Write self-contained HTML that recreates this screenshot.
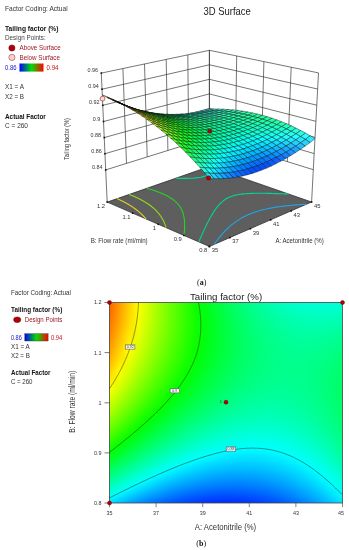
<!DOCTYPE html>
<html><head><meta charset="utf-8"><title>Tailing factor response surface</title>
<style>html,body{margin:0;padding:0;background:#fff}body{width:349px;height:550px;overflow:hidden}svg{display:block}
.cap{position:absolute;font-family:"Liberation Serif",serif;font-size:8px;color:#111;white-space:nowrap}</style></head>
<body>
<svg width="349" height="550" viewBox="0 0 349 550" font-family='"Liberation Sans", sans-serif'>
<defs><linearGradient id="g0"><stop offset="0" stop-color="#ff6200"/><stop offset="0.04167" stop-color="#ff9900"/><stop offset="0.08333" stop-color="#ffce00"/><stop offset="0.125" stop-color="#feff00"/><stop offset="0.1667" stop-color="#cfff00"/><stop offset="0.2083" stop-color="#a2ff00"/><stop offset="0.25" stop-color="#77ff00"/><stop offset="0.2917" stop-color="#4fff00"/><stop offset="0.3333" stop-color="#29ff00"/><stop offset="0.375" stop-color="#07ff00"/><stop offset="0.4167" stop-color="#00ff1a"/><stop offset="0.4583" stop-color="#00ff38"/><stop offset="0.5" stop-color="#00ff53"/><stop offset="0.5417" stop-color="#00ff6c"/><stop offset="0.5833" stop-color="#00ff82"/><stop offset="0.625" stop-color="#00ff96"/><stop offset="0.6667" stop-color="#00ffa7"/><stop offset="0.7083" stop-color="#00ffb6"/><stop offset="0.75" stop-color="#00ffc2"/><stop offset="0.7917" stop-color="#00ffcc"/><stop offset="0.8333" stop-color="#00ffd3"/><stop offset="0.875" stop-color="#00ffd7"/><stop offset="0.9167" stop-color="#00ffd9"/><stop offset="0.9583" stop-color="#00ffd9"/><stop offset="1" stop-color="#00ffd6"/></linearGradient><linearGradient id="g1"><stop offset="0" stop-color="#ff6300"/><stop offset="0.04167" stop-color="#ff9a00"/><stop offset="0.08333" stop-color="#ffce00"/><stop offset="0.125" stop-color="#feff00"/><stop offset="0.1667" stop-color="#ceff00"/><stop offset="0.2083" stop-color="#a2ff00"/><stop offset="0.25" stop-color="#77ff00"/><stop offset="0.2917" stop-color="#50ff00"/><stop offset="0.3333" stop-color="#2aff00"/><stop offset="0.375" stop-color="#08ff00"/><stop offset="0.4167" stop-color="#00ff19"/><stop offset="0.4583" stop-color="#00ff36"/><stop offset="0.5" stop-color="#00ff51"/><stop offset="0.5417" stop-color="#00ff6a"/><stop offset="0.5833" stop-color="#00ff80"/><stop offset="0.625" stop-color="#00ff93"/><stop offset="0.6667" stop-color="#00ffa4"/><stop offset="0.7083" stop-color="#00ffb3"/><stop offset="0.75" stop-color="#00ffbf"/><stop offset="0.7917" stop-color="#00ffc8"/><stop offset="0.8333" stop-color="#00ffcf"/><stop offset="0.875" stop-color="#00ffd3"/><stop offset="0.9167" stop-color="#00ffd5"/><stop offset="0.9583" stop-color="#00ffd4"/><stop offset="1" stop-color="#00ffd1"/></linearGradient><linearGradient id="g2"><stop offset="0" stop-color="#ff6400"/><stop offset="0.04167" stop-color="#ff9b00"/><stop offset="0.08333" stop-color="#ffcf00"/><stop offset="0.125" stop-color="#fdff00"/><stop offset="0.1667" stop-color="#ceff00"/><stop offset="0.2083" stop-color="#a1ff00"/><stop offset="0.25" stop-color="#77ff00"/><stop offset="0.2917" stop-color="#50ff00"/><stop offset="0.3333" stop-color="#2bff00"/><stop offset="0.375" stop-color="#09ff00"/><stop offset="0.4167" stop-color="#00ff17"/><stop offset="0.4583" stop-color="#00ff35"/><stop offset="0.5" stop-color="#00ff4f"/><stop offset="0.5417" stop-color="#00ff68"/><stop offset="0.5833" stop-color="#00ff7e"/><stop offset="0.625" stop-color="#00ff91"/><stop offset="0.6667" stop-color="#00ffa1"/><stop offset="0.7083" stop-color="#00ffb0"/><stop offset="0.75" stop-color="#00ffbb"/><stop offset="0.7917" stop-color="#00ffc4"/><stop offset="0.8333" stop-color="#00ffcb"/><stop offset="0.875" stop-color="#00ffcf"/><stop offset="0.9167" stop-color="#00ffd0"/><stop offset="0.9583" stop-color="#00ffcf"/><stop offset="1" stop-color="#00ffcc"/></linearGradient><linearGradient id="g3"><stop offset="0" stop-color="#ff6600"/><stop offset="0.04167" stop-color="#ff9c00"/><stop offset="0.08333" stop-color="#ffd000"/><stop offset="0.125" stop-color="#fcff00"/><stop offset="0.1667" stop-color="#ceff00"/><stop offset="0.2083" stop-color="#a1ff00"/><stop offset="0.25" stop-color="#78ff00"/><stop offset="0.2917" stop-color="#50ff00"/><stop offset="0.3333" stop-color="#2cff00"/><stop offset="0.375" stop-color="#09ff00"/><stop offset="0.4167" stop-color="#00ff16"/><stop offset="0.4583" stop-color="#00ff33"/><stop offset="0.5" stop-color="#00ff4e"/><stop offset="0.5417" stop-color="#00ff66"/><stop offset="0.5833" stop-color="#00ff7b"/><stop offset="0.625" stop-color="#00ff8e"/><stop offset="0.6667" stop-color="#00ff9f"/><stop offset="0.7083" stop-color="#00ffad"/><stop offset="0.75" stop-color="#00ffb8"/><stop offset="0.7917" stop-color="#00ffc1"/><stop offset="0.8333" stop-color="#00ffc7"/><stop offset="0.875" stop-color="#00ffcb"/><stop offset="0.9167" stop-color="#00ffcc"/><stop offset="0.9583" stop-color="#00ffcb"/><stop offset="1" stop-color="#00ffc7"/></linearGradient><linearGradient id="g4"><stop offset="0" stop-color="#ff6800"/><stop offset="0.04167" stop-color="#ff9e00"/><stop offset="0.08333" stop-color="#ffd100"/><stop offset="0.125" stop-color="#fcff00"/><stop offset="0.1667" stop-color="#cdff00"/><stop offset="0.2083" stop-color="#a1ff00"/><stop offset="0.25" stop-color="#78ff00"/><stop offset="0.2917" stop-color="#51ff00"/><stop offset="0.3333" stop-color="#2cff00"/><stop offset="0.375" stop-color="#0aff00"/><stop offset="0.4167" stop-color="#00ff15"/><stop offset="0.4583" stop-color="#00ff32"/><stop offset="0.5" stop-color="#00ff4c"/><stop offset="0.5417" stop-color="#00ff64"/><stop offset="0.5833" stop-color="#00ff79"/><stop offset="0.625" stop-color="#00ff8c"/><stop offset="0.6667" stop-color="#00ff9c"/><stop offset="0.7083" stop-color="#00ffaa"/><stop offset="0.75" stop-color="#00ffb5"/><stop offset="0.7917" stop-color="#00ffbd"/><stop offset="0.8333" stop-color="#00ffc3"/><stop offset="0.875" stop-color="#00ffc7"/><stop offset="0.9167" stop-color="#00ffc8"/><stop offset="0.9583" stop-color="#00ffc6"/><stop offset="1" stop-color="#00ffc2"/></linearGradient><linearGradient id="g5"><stop offset="0" stop-color="#ff6900"/><stop offset="0.04167" stop-color="#ff9f00"/><stop offset="0.08333" stop-color="#ffd300"/><stop offset="0.125" stop-color="#fbff00"/><stop offset="0.1667" stop-color="#ccff00"/><stop offset="0.2083" stop-color="#a1ff00"/><stop offset="0.25" stop-color="#77ff00"/><stop offset="0.2917" stop-color="#51ff00"/><stop offset="0.3333" stop-color="#2dff00"/><stop offset="0.375" stop-color="#0bff00"/><stop offset="0.4167" stop-color="#00ff14"/><stop offset="0.4583" stop-color="#00ff31"/><stop offset="0.5" stop-color="#00ff4b"/><stop offset="0.5417" stop-color="#00ff62"/><stop offset="0.5833" stop-color="#00ff77"/><stop offset="0.625" stop-color="#00ff8a"/><stop offset="0.6667" stop-color="#00ff9a"/><stop offset="0.7083" stop-color="#00ffa7"/><stop offset="0.75" stop-color="#00ffb2"/><stop offset="0.7917" stop-color="#00ffba"/><stop offset="0.8333" stop-color="#00ffc0"/><stop offset="0.875" stop-color="#00ffc3"/><stop offset="0.9167" stop-color="#00ffc4"/><stop offset="0.9583" stop-color="#00ffc2"/><stop offset="1" stop-color="#00ffbe"/></linearGradient><linearGradient id="g6"><stop offset="0" stop-color="#ff6b00"/><stop offset="0.04167" stop-color="#ffa100"/><stop offset="0.08333" stop-color="#ffd400"/><stop offset="0.125" stop-color="#faff00"/><stop offset="0.1667" stop-color="#ccff00"/><stop offset="0.2083" stop-color="#a0ff00"/><stop offset="0.25" stop-color="#77ff00"/><stop offset="0.2917" stop-color="#51ff00"/><stop offset="0.3333" stop-color="#2dff00"/><stop offset="0.375" stop-color="#0bff00"/><stop offset="0.4167" stop-color="#00ff13"/><stop offset="0.4583" stop-color="#00ff30"/><stop offset="0.5" stop-color="#00ff49"/><stop offset="0.5417" stop-color="#00ff61"/><stop offset="0.5833" stop-color="#00ff75"/><stop offset="0.625" stop-color="#00ff88"/><stop offset="0.6667" stop-color="#00ff97"/><stop offset="0.7083" stop-color="#00ffa4"/><stop offset="0.75" stop-color="#00ffaf"/><stop offset="0.7917" stop-color="#00ffb7"/><stop offset="0.8333" stop-color="#00ffbc"/><stop offset="0.875" stop-color="#00ffbf"/><stop offset="0.9167" stop-color="#00ffc0"/><stop offset="0.9583" stop-color="#00ffbe"/><stop offset="1" stop-color="#00ffb9"/></linearGradient><linearGradient id="g7"><stop offset="0" stop-color="#ff6d00"/><stop offset="0.04167" stop-color="#ffa200"/><stop offset="0.08333" stop-color="#ffd500"/><stop offset="0.125" stop-color="#f8ff00"/><stop offset="0.1667" stop-color="#cbff00"/><stop offset="0.2083" stop-color="#9fff00"/><stop offset="0.25" stop-color="#77ff00"/><stop offset="0.2917" stop-color="#51ff00"/><stop offset="0.3333" stop-color="#2dff00"/><stop offset="0.375" stop-color="#0cff00"/><stop offset="0.4167" stop-color="#00ff13"/><stop offset="0.4583" stop-color="#00ff2f"/><stop offset="0.5" stop-color="#00ff48"/><stop offset="0.5417" stop-color="#00ff5f"/><stop offset="0.5833" stop-color="#00ff74"/><stop offset="0.625" stop-color="#00ff86"/><stop offset="0.6667" stop-color="#00ff95"/><stop offset="0.7083" stop-color="#00ffa2"/><stop offset="0.75" stop-color="#00ffac"/><stop offset="0.7917" stop-color="#00ffb4"/><stop offset="0.8333" stop-color="#00ffb9"/><stop offset="0.875" stop-color="#00ffbc"/><stop offset="0.9167" stop-color="#00ffbc"/><stop offset="0.9583" stop-color="#00ffba"/><stop offset="1" stop-color="#00ffb5"/></linearGradient><linearGradient id="g8"><stop offset="0" stop-color="#ff6f00"/><stop offset="0.04167" stop-color="#ffa400"/><stop offset="0.08333" stop-color="#ffd700"/><stop offset="0.125" stop-color="#f7ff00"/><stop offset="0.1667" stop-color="#caff00"/><stop offset="0.2083" stop-color="#9fff00"/><stop offset="0.25" stop-color="#76ff00"/><stop offset="0.2917" stop-color="#50ff00"/><stop offset="0.3333" stop-color="#2dff00"/><stop offset="0.375" stop-color="#0cff00"/><stop offset="0.4167" stop-color="#00ff12"/><stop offset="0.4583" stop-color="#00ff2e"/><stop offset="0.5" stop-color="#00ff47"/><stop offset="0.5417" stop-color="#00ff5e"/><stop offset="0.5833" stop-color="#00ff72"/><stop offset="0.625" stop-color="#00ff84"/><stop offset="0.6667" stop-color="#00ff93"/><stop offset="0.7083" stop-color="#00ff9f"/><stop offset="0.75" stop-color="#00ffa9"/><stop offset="0.7917" stop-color="#00ffb1"/><stop offset="0.8333" stop-color="#00ffb6"/><stop offset="0.875" stop-color="#00ffb8"/><stop offset="0.9167" stop-color="#00ffb8"/><stop offset="0.9583" stop-color="#00ffb6"/><stop offset="1" stop-color="#00ffb1"/></linearGradient><linearGradient id="g9"><stop offset="0" stop-color="#ff7100"/><stop offset="0.04167" stop-color="#ffa600"/><stop offset="0.08333" stop-color="#ffd900"/><stop offset="0.125" stop-color="#f6ff00"/><stop offset="0.1667" stop-color="#c8ff00"/><stop offset="0.2083" stop-color="#9eff00"/><stop offset="0.25" stop-color="#76ff00"/><stop offset="0.2917" stop-color="#50ff00"/><stop offset="0.3333" stop-color="#2dff00"/><stop offset="0.375" stop-color="#0cff00"/><stop offset="0.4167" stop-color="#00ff12"/><stop offset="0.4583" stop-color="#00ff2d"/><stop offset="0.5" stop-color="#00ff46"/><stop offset="0.5417" stop-color="#00ff5d"/><stop offset="0.5833" stop-color="#00ff71"/><stop offset="0.625" stop-color="#00ff82"/><stop offset="0.6667" stop-color="#00ff91"/><stop offset="0.7083" stop-color="#00ff9d"/><stop offset="0.75" stop-color="#00ffa7"/><stop offset="0.7917" stop-color="#00ffae"/><stop offset="0.8333" stop-color="#00ffb3"/><stop offset="0.875" stop-color="#00ffb5"/><stop offset="0.9167" stop-color="#00ffb5"/><stop offset="0.9583" stop-color="#00ffb2"/><stop offset="1" stop-color="#00ffac"/></linearGradient><linearGradient id="g10"><stop offset="0" stop-color="#ff7400"/><stop offset="0.04167" stop-color="#ffa800"/><stop offset="0.08333" stop-color="#ffda00"/><stop offset="0.125" stop-color="#f4ff00"/><stop offset="0.1667" stop-color="#c7ff00"/><stop offset="0.2083" stop-color="#9dff00"/><stop offset="0.25" stop-color="#75ff00"/><stop offset="0.2917" stop-color="#50ff00"/><stop offset="0.3333" stop-color="#2dff00"/><stop offset="0.375" stop-color="#0cff00"/><stop offset="0.4167" stop-color="#00ff11"/><stop offset="0.4583" stop-color="#00ff2d"/><stop offset="0.5" stop-color="#00ff45"/><stop offset="0.5417" stop-color="#00ff5c"/><stop offset="0.5833" stop-color="#00ff6f"/><stop offset="0.625" stop-color="#00ff80"/><stop offset="0.6667" stop-color="#00ff8f"/><stop offset="0.7083" stop-color="#00ff9b"/><stop offset="0.75" stop-color="#00ffa4"/><stop offset="0.7917" stop-color="#00ffab"/><stop offset="0.8333" stop-color="#00ffb0"/><stop offset="0.875" stop-color="#00ffb2"/><stop offset="0.9167" stop-color="#00ffb1"/><stop offset="0.9583" stop-color="#00ffae"/><stop offset="1" stop-color="#00ffa8"/></linearGradient><linearGradient id="g11"><stop offset="0" stop-color="#ff7600"/><stop offset="0.04167" stop-color="#ffaa00"/><stop offset="0.08333" stop-color="#ffdc00"/><stop offset="0.125" stop-color="#f3ff00"/><stop offset="0.1667" stop-color="#c6ff00"/><stop offset="0.2083" stop-color="#9cff00"/><stop offset="0.25" stop-color="#74ff00"/><stop offset="0.2917" stop-color="#4fff00"/><stop offset="0.3333" stop-color="#2cff00"/><stop offset="0.375" stop-color="#0cff00"/><stop offset="0.4167" stop-color="#00ff11"/><stop offset="0.4583" stop-color="#00ff2c"/><stop offset="0.5" stop-color="#00ff45"/><stop offset="0.5417" stop-color="#00ff5a"/><stop offset="0.5833" stop-color="#00ff6e"/><stop offset="0.625" stop-color="#00ff7f"/><stop offset="0.6667" stop-color="#00ff8d"/><stop offset="0.7083" stop-color="#00ff99"/><stop offset="0.75" stop-color="#00ffa2"/><stop offset="0.7917" stop-color="#00ffa9"/><stop offset="0.8333" stop-color="#00ffad"/><stop offset="0.875" stop-color="#00ffaf"/><stop offset="0.9167" stop-color="#00ffae"/><stop offset="0.9583" stop-color="#00ffaa"/><stop offset="1" stop-color="#00ffa4"/></linearGradient><linearGradient id="g12"><stop offset="0" stop-color="#ff7900"/><stop offset="0.04167" stop-color="#ffad00"/><stop offset="0.08333" stop-color="#ffde00"/><stop offset="0.125" stop-color="#f1ff00"/><stop offset="0.1667" stop-color="#c4ff00"/><stop offset="0.2083" stop-color="#9aff00"/><stop offset="0.25" stop-color="#73ff00"/><stop offset="0.2917" stop-color="#4eff00"/><stop offset="0.3333" stop-color="#2cff00"/><stop offset="0.375" stop-color="#0cff00"/><stop offset="0.4167" stop-color="#00ff11"/><stop offset="0.4583" stop-color="#00ff2c"/><stop offset="0.5" stop-color="#00ff44"/><stop offset="0.5417" stop-color="#00ff5a"/><stop offset="0.5833" stop-color="#00ff6d"/><stop offset="0.625" stop-color="#00ff7d"/><stop offset="0.6667" stop-color="#00ff8b"/><stop offset="0.7083" stop-color="#00ff97"/><stop offset="0.75" stop-color="#00ffa0"/><stop offset="0.7917" stop-color="#00ffa6"/><stop offset="0.8333" stop-color="#00ffaa"/><stop offset="0.875" stop-color="#00ffac"/><stop offset="0.9167" stop-color="#00ffaa"/><stop offset="0.9583" stop-color="#00ffa7"/><stop offset="1" stop-color="#00ffa1"/></linearGradient><linearGradient id="g13"><stop offset="0" stop-color="#ff7b00"/><stop offset="0.04167" stop-color="#ffaf00"/><stop offset="0.08333" stop-color="#ffe000"/><stop offset="0.125" stop-color="#efff00"/><stop offset="0.1667" stop-color="#c3ff00"/><stop offset="0.2083" stop-color="#99ff00"/><stop offset="0.25" stop-color="#72ff00"/><stop offset="0.2917" stop-color="#4dff00"/><stop offset="0.3333" stop-color="#2bff00"/><stop offset="0.375" stop-color="#0cff00"/><stop offset="0.4167" stop-color="#00ff11"/><stop offset="0.4583" stop-color="#00ff2c"/><stop offset="0.5" stop-color="#00ff43"/><stop offset="0.5417" stop-color="#00ff59"/><stop offset="0.5833" stop-color="#00ff6c"/><stop offset="0.625" stop-color="#00ff7c"/><stop offset="0.6667" stop-color="#00ff8a"/><stop offset="0.7083" stop-color="#00ff95"/><stop offset="0.75" stop-color="#00ff9e"/><stop offset="0.7917" stop-color="#00ffa4"/><stop offset="0.8333" stop-color="#00ffa8"/><stop offset="0.875" stop-color="#00ffa9"/><stop offset="0.9167" stop-color="#00ffa7"/><stop offset="0.9583" stop-color="#00ffa3"/><stop offset="1" stop-color="#00ff9d"/></linearGradient><linearGradient id="g14"><stop offset="0" stop-color="#ff7e00"/><stop offset="0.04167" stop-color="#ffb200"/><stop offset="0.08333" stop-color="#ffe300"/><stop offset="0.125" stop-color="#edff00"/><stop offset="0.1667" stop-color="#c1ff00"/><stop offset="0.2083" stop-color="#98ff00"/><stop offset="0.25" stop-color="#71ff00"/><stop offset="0.2917" stop-color="#4dff00"/><stop offset="0.3333" stop-color="#2bff00"/><stop offset="0.375" stop-color="#0bff00"/><stop offset="0.4167" stop-color="#00ff11"/><stop offset="0.4583" stop-color="#00ff2b"/><stop offset="0.5" stop-color="#00ff43"/><stop offset="0.5417" stop-color="#00ff58"/><stop offset="0.5833" stop-color="#00ff6b"/><stop offset="0.625" stop-color="#00ff7b"/><stop offset="0.6667" stop-color="#00ff88"/><stop offset="0.7083" stop-color="#00ff93"/><stop offset="0.75" stop-color="#00ff9c"/><stop offset="0.7917" stop-color="#00ffa2"/><stop offset="0.8333" stop-color="#00ffa5"/><stop offset="0.875" stop-color="#00ffa6"/><stop offset="0.9167" stop-color="#00ffa4"/><stop offset="0.9583" stop-color="#00ffa0"/><stop offset="1" stop-color="#00ff99"/></linearGradient><linearGradient id="g15"><stop offset="0" stop-color="#ff8100"/><stop offset="0.04167" stop-color="#ffb400"/><stop offset="0.08333" stop-color="#ffe500"/><stop offset="0.125" stop-color="#ebff00"/><stop offset="0.1667" stop-color="#bfff00"/><stop offset="0.2083" stop-color="#96ff00"/><stop offset="0.25" stop-color="#70ff00"/><stop offset="0.2917" stop-color="#4bff00"/><stop offset="0.3333" stop-color="#2aff00"/><stop offset="0.375" stop-color="#0bff00"/><stop offset="0.4167" stop-color="#00ff11"/><stop offset="0.4583" stop-color="#00ff2b"/><stop offset="0.5" stop-color="#00ff43"/><stop offset="0.5417" stop-color="#00ff58"/><stop offset="0.5833" stop-color="#00ff6a"/><stop offset="0.625" stop-color="#00ff7a"/><stop offset="0.6667" stop-color="#00ff87"/><stop offset="0.7083" stop-color="#00ff92"/><stop offset="0.75" stop-color="#00ff9a"/><stop offset="0.7917" stop-color="#00ffa0"/><stop offset="0.8333" stop-color="#00ffa3"/><stop offset="0.875" stop-color="#00ffa3"/><stop offset="0.9167" stop-color="#00ffa1"/><stop offset="0.9583" stop-color="#00ff9d"/><stop offset="1" stop-color="#00ff96"/></linearGradient><linearGradient id="g16"><stop offset="0" stop-color="#ff8400"/><stop offset="0.04167" stop-color="#ffb700"/><stop offset="0.08333" stop-color="#ffe700"/><stop offset="0.125" stop-color="#e9ff00"/><stop offset="0.1667" stop-color="#bdff00"/><stop offset="0.2083" stop-color="#94ff00"/><stop offset="0.25" stop-color="#6eff00"/><stop offset="0.2917" stop-color="#4aff00"/><stop offset="0.3333" stop-color="#29ff00"/><stop offset="0.375" stop-color="#0aff00"/><stop offset="0.4167" stop-color="#00ff12"/><stop offset="0.4583" stop-color="#00ff2c"/><stop offset="0.5" stop-color="#00ff43"/><stop offset="0.5417" stop-color="#00ff57"/><stop offset="0.5833" stop-color="#00ff69"/><stop offset="0.625" stop-color="#00ff79"/><stop offset="0.6667" stop-color="#00ff86"/><stop offset="0.7083" stop-color="#00ff90"/><stop offset="0.75" stop-color="#00ff98"/><stop offset="0.7917" stop-color="#00ff9e"/><stop offset="0.8333" stop-color="#00ffa0"/><stop offset="0.875" stop-color="#00ffa1"/><stop offset="0.9167" stop-color="#00ff9f"/><stop offset="0.9583" stop-color="#00ff9a"/><stop offset="1" stop-color="#00ff93"/></linearGradient><linearGradient id="g17"><stop offset="0" stop-color="#ff8700"/><stop offset="0.04167" stop-color="#ffba00"/><stop offset="0.08333" stop-color="#ffea00"/><stop offset="0.125" stop-color="#e6ff00"/><stop offset="0.1667" stop-color="#bbff00"/><stop offset="0.2083" stop-color="#93ff00"/><stop offset="0.25" stop-color="#6dff00"/><stop offset="0.2917" stop-color="#49ff00"/><stop offset="0.3333" stop-color="#28ff00"/><stop offset="0.375" stop-color="#0aff00"/><stop offset="0.4167" stop-color="#00ff12"/><stop offset="0.4583" stop-color="#00ff2c"/><stop offset="0.5" stop-color="#00ff43"/><stop offset="0.5417" stop-color="#00ff57"/><stop offset="0.5833" stop-color="#00ff69"/><stop offset="0.625" stop-color="#00ff78"/><stop offset="0.6667" stop-color="#00ff85"/><stop offset="0.7083" stop-color="#00ff8f"/><stop offset="0.75" stop-color="#00ff97"/><stop offset="0.7917" stop-color="#00ff9c"/><stop offset="0.8333" stop-color="#00ff9e"/><stop offset="0.875" stop-color="#00ff9e"/><stop offset="0.9167" stop-color="#00ff9c"/><stop offset="0.9583" stop-color="#00ff97"/><stop offset="1" stop-color="#00ff8f"/></linearGradient><linearGradient id="g18"><stop offset="0" stop-color="#ff8a00"/><stop offset="0.04167" stop-color="#ffbd00"/><stop offset="0.08333" stop-color="#ffed00"/><stop offset="0.125" stop-color="#e4ff00"/><stop offset="0.1667" stop-color="#b9ff00"/><stop offset="0.2083" stop-color="#91ff00"/><stop offset="0.25" stop-color="#6bff00"/><stop offset="0.2917" stop-color="#48ff00"/><stop offset="0.3333" stop-color="#27ff00"/><stop offset="0.375" stop-color="#09ff00"/><stop offset="0.4167" stop-color="#00ff13"/><stop offset="0.4583" stop-color="#00ff2c"/><stop offset="0.5" stop-color="#00ff43"/><stop offset="0.5417" stop-color="#00ff57"/><stop offset="0.5833" stop-color="#00ff68"/><stop offset="0.625" stop-color="#00ff77"/><stop offset="0.6667" stop-color="#00ff84"/><stop offset="0.7083" stop-color="#00ff8e"/><stop offset="0.75" stop-color="#00ff95"/><stop offset="0.7917" stop-color="#00ff9a"/><stop offset="0.8333" stop-color="#00ff9c"/><stop offset="0.875" stop-color="#00ff9c"/><stop offset="0.9167" stop-color="#00ff99"/><stop offset="0.9583" stop-color="#00ff94"/><stop offset="1" stop-color="#00ff8c"/></linearGradient><linearGradient id="g19"><stop offset="0" stop-color="#ff8e00"/><stop offset="0.04167" stop-color="#ffc000"/><stop offset="0.08333" stop-color="#fff000"/><stop offset="0.125" stop-color="#e1ff00"/><stop offset="0.1667" stop-color="#b7ff00"/><stop offset="0.2083" stop-color="#8fff00"/><stop offset="0.25" stop-color="#69ff00"/><stop offset="0.2917" stop-color="#46ff00"/><stop offset="0.3333" stop-color="#26ff00"/><stop offset="0.375" stop-color="#08ff00"/><stop offset="0.4167" stop-color="#00ff14"/><stop offset="0.4583" stop-color="#00ff2d"/><stop offset="0.5" stop-color="#00ff43"/><stop offset="0.5417" stop-color="#00ff57"/><stop offset="0.5833" stop-color="#00ff68"/><stop offset="0.625" stop-color="#00ff77"/><stop offset="0.6667" stop-color="#00ff83"/><stop offset="0.7083" stop-color="#00ff8c"/><stop offset="0.75" stop-color="#00ff94"/><stop offset="0.7917" stop-color="#00ff98"/><stop offset="0.8333" stop-color="#00ff9a"/><stop offset="0.875" stop-color="#00ff9a"/><stop offset="0.9167" stop-color="#00ff97"/><stop offset="0.9583" stop-color="#00ff91"/><stop offset="1" stop-color="#00ff89"/></linearGradient><linearGradient id="g20"><stop offset="0" stop-color="#ff9100"/><stop offset="0.04167" stop-color="#ffc300"/><stop offset="0.08333" stop-color="#fff300"/><stop offset="0.125" stop-color="#dfff00"/><stop offset="0.1667" stop-color="#b4ff00"/><stop offset="0.2083" stop-color="#8cff00"/><stop offset="0.25" stop-color="#67ff00"/><stop offset="0.2917" stop-color="#44ff00"/><stop offset="0.3333" stop-color="#24ff00"/><stop offset="0.375" stop-color="#07ff00"/><stop offset="0.4167" stop-color="#00ff14"/><stop offset="0.4583" stop-color="#00ff2d"/><stop offset="0.5" stop-color="#00ff43"/><stop offset="0.5417" stop-color="#00ff57"/><stop offset="0.5833" stop-color="#00ff68"/><stop offset="0.625" stop-color="#00ff76"/><stop offset="0.6667" stop-color="#00ff82"/><stop offset="0.7083" stop-color="#00ff8b"/><stop offset="0.75" stop-color="#00ff92"/><stop offset="0.7917" stop-color="#00ff97"/><stop offset="0.8333" stop-color="#00ff98"/><stop offset="0.875" stop-color="#00ff98"/><stop offset="0.9167" stop-color="#00ff95"/><stop offset="0.9583" stop-color="#00ff8f"/><stop offset="1" stop-color="#00ff86"/></linearGradient><linearGradient id="g21"><stop offset="0" stop-color="#ff9500"/><stop offset="0.04167" stop-color="#ffc700"/><stop offset="0.08333" stop-color="#fff600"/><stop offset="0.125" stop-color="#dcff00"/><stop offset="0.1667" stop-color="#b2ff00"/><stop offset="0.2083" stop-color="#8aff00"/><stop offset="0.25" stop-color="#65ff00"/><stop offset="0.2917" stop-color="#43ff00"/><stop offset="0.3333" stop-color="#23ff00"/><stop offset="0.375" stop-color="#05ff00"/><stop offset="0.4167" stop-color="#00ff15"/><stop offset="0.4583" stop-color="#00ff2e"/><stop offset="0.5" stop-color="#00ff44"/><stop offset="0.5417" stop-color="#00ff57"/><stop offset="0.5833" stop-color="#00ff68"/><stop offset="0.625" stop-color="#00ff76"/><stop offset="0.6667" stop-color="#00ff81"/><stop offset="0.7083" stop-color="#00ff8b"/><stop offset="0.75" stop-color="#00ff91"/><stop offset="0.7917" stop-color="#00ff95"/><stop offset="0.8333" stop-color="#00ff97"/><stop offset="0.875" stop-color="#00ff96"/><stop offset="0.9167" stop-color="#00ff92"/><stop offset="0.9583" stop-color="#00ff8c"/><stop offset="1" stop-color="#00ff84"/></linearGradient><linearGradient id="g22"><stop offset="0" stop-color="#ff9900"/><stop offset="0.04167" stop-color="#ffca00"/><stop offset="0.08333" stop-color="#fff900"/><stop offset="0.125" stop-color="#d9ff00"/><stop offset="0.1667" stop-color="#afff00"/><stop offset="0.2083" stop-color="#88ff00"/><stop offset="0.25" stop-color="#63ff00"/><stop offset="0.2917" stop-color="#41ff00"/><stop offset="0.3333" stop-color="#21ff00"/><stop offset="0.375" stop-color="#04ff00"/><stop offset="0.4167" stop-color="#00ff17"/><stop offset="0.4583" stop-color="#00ff2f"/><stop offset="0.5" stop-color="#00ff44"/><stop offset="0.5417" stop-color="#00ff57"/><stop offset="0.5833" stop-color="#00ff68"/><stop offset="0.625" stop-color="#00ff76"/><stop offset="0.6667" stop-color="#00ff81"/><stop offset="0.7083" stop-color="#00ff8a"/><stop offset="0.75" stop-color="#00ff90"/><stop offset="0.7917" stop-color="#00ff94"/><stop offset="0.8333" stop-color="#00ff95"/><stop offset="0.875" stop-color="#00ff94"/><stop offset="0.9167" stop-color="#00ff90"/><stop offset="0.9583" stop-color="#00ff8a"/><stop offset="1" stop-color="#00ff81"/></linearGradient><linearGradient id="g23"><stop offset="0" stop-color="#ff9c00"/><stop offset="0.04167" stop-color="#ffce00"/><stop offset="0.08333" stop-color="#fffc00"/><stop offset="0.125" stop-color="#d6ff00"/><stop offset="0.1667" stop-color="#acff00"/><stop offset="0.2083" stop-color="#85ff00"/><stop offset="0.25" stop-color="#61ff00"/><stop offset="0.2917" stop-color="#3fff00"/><stop offset="0.3333" stop-color="#1fff00"/><stop offset="0.375" stop-color="#03ff00"/><stop offset="0.4167" stop-color="#00ff18"/><stop offset="0.4583" stop-color="#00ff2f"/><stop offset="0.5" stop-color="#00ff45"/><stop offset="0.5417" stop-color="#00ff58"/><stop offset="0.5833" stop-color="#00ff68"/><stop offset="0.625" stop-color="#00ff75"/><stop offset="0.6667" stop-color="#00ff81"/><stop offset="0.7083" stop-color="#00ff89"/><stop offset="0.75" stop-color="#00ff8f"/><stop offset="0.7917" stop-color="#00ff93"/><stop offset="0.8333" stop-color="#00ff94"/><stop offset="0.875" stop-color="#00ff92"/><stop offset="0.9167" stop-color="#00ff8e"/><stop offset="0.9583" stop-color="#00ff88"/><stop offset="1" stop-color="#00ff7e"/></linearGradient><linearGradient id="g24"><stop offset="0" stop-color="#ffa000"/><stop offset="0.04167" stop-color="#ffd100"/><stop offset="0.08333" stop-color="#feff00"/><stop offset="0.125" stop-color="#d3ff00"/><stop offset="0.1667" stop-color="#a9ff00"/><stop offset="0.2083" stop-color="#83ff00"/><stop offset="0.25" stop-color="#5eff00"/><stop offset="0.2917" stop-color="#3dff00"/><stop offset="0.3333" stop-color="#1eff00"/><stop offset="0.375" stop-color="#01ff00"/><stop offset="0.4167" stop-color="#00ff19"/><stop offset="0.4583" stop-color="#00ff31"/><stop offset="0.5" stop-color="#00ff46"/><stop offset="0.5417" stop-color="#00ff58"/><stop offset="0.5833" stop-color="#00ff68"/><stop offset="0.625" stop-color="#00ff75"/><stop offset="0.6667" stop-color="#00ff80"/><stop offset="0.7083" stop-color="#00ff89"/><stop offset="0.75" stop-color="#00ff8e"/><stop offset="0.7917" stop-color="#00ff92"/><stop offset="0.8333" stop-color="#00ff92"/><stop offset="0.875" stop-color="#00ff91"/><stop offset="0.9167" stop-color="#00ff8c"/><stop offset="0.9583" stop-color="#00ff85"/><stop offset="1" stop-color="#00ff7c"/></linearGradient><linearGradient id="g25"><stop offset="0" stop-color="#ffa400"/><stop offset="0.04167" stop-color="#ffd500"/><stop offset="0.08333" stop-color="#fbff00"/><stop offset="0.125" stop-color="#cfff00"/><stop offset="0.1667" stop-color="#a6ff00"/><stop offset="0.2083" stop-color="#80ff00"/><stop offset="0.25" stop-color="#5cff00"/><stop offset="0.2917" stop-color="#3bff00"/><stop offset="0.3333" stop-color="#1cff00"/><stop offset="0.375" stop-color="#00ff01"/><stop offset="0.4167" stop-color="#00ff1a"/><stop offset="0.4583" stop-color="#00ff32"/><stop offset="0.5" stop-color="#00ff46"/><stop offset="0.5417" stop-color="#00ff59"/><stop offset="0.5833" stop-color="#00ff68"/><stop offset="0.625" stop-color="#00ff75"/><stop offset="0.6667" stop-color="#00ff80"/><stop offset="0.7083" stop-color="#00ff88"/><stop offset="0.75" stop-color="#00ff8e"/><stop offset="0.7917" stop-color="#00ff91"/><stop offset="0.8333" stop-color="#00ff91"/><stop offset="0.875" stop-color="#00ff8f"/><stop offset="0.9167" stop-color="#00ff8b"/><stop offset="0.9583" stop-color="#00ff83"/><stop offset="1" stop-color="#00ff7a"/></linearGradient><linearGradient id="g26"><stop offset="0" stop-color="#ffa900"/><stop offset="0.04167" stop-color="#ffd900"/><stop offset="0.08333" stop-color="#f7ff00"/><stop offset="0.125" stop-color="#ccff00"/><stop offset="0.1667" stop-color="#a3ff00"/><stop offset="0.2083" stop-color="#7dff00"/><stop offset="0.25" stop-color="#59ff00"/><stop offset="0.2917" stop-color="#38ff00"/><stop offset="0.3333" stop-color="#1aff00"/><stop offset="0.375" stop-color="#00ff02"/><stop offset="0.4167" stop-color="#00ff1c"/><stop offset="0.4583" stop-color="#00ff33"/><stop offset="0.5" stop-color="#00ff47"/><stop offset="0.5417" stop-color="#00ff59"/><stop offset="0.5833" stop-color="#00ff69"/><stop offset="0.625" stop-color="#00ff76"/><stop offset="0.6667" stop-color="#00ff80"/><stop offset="0.7083" stop-color="#00ff88"/><stop offset="0.75" stop-color="#00ff8d"/><stop offset="0.7917" stop-color="#00ff90"/><stop offset="0.8333" stop-color="#00ff90"/><stop offset="0.875" stop-color="#00ff8e"/><stop offset="0.9167" stop-color="#00ff89"/><stop offset="0.9583" stop-color="#00ff82"/><stop offset="1" stop-color="#00ff78"/></linearGradient><linearGradient id="g27"><stop offset="0" stop-color="#ffad00"/><stop offset="0.04167" stop-color="#ffdd00"/><stop offset="0.08333" stop-color="#f3ff00"/><stop offset="0.125" stop-color="#c8ff00"/><stop offset="0.1667" stop-color="#a0ff00"/><stop offset="0.2083" stop-color="#7aff00"/><stop offset="0.25" stop-color="#57ff00"/><stop offset="0.2917" stop-color="#36ff00"/><stop offset="0.3333" stop-color="#17ff00"/><stop offset="0.375" stop-color="#00ff04"/><stop offset="0.4167" stop-color="#00ff1e"/><stop offset="0.4583" stop-color="#00ff34"/><stop offset="0.5" stop-color="#00ff49"/><stop offset="0.5417" stop-color="#00ff5a"/><stop offset="0.5833" stop-color="#00ff69"/><stop offset="0.625" stop-color="#00ff76"/><stop offset="0.6667" stop-color="#00ff80"/><stop offset="0.7083" stop-color="#00ff88"/><stop offset="0.75" stop-color="#00ff8d"/><stop offset="0.7917" stop-color="#00ff8f"/><stop offset="0.8333" stop-color="#00ff8f"/><stop offset="0.875" stop-color="#00ff8d"/><stop offset="0.9167" stop-color="#00ff87"/><stop offset="0.9583" stop-color="#00ff80"/><stop offset="1" stop-color="#00ff76"/></linearGradient><linearGradient id="g28"><stop offset="0" stop-color="#ffb100"/><stop offset="0.04167" stop-color="#ffe100"/><stop offset="0.08333" stop-color="#f0ff00"/><stop offset="0.125" stop-color="#c5ff00"/><stop offset="0.1667" stop-color="#9dff00"/><stop offset="0.2083" stop-color="#77ff00"/><stop offset="0.25" stop-color="#54ff00"/><stop offset="0.2917" stop-color="#33ff00"/><stop offset="0.3333" stop-color="#15ff00"/><stop offset="0.375" stop-color="#00ff06"/><stop offset="0.4167" stop-color="#00ff1f"/><stop offset="0.4583" stop-color="#00ff36"/><stop offset="0.5" stop-color="#00ff4a"/><stop offset="0.5417" stop-color="#00ff5b"/><stop offset="0.5833" stop-color="#00ff6a"/><stop offset="0.625" stop-color="#00ff76"/><stop offset="0.6667" stop-color="#00ff80"/><stop offset="0.7083" stop-color="#00ff88"/><stop offset="0.75" stop-color="#00ff8c"/><stop offset="0.7917" stop-color="#00ff8f"/><stop offset="0.8333" stop-color="#00ff8e"/><stop offset="0.875" stop-color="#00ff8b"/><stop offset="0.9167" stop-color="#00ff86"/><stop offset="0.9583" stop-color="#00ff7e"/><stop offset="1" stop-color="#00ff74"/></linearGradient><linearGradient id="g29"><stop offset="0" stop-color="#ffb600"/><stop offset="0.04167" stop-color="#ffe500"/><stop offset="0.08333" stop-color="#ecff00"/><stop offset="0.125" stop-color="#c1ff00"/><stop offset="0.1667" stop-color="#99ff00"/><stop offset="0.2083" stop-color="#74ff00"/><stop offset="0.25" stop-color="#51ff00"/><stop offset="0.2917" stop-color="#31ff00"/><stop offset="0.3333" stop-color="#13ff00"/><stop offset="0.375" stop-color="#00ff09"/><stop offset="0.4167" stop-color="#00ff21"/><stop offset="0.4583" stop-color="#00ff37"/><stop offset="0.5" stop-color="#00ff4b"/><stop offset="0.5417" stop-color="#00ff5c"/><stop offset="0.5833" stop-color="#00ff6b"/><stop offset="0.625" stop-color="#00ff77"/><stop offset="0.6667" stop-color="#00ff81"/><stop offset="0.7083" stop-color="#00ff88"/><stop offset="0.75" stop-color="#00ff8c"/><stop offset="0.7917" stop-color="#00ff8e"/><stop offset="0.8333" stop-color="#00ff8d"/><stop offset="0.875" stop-color="#00ff8a"/><stop offset="0.9167" stop-color="#00ff85"/><stop offset="0.9583" stop-color="#00ff7d"/><stop offset="1" stop-color="#00ff72"/></linearGradient><linearGradient id="g30"><stop offset="0" stop-color="#ffbb00"/><stop offset="0.04167" stop-color="#ffea00"/><stop offset="0.08333" stop-color="#e7ff00"/><stop offset="0.125" stop-color="#bdff00"/><stop offset="0.1667" stop-color="#96ff00"/><stop offset="0.2083" stop-color="#70ff00"/><stop offset="0.25" stop-color="#4eff00"/><stop offset="0.2917" stop-color="#2eff00"/><stop offset="0.3333" stop-color="#10ff00"/><stop offset="0.375" stop-color="#00ff0b"/><stop offset="0.4167" stop-color="#00ff23"/><stop offset="0.4583" stop-color="#00ff39"/><stop offset="0.5" stop-color="#00ff4d"/><stop offset="0.5417" stop-color="#00ff5d"/><stop offset="0.5833" stop-color="#00ff6c"/><stop offset="0.625" stop-color="#00ff78"/><stop offset="0.6667" stop-color="#00ff81"/><stop offset="0.7083" stop-color="#00ff88"/><stop offset="0.75" stop-color="#00ff8c"/><stop offset="0.7917" stop-color="#00ff8e"/><stop offset="0.8333" stop-color="#00ff8d"/><stop offset="0.875" stop-color="#00ff89"/><stop offset="0.9167" stop-color="#00ff84"/><stop offset="0.9583" stop-color="#00ff7b"/><stop offset="1" stop-color="#00ff70"/></linearGradient><linearGradient id="g31"><stop offset="0" stop-color="#ffbf00"/><stop offset="0.04167" stop-color="#ffee00"/><stop offset="0.08333" stop-color="#e3ff00"/><stop offset="0.125" stop-color="#b9ff00"/><stop offset="0.1667" stop-color="#92ff00"/><stop offset="0.2083" stop-color="#6dff00"/><stop offset="0.25" stop-color="#4bff00"/><stop offset="0.2917" stop-color="#2bff00"/><stop offset="0.3333" stop-color="#0eff00"/><stop offset="0.375" stop-color="#00ff0d"/><stop offset="0.4167" stop-color="#00ff25"/><stop offset="0.4583" stop-color="#00ff3b"/><stop offset="0.5" stop-color="#00ff4e"/><stop offset="0.5417" stop-color="#00ff5f"/><stop offset="0.5833" stop-color="#00ff6d"/><stop offset="0.625" stop-color="#00ff78"/><stop offset="0.6667" stop-color="#00ff81"/><stop offset="0.7083" stop-color="#00ff88"/><stop offset="0.75" stop-color="#00ff8c"/><stop offset="0.7917" stop-color="#00ff8d"/><stop offset="0.8333" stop-color="#00ff8c"/><stop offset="0.875" stop-color="#00ff89"/><stop offset="0.9167" stop-color="#00ff82"/><stop offset="0.9583" stop-color="#00ff7a"/><stop offset="1" stop-color="#00ff6f"/></linearGradient><linearGradient id="g32"><stop offset="0" stop-color="#ffc400"/><stop offset="0.04167" stop-color="#fff300"/><stop offset="0.08333" stop-color="#dfff00"/><stop offset="0.125" stop-color="#b5ff00"/><stop offset="0.1667" stop-color="#8eff00"/><stop offset="0.2083" stop-color="#69ff00"/><stop offset="0.25" stop-color="#47ff00"/><stop offset="0.2917" stop-color="#28ff00"/><stop offset="0.3333" stop-color="#0bff00"/><stop offset="0.375" stop-color="#00ff10"/><stop offset="0.4167" stop-color="#00ff28"/><stop offset="0.4583" stop-color="#00ff3d"/><stop offset="0.5" stop-color="#00ff50"/><stop offset="0.5417" stop-color="#00ff60"/><stop offset="0.5833" stop-color="#00ff6e"/><stop offset="0.625" stop-color="#00ff79"/><stop offset="0.6667" stop-color="#00ff82"/><stop offset="0.7083" stop-color="#00ff88"/><stop offset="0.75" stop-color="#00ff8c"/><stop offset="0.7917" stop-color="#00ff8d"/><stop offset="0.8333" stop-color="#00ff8c"/><stop offset="0.875" stop-color="#00ff88"/><stop offset="0.9167" stop-color="#00ff82"/><stop offset="0.9583" stop-color="#00ff79"/><stop offset="1" stop-color="#00ff6d"/></linearGradient><linearGradient id="g33"><stop offset="0" stop-color="#ffc900"/><stop offset="0.04167" stop-color="#fff800"/><stop offset="0.08333" stop-color="#daff00"/><stop offset="0.125" stop-color="#b1ff00"/><stop offset="0.1667" stop-color="#8aff00"/><stop offset="0.2083" stop-color="#66ff00"/><stop offset="0.25" stop-color="#44ff00"/><stop offset="0.2917" stop-color="#25ff00"/><stop offset="0.3333" stop-color="#08ff00"/><stop offset="0.375" stop-color="#00ff12"/><stop offset="0.4167" stop-color="#00ff2a"/><stop offset="0.4583" stop-color="#00ff3f"/><stop offset="0.5" stop-color="#00ff52"/><stop offset="0.5417" stop-color="#00ff62"/><stop offset="0.5833" stop-color="#00ff6f"/><stop offset="0.625" stop-color="#00ff7a"/><stop offset="0.6667" stop-color="#00ff83"/><stop offset="0.7083" stop-color="#00ff89"/><stop offset="0.75" stop-color="#00ff8c"/><stop offset="0.7917" stop-color="#00ff8d"/><stop offset="0.8333" stop-color="#00ff8c"/><stop offset="0.875" stop-color="#00ff87"/><stop offset="0.9167" stop-color="#00ff81"/><stop offset="0.9583" stop-color="#00ff77"/><stop offset="1" stop-color="#00ff6c"/></linearGradient><linearGradient id="g34"><stop offset="0" stop-color="#ffce00"/><stop offset="0.04167" stop-color="#fffc00"/><stop offset="0.08333" stop-color="#d6ff00"/><stop offset="0.125" stop-color="#adff00"/><stop offset="0.1667" stop-color="#86ff00"/><stop offset="0.2083" stop-color="#62ff00"/><stop offset="0.25" stop-color="#40ff00"/><stop offset="0.2917" stop-color="#21ff00"/><stop offset="0.3333" stop-color="#05ff00"/><stop offset="0.375" stop-color="#00ff15"/><stop offset="0.4167" stop-color="#00ff2c"/><stop offset="0.4583" stop-color="#00ff41"/><stop offset="0.5" stop-color="#00ff54"/><stop offset="0.5417" stop-color="#00ff63"/><stop offset="0.5833" stop-color="#00ff71"/><stop offset="0.625" stop-color="#00ff7c"/><stop offset="0.6667" stop-color="#00ff84"/><stop offset="0.7083" stop-color="#00ff89"/><stop offset="0.75" stop-color="#00ff8d"/><stop offset="0.7917" stop-color="#00ff8d"/><stop offset="0.8333" stop-color="#00ff8b"/><stop offset="0.875" stop-color="#00ff87"/><stop offset="0.9167" stop-color="#00ff80"/><stop offset="0.9583" stop-color="#00ff76"/><stop offset="1" stop-color="#00ff6a"/></linearGradient><linearGradient id="g35"><stop offset="0" stop-color="#ffd300"/><stop offset="0.04167" stop-color="#fdff00"/><stop offset="0.08333" stop-color="#d1ff00"/><stop offset="0.125" stop-color="#a8ff00"/><stop offset="0.1667" stop-color="#82ff00"/><stop offset="0.2083" stop-color="#5eff00"/><stop offset="0.25" stop-color="#3dff00"/><stop offset="0.2917" stop-color="#1eff00"/><stop offset="0.3333" stop-color="#02ff00"/><stop offset="0.375" stop-color="#00ff18"/><stop offset="0.4167" stop-color="#00ff2f"/><stop offset="0.4583" stop-color="#00ff44"/><stop offset="0.5" stop-color="#00ff56"/><stop offset="0.5417" stop-color="#00ff65"/><stop offset="0.5833" stop-color="#00ff72"/><stop offset="0.625" stop-color="#00ff7d"/><stop offset="0.6667" stop-color="#00ff85"/><stop offset="0.7083" stop-color="#00ff8a"/><stop offset="0.75" stop-color="#00ff8d"/><stop offset="0.7917" stop-color="#00ff8d"/><stop offset="0.8333" stop-color="#00ff8b"/><stop offset="0.875" stop-color="#00ff87"/><stop offset="0.9167" stop-color="#00ff7f"/><stop offset="0.9583" stop-color="#00ff76"/><stop offset="1" stop-color="#00ff69"/></linearGradient><linearGradient id="g36"><stop offset="0" stop-color="#ffd900"/><stop offset="0.04167" stop-color="#f7ff00"/><stop offset="0.08333" stop-color="#ccff00"/><stop offset="0.125" stop-color="#a4ff00"/><stop offset="0.1667" stop-color="#7eff00"/><stop offset="0.2083" stop-color="#5aff00"/><stop offset="0.25" stop-color="#39ff00"/><stop offset="0.2917" stop-color="#1bff00"/><stop offset="0.3333" stop-color="#00ff01"/><stop offset="0.375" stop-color="#00ff1b"/><stop offset="0.4167" stop-color="#00ff32"/><stop offset="0.4583" stop-color="#00ff46"/><stop offset="0.5" stop-color="#00ff58"/><stop offset="0.5417" stop-color="#00ff67"/><stop offset="0.5833" stop-color="#00ff74"/><stop offset="0.625" stop-color="#00ff7e"/><stop offset="0.6667" stop-color="#00ff86"/><stop offset="0.7083" stop-color="#00ff8b"/><stop offset="0.75" stop-color="#00ff8e"/><stop offset="0.7917" stop-color="#00ff8e"/><stop offset="0.8333" stop-color="#00ff8b"/><stop offset="0.875" stop-color="#00ff86"/><stop offset="0.9167" stop-color="#00ff7f"/><stop offset="0.9583" stop-color="#00ff75"/><stop offset="1" stop-color="#00ff68"/></linearGradient><linearGradient id="g37"><stop offset="0" stop-color="#ffde00"/><stop offset="0.04167" stop-color="#f2ff00"/><stop offset="0.08333" stop-color="#c7ff00"/><stop offset="0.125" stop-color="#9fff00"/><stop offset="0.1667" stop-color="#79ff00"/><stop offset="0.2083" stop-color="#56ff00"/><stop offset="0.25" stop-color="#35ff00"/><stop offset="0.2917" stop-color="#17ff00"/><stop offset="0.3333" stop-color="#00ff05"/><stop offset="0.375" stop-color="#00ff1e"/><stop offset="0.4167" stop-color="#00ff34"/><stop offset="0.4583" stop-color="#00ff49"/><stop offset="0.5" stop-color="#00ff5a"/><stop offset="0.5417" stop-color="#00ff69"/><stop offset="0.5833" stop-color="#00ff76"/><stop offset="0.625" stop-color="#00ff80"/><stop offset="0.6667" stop-color="#00ff87"/><stop offset="0.7083" stop-color="#00ff8c"/><stop offset="0.75" stop-color="#00ff8e"/><stop offset="0.7917" stop-color="#00ff8e"/><stop offset="0.8333" stop-color="#00ff8c"/><stop offset="0.875" stop-color="#00ff86"/><stop offset="0.9167" stop-color="#00ff7f"/><stop offset="0.9583" stop-color="#00ff74"/><stop offset="1" stop-color="#00ff67"/></linearGradient><linearGradient id="g38"><stop offset="0" stop-color="#ffe400"/><stop offset="0.04167" stop-color="#edff00"/><stop offset="0.08333" stop-color="#c2ff00"/><stop offset="0.125" stop-color="#9aff00"/><stop offset="0.1667" stop-color="#75ff00"/><stop offset="0.2083" stop-color="#52ff00"/><stop offset="0.25" stop-color="#31ff00"/><stop offset="0.2917" stop-color="#13ff00"/><stop offset="0.3333" stop-color="#00ff08"/><stop offset="0.375" stop-color="#00ff21"/><stop offset="0.4167" stop-color="#00ff37"/><stop offset="0.4583" stop-color="#00ff4b"/><stop offset="0.5" stop-color="#00ff5d"/><stop offset="0.5417" stop-color="#00ff6b"/><stop offset="0.5833" stop-color="#00ff78"/><stop offset="0.625" stop-color="#00ff81"/><stop offset="0.6667" stop-color="#00ff88"/><stop offset="0.7083" stop-color="#00ff8d"/><stop offset="0.75" stop-color="#00ff8f"/><stop offset="0.7917" stop-color="#00ff8f"/><stop offset="0.8333" stop-color="#00ff8c"/><stop offset="0.875" stop-color="#00ff86"/><stop offset="0.9167" stop-color="#00ff7e"/><stop offset="0.9583" stop-color="#00ff74"/><stop offset="1" stop-color="#00ff67"/></linearGradient><linearGradient id="g39"><stop offset="0" stop-color="#ffea00"/><stop offset="0.04167" stop-color="#e8ff00"/><stop offset="0.08333" stop-color="#bdff00"/><stop offset="0.125" stop-color="#95ff00"/><stop offset="0.1667" stop-color="#70ff00"/><stop offset="0.2083" stop-color="#4dff00"/><stop offset="0.25" stop-color="#2dff00"/><stop offset="0.2917" stop-color="#0fff00"/><stop offset="0.3333" stop-color="#00ff0c"/><stop offset="0.375" stop-color="#00ff24"/><stop offset="0.4167" stop-color="#00ff3a"/><stop offset="0.4583" stop-color="#00ff4e"/><stop offset="0.5" stop-color="#00ff5f"/><stop offset="0.5417" stop-color="#00ff6e"/><stop offset="0.5833" stop-color="#00ff7a"/><stop offset="0.625" stop-color="#00ff83"/><stop offset="0.6667" stop-color="#00ff8a"/><stop offset="0.7083" stop-color="#00ff8e"/><stop offset="0.75" stop-color="#00ff90"/><stop offset="0.7917" stop-color="#00ff8f"/><stop offset="0.8333" stop-color="#00ff8c"/><stop offset="0.875" stop-color="#00ff86"/><stop offset="0.9167" stop-color="#00ff7e"/><stop offset="0.9583" stop-color="#00ff73"/><stop offset="1" stop-color="#00ff66"/></linearGradient><linearGradient id="g40"><stop offset="0" stop-color="#ffef00"/><stop offset="0.04167" stop-color="#e2ff00"/><stop offset="0.08333" stop-color="#b8ff00"/><stop offset="0.125" stop-color="#90ff00"/><stop offset="0.1667" stop-color="#6bff00"/><stop offset="0.2083" stop-color="#49ff00"/><stop offset="0.25" stop-color="#29ff00"/><stop offset="0.2917" stop-color="#0bff00"/><stop offset="0.3333" stop-color="#00ff0f"/><stop offset="0.375" stop-color="#00ff28"/><stop offset="0.4167" stop-color="#00ff3e"/><stop offset="0.4583" stop-color="#00ff51"/><stop offset="0.5" stop-color="#00ff62"/><stop offset="0.5417" stop-color="#00ff70"/><stop offset="0.5833" stop-color="#00ff7c"/><stop offset="0.625" stop-color="#00ff85"/><stop offset="0.6667" stop-color="#00ff8b"/><stop offset="0.7083" stop-color="#00ff90"/><stop offset="0.75" stop-color="#00ff91"/><stop offset="0.7917" stop-color="#00ff90"/><stop offset="0.8333" stop-color="#00ff8d"/><stop offset="0.875" stop-color="#00ff87"/><stop offset="0.9167" stop-color="#00ff7e"/><stop offset="0.9583" stop-color="#00ff73"/><stop offset="1" stop-color="#00ff65"/></linearGradient><linearGradient id="g41"><stop offset="0" stop-color="#fff500"/><stop offset="0.04167" stop-color="#dcff00"/><stop offset="0.08333" stop-color="#b3ff00"/><stop offset="0.125" stop-color="#8bff00"/><stop offset="0.1667" stop-color="#66ff00"/><stop offset="0.2083" stop-color="#44ff00"/><stop offset="0.25" stop-color="#25ff00"/><stop offset="0.2917" stop-color="#07ff00"/><stop offset="0.3333" stop-color="#00ff13"/><stop offset="0.375" stop-color="#00ff2b"/><stop offset="0.4167" stop-color="#00ff41"/><stop offset="0.4583" stop-color="#00ff54"/><stop offset="0.5" stop-color="#00ff64"/><stop offset="0.5417" stop-color="#00ff72"/><stop offset="0.5833" stop-color="#00ff7e"/><stop offset="0.625" stop-color="#00ff87"/><stop offset="0.6667" stop-color="#00ff8d"/><stop offset="0.7083" stop-color="#00ff91"/><stop offset="0.75" stop-color="#00ff92"/><stop offset="0.7917" stop-color="#00ff91"/><stop offset="0.8333" stop-color="#00ff8d"/><stop offset="0.875" stop-color="#00ff87"/><stop offset="0.9167" stop-color="#00ff7e"/><stop offset="0.9583" stop-color="#00ff73"/><stop offset="1" stop-color="#00ff65"/></linearGradient><linearGradient id="g42"><stop offset="0" stop-color="#fffb00"/><stop offset="0.04167" stop-color="#d7ff00"/><stop offset="0.08333" stop-color="#adff00"/><stop offset="0.125" stop-color="#86ff00"/><stop offset="0.1667" stop-color="#61ff00"/><stop offset="0.2083" stop-color="#40ff00"/><stop offset="0.25" stop-color="#20ff00"/><stop offset="0.2917" stop-color="#03ff00"/><stop offset="0.3333" stop-color="#00ff17"/><stop offset="0.375" stop-color="#00ff2f"/><stop offset="0.4167" stop-color="#00ff44"/><stop offset="0.4583" stop-color="#00ff57"/><stop offset="0.5" stop-color="#00ff67"/><stop offset="0.5417" stop-color="#00ff75"/><stop offset="0.5833" stop-color="#00ff80"/><stop offset="0.625" stop-color="#00ff89"/><stop offset="0.6667" stop-color="#00ff8f"/><stop offset="0.7083" stop-color="#00ff93"/><stop offset="0.75" stop-color="#00ff94"/><stop offset="0.7917" stop-color="#00ff92"/><stop offset="0.8333" stop-color="#00ff8e"/><stop offset="0.875" stop-color="#00ff88"/><stop offset="0.9167" stop-color="#00ff7e"/><stop offset="0.9583" stop-color="#00ff73"/><stop offset="1" stop-color="#00ff65"/></linearGradient><linearGradient id="g43"><stop offset="0" stop-color="#fdff00"/><stop offset="0.04167" stop-color="#d1ff00"/><stop offset="0.08333" stop-color="#a7ff00"/><stop offset="0.125" stop-color="#81ff00"/><stop offset="0.1667" stop-color="#5cff00"/><stop offset="0.2083" stop-color="#3bff00"/><stop offset="0.25" stop-color="#1cff00"/><stop offset="0.2917" stop-color="#00ff01"/><stop offset="0.3333" stop-color="#00ff1b"/><stop offset="0.375" stop-color="#00ff33"/><stop offset="0.4167" stop-color="#00ff48"/><stop offset="0.4583" stop-color="#00ff5a"/><stop offset="0.5" stop-color="#00ff6a"/><stop offset="0.5417" stop-color="#00ff78"/><stop offset="0.5833" stop-color="#00ff83"/><stop offset="0.625" stop-color="#00ff8b"/><stop offset="0.6667" stop-color="#00ff91"/><stop offset="0.7083" stop-color="#00ff94"/><stop offset="0.75" stop-color="#00ff95"/><stop offset="0.7917" stop-color="#00ff93"/><stop offset="0.8333" stop-color="#00ff8f"/><stop offset="0.875" stop-color="#00ff88"/><stop offset="0.9167" stop-color="#00ff7f"/><stop offset="0.9583" stop-color="#00ff73"/><stop offset="1" stop-color="#00ff65"/></linearGradient><linearGradient id="g44"><stop offset="0" stop-color="#f6ff00"/><stop offset="0.04167" stop-color="#cbff00"/><stop offset="0.08333" stop-color="#a2ff00"/><stop offset="0.125" stop-color="#7bff00"/><stop offset="0.1667" stop-color="#57ff00"/><stop offset="0.2083" stop-color="#36ff00"/><stop offset="0.25" stop-color="#17ff00"/><stop offset="0.2917" stop-color="#00ff06"/><stop offset="0.3333" stop-color="#00ff1f"/><stop offset="0.375" stop-color="#00ff37"/><stop offset="0.4167" stop-color="#00ff4b"/><stop offset="0.4583" stop-color="#00ff5e"/><stop offset="0.5" stop-color="#00ff6d"/><stop offset="0.5417" stop-color="#00ff7b"/><stop offset="0.5833" stop-color="#00ff85"/><stop offset="0.625" stop-color="#00ff8d"/><stop offset="0.6667" stop-color="#00ff93"/><stop offset="0.7083" stop-color="#00ff96"/><stop offset="0.75" stop-color="#00ff97"/><stop offset="0.7917" stop-color="#00ff94"/><stop offset="0.8333" stop-color="#00ff90"/><stop offset="0.875" stop-color="#00ff89"/><stop offset="0.9167" stop-color="#00ff7f"/><stop offset="0.9583" stop-color="#00ff73"/><stop offset="1" stop-color="#00ff64"/></linearGradient><linearGradient id="g45"><stop offset="0" stop-color="#f0ff00"/><stop offset="0.04167" stop-color="#c5ff00"/><stop offset="0.08333" stop-color="#9cff00"/><stop offset="0.125" stop-color="#76ff00"/><stop offset="0.1667" stop-color="#52ff00"/><stop offset="0.2083" stop-color="#31ff00"/><stop offset="0.25" stop-color="#12ff00"/><stop offset="0.2917" stop-color="#00ff0a"/><stop offset="0.3333" stop-color="#00ff24"/><stop offset="0.375" stop-color="#00ff3b"/><stop offset="0.4167" stop-color="#00ff4f"/><stop offset="0.4583" stop-color="#00ff61"/><stop offset="0.5" stop-color="#00ff71"/><stop offset="0.5417" stop-color="#00ff7e"/><stop offset="0.5833" stop-color="#00ff88"/><stop offset="0.625" stop-color="#00ff90"/><stop offset="0.6667" stop-color="#00ff95"/><stop offset="0.7083" stop-color="#00ff98"/><stop offset="0.75" stop-color="#00ff98"/><stop offset="0.7917" stop-color="#00ff96"/><stop offset="0.8333" stop-color="#00ff91"/><stop offset="0.875" stop-color="#00ff8a"/><stop offset="0.9167" stop-color="#00ff80"/><stop offset="0.9583" stop-color="#00ff73"/><stop offset="1" stop-color="#00ff64"/></linearGradient><linearGradient id="g46"><stop offset="0" stop-color="#e9ff00"/><stop offset="0.04167" stop-color="#beff00"/><stop offset="0.08333" stop-color="#96ff00"/><stop offset="0.125" stop-color="#70ff00"/><stop offset="0.1667" stop-color="#4cff00"/><stop offset="0.2083" stop-color="#2bff00"/><stop offset="0.25" stop-color="#0dff00"/><stop offset="0.2917" stop-color="#00ff0f"/><stop offset="0.3333" stop-color="#00ff28"/><stop offset="0.375" stop-color="#00ff3f"/><stop offset="0.4167" stop-color="#00ff53"/><stop offset="0.4583" stop-color="#00ff65"/><stop offset="0.5" stop-color="#00ff74"/><stop offset="0.5417" stop-color="#00ff81"/><stop offset="0.5833" stop-color="#00ff8b"/><stop offset="0.625" stop-color="#00ff92"/><stop offset="0.6667" stop-color="#00ff97"/><stop offset="0.7083" stop-color="#00ff9a"/><stop offset="0.75" stop-color="#00ff9a"/><stop offset="0.7917" stop-color="#00ff97"/><stop offset="0.8333" stop-color="#00ff92"/><stop offset="0.875" stop-color="#00ff8b"/><stop offset="0.9167" stop-color="#00ff81"/><stop offset="0.9583" stop-color="#00ff74"/><stop offset="1" stop-color="#00ff65"/></linearGradient><linearGradient id="g47"><stop offset="0" stop-color="#e3ff00"/><stop offset="0.04167" stop-color="#b8ff00"/><stop offset="0.08333" stop-color="#90ff00"/><stop offset="0.125" stop-color="#6aff00"/><stop offset="0.1667" stop-color="#47ff00"/><stop offset="0.2083" stop-color="#26ff00"/><stop offset="0.25" stop-color="#08ff00"/><stop offset="0.2917" stop-color="#00ff13"/><stop offset="0.3333" stop-color="#00ff2d"/><stop offset="0.375" stop-color="#00ff43"/><stop offset="0.4167" stop-color="#00ff57"/><stop offset="0.4583" stop-color="#00ff68"/><stop offset="0.5" stop-color="#00ff77"/><stop offset="0.5417" stop-color="#00ff84"/><stop offset="0.5833" stop-color="#00ff8e"/><stop offset="0.625" stop-color="#00ff95"/><stop offset="0.6667" stop-color="#00ff9a"/><stop offset="0.7083" stop-color="#00ff9c"/><stop offset="0.75" stop-color="#00ff9c"/><stop offset="0.7917" stop-color="#00ff99"/><stop offset="0.8333" stop-color="#00ff94"/><stop offset="0.875" stop-color="#00ff8c"/><stop offset="0.9167" stop-color="#00ff81"/><stop offset="0.9583" stop-color="#00ff74"/><stop offset="1" stop-color="#00ff65"/></linearGradient><linearGradient id="g48"><stop offset="0" stop-color="#dcff00"/><stop offset="0.04167" stop-color="#b1ff00"/><stop offset="0.08333" stop-color="#8aff00"/><stop offset="0.125" stop-color="#64ff00"/><stop offset="0.1667" stop-color="#41ff00"/><stop offset="0.2083" stop-color="#21ff00"/><stop offset="0.25" stop-color="#03ff00"/><stop offset="0.2917" stop-color="#00ff18"/><stop offset="0.3333" stop-color="#00ff31"/><stop offset="0.375" stop-color="#00ff47"/><stop offset="0.4167" stop-color="#00ff5b"/><stop offset="0.4583" stop-color="#00ff6c"/><stop offset="0.5" stop-color="#00ff7b"/><stop offset="0.5417" stop-color="#00ff87"/><stop offset="0.5833" stop-color="#00ff91"/><stop offset="0.625" stop-color="#00ff98"/><stop offset="0.6667" stop-color="#00ff9c"/><stop offset="0.7083" stop-color="#00ff9e"/><stop offset="0.75" stop-color="#00ff9e"/><stop offset="0.7917" stop-color="#00ff9b"/><stop offset="0.8333" stop-color="#00ff95"/><stop offset="0.875" stop-color="#00ff8d"/><stop offset="0.9167" stop-color="#00ff82"/><stop offset="0.9583" stop-color="#00ff75"/><stop offset="1" stop-color="#00ff65"/></linearGradient><linearGradient id="g49"><stop offset="0" stop-color="#d5ff00"/><stop offset="0.04167" stop-color="#abff00"/><stop offset="0.08333" stop-color="#83ff00"/><stop offset="0.125" stop-color="#5eff00"/><stop offset="0.1667" stop-color="#3bff00"/><stop offset="0.2083" stop-color="#1bff00"/><stop offset="0.25" stop-color="#00ff02"/><stop offset="0.2917" stop-color="#00ff1d"/><stop offset="0.3333" stop-color="#00ff36"/><stop offset="0.375" stop-color="#00ff4c"/><stop offset="0.4167" stop-color="#00ff5f"/><stop offset="0.4583" stop-color="#00ff70"/><stop offset="0.5" stop-color="#00ff7f"/><stop offset="0.5417" stop-color="#00ff8b"/><stop offset="0.5833" stop-color="#00ff94"/><stop offset="0.625" stop-color="#00ff9b"/><stop offset="0.6667" stop-color="#00ff9f"/><stop offset="0.7083" stop-color="#00ffa1"/><stop offset="0.75" stop-color="#00ffa0"/><stop offset="0.7917" stop-color="#00ff9c"/><stop offset="0.8333" stop-color="#00ff97"/><stop offset="0.875" stop-color="#00ff8e"/><stop offset="0.9167" stop-color="#00ff83"/><stop offset="0.9583" stop-color="#00ff76"/><stop offset="1" stop-color="#00ff66"/></linearGradient><linearGradient id="g50"><stop offset="0" stop-color="#ceff00"/><stop offset="0.04167" stop-color="#a4ff00"/><stop offset="0.08333" stop-color="#7dff00"/><stop offset="0.125" stop-color="#58ff00"/><stop offset="0.1667" stop-color="#35ff00"/><stop offset="0.2083" stop-color="#16ff00"/><stop offset="0.25" stop-color="#00ff08"/><stop offset="0.2917" stop-color="#00ff23"/><stop offset="0.3333" stop-color="#00ff3b"/><stop offset="0.375" stop-color="#00ff50"/><stop offset="0.4167" stop-color="#00ff64"/><stop offset="0.4583" stop-color="#00ff74"/><stop offset="0.5" stop-color="#00ff82"/><stop offset="0.5417" stop-color="#00ff8e"/><stop offset="0.5833" stop-color="#00ff97"/><stop offset="0.625" stop-color="#00ff9e"/><stop offset="0.6667" stop-color="#00ffa2"/><stop offset="0.7083" stop-color="#00ffa3"/><stop offset="0.75" stop-color="#00ffa2"/><stop offset="0.7917" stop-color="#00ff9e"/><stop offset="0.8333" stop-color="#00ff98"/><stop offset="0.875" stop-color="#00ff90"/><stop offset="0.9167" stop-color="#00ff84"/><stop offset="0.9583" stop-color="#00ff77"/><stop offset="1" stop-color="#00ff66"/></linearGradient><linearGradient id="g51"><stop offset="0" stop-color="#c7ff00"/><stop offset="0.04167" stop-color="#9dff00"/><stop offset="0.08333" stop-color="#76ff00"/><stop offset="0.125" stop-color="#52ff00"/><stop offset="0.1667" stop-color="#2fff00"/><stop offset="0.2083" stop-color="#10ff00"/><stop offset="0.25" stop-color="#00ff0d"/><stop offset="0.2917" stop-color="#00ff28"/><stop offset="0.3333" stop-color="#00ff40"/><stop offset="0.375" stop-color="#00ff55"/><stop offset="0.4167" stop-color="#00ff68"/><stop offset="0.4583" stop-color="#00ff78"/><stop offset="0.5" stop-color="#00ff86"/><stop offset="0.5417" stop-color="#00ff92"/><stop offset="0.5833" stop-color="#00ff9a"/><stop offset="0.625" stop-color="#00ffa1"/><stop offset="0.6667" stop-color="#00ffa4"/><stop offset="0.7083" stop-color="#00ffa6"/><stop offset="0.75" stop-color="#00ffa4"/><stop offset="0.7917" stop-color="#00ffa0"/><stop offset="0.8333" stop-color="#00ff9a"/><stop offset="0.875" stop-color="#00ff91"/><stop offset="0.9167" stop-color="#00ff86"/><stop offset="0.9583" stop-color="#00ff78"/><stop offset="1" stop-color="#00ff67"/></linearGradient><linearGradient id="g52"><stop offset="0" stop-color="#c0ff00"/><stop offset="0.04167" stop-color="#96ff00"/><stop offset="0.08333" stop-color="#6fff00"/><stop offset="0.125" stop-color="#4bff00"/><stop offset="0.1667" stop-color="#29ff00"/><stop offset="0.2083" stop-color="#0aff00"/><stop offset="0.25" stop-color="#00ff13"/><stop offset="0.2917" stop-color="#00ff2d"/><stop offset="0.3333" stop-color="#00ff45"/><stop offset="0.375" stop-color="#00ff5a"/><stop offset="0.4167" stop-color="#00ff6d"/><stop offset="0.4583" stop-color="#00ff7d"/><stop offset="0.5" stop-color="#00ff8a"/><stop offset="0.5417" stop-color="#00ff95"/><stop offset="0.5833" stop-color="#00ff9e"/><stop offset="0.625" stop-color="#00ffa4"/><stop offset="0.6667" stop-color="#00ffa7"/><stop offset="0.7083" stop-color="#00ffa8"/><stop offset="0.75" stop-color="#00ffa7"/><stop offset="0.7917" stop-color="#00ffa3"/><stop offset="0.8333" stop-color="#00ff9c"/><stop offset="0.875" stop-color="#00ff93"/><stop offset="0.9167" stop-color="#00ff87"/><stop offset="0.9583" stop-color="#00ff79"/><stop offset="1" stop-color="#00ff68"/></linearGradient><linearGradient id="g53"><stop offset="0" stop-color="#b9ff00"/><stop offset="0.04167" stop-color="#8fff00"/><stop offset="0.08333" stop-color="#69ff00"/><stop offset="0.125" stop-color="#45ff00"/><stop offset="0.1667" stop-color="#23ff00"/><stop offset="0.2083" stop-color="#04ff00"/><stop offset="0.25" stop-color="#00ff19"/><stop offset="0.2917" stop-color="#00ff33"/><stop offset="0.3333" stop-color="#00ff4a"/><stop offset="0.375" stop-color="#00ff5f"/><stop offset="0.4167" stop-color="#00ff71"/><stop offset="0.4583" stop-color="#00ff81"/><stop offset="0.5" stop-color="#00ff8f"/><stop offset="0.5417" stop-color="#00ff99"/><stop offset="0.5833" stop-color="#00ffa2"/><stop offset="0.625" stop-color="#00ffa7"/><stop offset="0.6667" stop-color="#00ffab"/><stop offset="0.7083" stop-color="#00ffab"/><stop offset="0.75" stop-color="#00ffa9"/><stop offset="0.7917" stop-color="#00ffa5"/><stop offset="0.8333" stop-color="#00ff9e"/><stop offset="0.875" stop-color="#00ff95"/><stop offset="0.9167" stop-color="#00ff89"/><stop offset="0.9583" stop-color="#00ff7a"/><stop offset="1" stop-color="#00ff69"/></linearGradient><linearGradient id="g54"><stop offset="0" stop-color="#b1ff00"/><stop offset="0.04167" stop-color="#88ff00"/><stop offset="0.08333" stop-color="#62ff00"/><stop offset="0.125" stop-color="#3eff00"/><stop offset="0.1667" stop-color="#1dff00"/><stop offset="0.2083" stop-color="#00ff02"/><stop offset="0.25" stop-color="#00ff1e"/><stop offset="0.2917" stop-color="#00ff38"/><stop offset="0.3333" stop-color="#00ff4f"/><stop offset="0.375" stop-color="#00ff64"/><stop offset="0.4167" stop-color="#00ff76"/><stop offset="0.4583" stop-color="#00ff86"/><stop offset="0.5" stop-color="#00ff93"/><stop offset="0.5417" stop-color="#00ff9d"/><stop offset="0.5833" stop-color="#00ffa5"/><stop offset="0.625" stop-color="#00ffab"/><stop offset="0.6667" stop-color="#00ffae"/><stop offset="0.7083" stop-color="#00ffae"/><stop offset="0.75" stop-color="#00ffac"/><stop offset="0.7917" stop-color="#00ffa7"/><stop offset="0.8333" stop-color="#00ffa0"/><stop offset="0.875" stop-color="#00ff96"/><stop offset="0.9167" stop-color="#00ff8a"/><stop offset="0.9583" stop-color="#00ff7b"/><stop offset="1" stop-color="#00ff6a"/></linearGradient><linearGradient id="g55"><stop offset="0" stop-color="#aaff00"/><stop offset="0.04167" stop-color="#81ff00"/><stop offset="0.08333" stop-color="#5bff00"/><stop offset="0.125" stop-color="#37ff00"/><stop offset="0.1667" stop-color="#16ff00"/><stop offset="0.2083" stop-color="#00ff08"/><stop offset="0.25" stop-color="#00ff24"/><stop offset="0.2917" stop-color="#00ff3e"/><stop offset="0.3333" stop-color="#00ff55"/><stop offset="0.375" stop-color="#00ff69"/><stop offset="0.4167" stop-color="#00ff7b"/><stop offset="0.4583" stop-color="#00ff8a"/><stop offset="0.5" stop-color="#00ff97"/><stop offset="0.5417" stop-color="#00ffa1"/><stop offset="0.5833" stop-color="#00ffa9"/><stop offset="0.625" stop-color="#00ffae"/><stop offset="0.6667" stop-color="#00ffb1"/><stop offset="0.7083" stop-color="#00ffb1"/><stop offset="0.75" stop-color="#00ffaf"/><stop offset="0.7917" stop-color="#00ffaa"/><stop offset="0.8333" stop-color="#00ffa2"/><stop offset="0.875" stop-color="#00ff98"/><stop offset="0.9167" stop-color="#00ff8c"/><stop offset="0.9583" stop-color="#00ff7d"/><stop offset="1" stop-color="#00ff6b"/></linearGradient><linearGradient id="g56"><stop offset="0" stop-color="#a2ff00"/><stop offset="0.04167" stop-color="#79ff00"/><stop offset="0.08333" stop-color="#54ff00"/><stop offset="0.125" stop-color="#30ff00"/><stop offset="0.1667" stop-color="#10ff00"/><stop offset="0.2083" stop-color="#00ff0f"/><stop offset="0.25" stop-color="#00ff2a"/><stop offset="0.2917" stop-color="#00ff44"/><stop offset="0.3333" stop-color="#00ff5a"/><stop offset="0.375" stop-color="#00ff6e"/><stop offset="0.4167" stop-color="#00ff80"/><stop offset="0.4583" stop-color="#00ff8f"/><stop offset="0.5" stop-color="#00ff9c"/><stop offset="0.5417" stop-color="#00ffa6"/><stop offset="0.5833" stop-color="#00ffad"/><stop offset="0.625" stop-color="#00ffb2"/><stop offset="0.6667" stop-color="#00ffb4"/><stop offset="0.7083" stop-color="#00ffb4"/><stop offset="0.75" stop-color="#00ffb2"/><stop offset="0.7917" stop-color="#00ffad"/><stop offset="0.8333" stop-color="#00ffa5"/><stop offset="0.875" stop-color="#00ff9b"/><stop offset="0.9167" stop-color="#00ff8e"/><stop offset="0.9583" stop-color="#00ff7e"/><stop offset="1" stop-color="#00ff6d"/></linearGradient><linearGradient id="g57"><stop offset="0" stop-color="#9aff00"/><stop offset="0.04167" stop-color="#72ff00"/><stop offset="0.08333" stop-color="#4cff00"/><stop offset="0.125" stop-color="#29ff00"/><stop offset="0.1667" stop-color="#09ff00"/><stop offset="0.2083" stop-color="#00ff15"/><stop offset="0.25" stop-color="#00ff31"/><stop offset="0.2917" stop-color="#00ff4a"/><stop offset="0.3333" stop-color="#00ff60"/><stop offset="0.375" stop-color="#00ff74"/><stop offset="0.4167" stop-color="#00ff85"/><stop offset="0.4583" stop-color="#00ff94"/><stop offset="0.5" stop-color="#00ffa0"/><stop offset="0.5417" stop-color="#00ffaa"/><stop offset="0.5833" stop-color="#00ffb1"/><stop offset="0.625" stop-color="#00ffb6"/><stop offset="0.6667" stop-color="#00ffb8"/><stop offset="0.7083" stop-color="#00ffb8"/><stop offset="0.75" stop-color="#00ffb5"/><stop offset="0.7917" stop-color="#00ffaf"/><stop offset="0.8333" stop-color="#00ffa7"/><stop offset="0.875" stop-color="#00ff9d"/><stop offset="0.9167" stop-color="#00ff90"/><stop offset="0.9583" stop-color="#00ff80"/><stop offset="1" stop-color="#00ff6e"/></linearGradient><linearGradient id="g58"><stop offset="0" stop-color="#92ff00"/><stop offset="0.04167" stop-color="#6aff00"/><stop offset="0.08333" stop-color="#45ff00"/><stop offset="0.125" stop-color="#22ff00"/><stop offset="0.1667" stop-color="#02ff00"/><stop offset="0.2083" stop-color="#00ff1c"/><stop offset="0.25" stop-color="#00ff37"/><stop offset="0.2917" stop-color="#00ff50"/><stop offset="0.3333" stop-color="#00ff66"/><stop offset="0.375" stop-color="#00ff79"/><stop offset="0.4167" stop-color="#00ff8a"/><stop offset="0.4583" stop-color="#00ff99"/><stop offset="0.5" stop-color="#00ffa5"/><stop offset="0.5417" stop-color="#00ffae"/><stop offset="0.5833" stop-color="#00ffb5"/><stop offset="0.625" stop-color="#00ffba"/><stop offset="0.6667" stop-color="#00ffbc"/><stop offset="0.7083" stop-color="#00ffbb"/><stop offset="0.75" stop-color="#00ffb8"/><stop offset="0.7917" stop-color="#00ffb2"/><stop offset="0.8333" stop-color="#00ffaa"/><stop offset="0.875" stop-color="#00ff9f"/><stop offset="0.9167" stop-color="#00ff92"/><stop offset="0.9583" stop-color="#00ff82"/><stop offset="1" stop-color="#00ff70"/></linearGradient><linearGradient id="g59"><stop offset="0" stop-color="#8aff00"/><stop offset="0.04167" stop-color="#63ff00"/><stop offset="0.08333" stop-color="#3eff00"/><stop offset="0.125" stop-color="#1bff00"/><stop offset="0.1667" stop-color="#00ff05"/><stop offset="0.2083" stop-color="#00ff22"/><stop offset="0.25" stop-color="#00ff3d"/><stop offset="0.2917" stop-color="#00ff56"/><stop offset="0.3333" stop-color="#00ff6c"/><stop offset="0.375" stop-color="#00ff7f"/><stop offset="0.4167" stop-color="#00ff90"/><stop offset="0.4583" stop-color="#00ff9e"/><stop offset="0.5" stop-color="#00ffaa"/><stop offset="0.5417" stop-color="#00ffb3"/><stop offset="0.5833" stop-color="#00ffba"/><stop offset="0.625" stop-color="#00ffbe"/><stop offset="0.6667" stop-color="#00ffc0"/><stop offset="0.7083" stop-color="#00ffbf"/><stop offset="0.75" stop-color="#00ffbb"/><stop offset="0.7917" stop-color="#00ffb5"/><stop offset="0.8333" stop-color="#00ffad"/><stop offset="0.875" stop-color="#00ffa2"/><stop offset="0.9167" stop-color="#00ff94"/><stop offset="0.9583" stop-color="#00ff84"/><stop offset="1" stop-color="#00ff71"/></linearGradient><linearGradient id="g60"><stop offset="0" stop-color="#82ff00"/><stop offset="0.04167" stop-color="#5bff00"/><stop offset="0.08333" stop-color="#36ff00"/><stop offset="0.125" stop-color="#14ff00"/><stop offset="0.1667" stop-color="#00ff0c"/><stop offset="0.2083" stop-color="#00ff29"/><stop offset="0.25" stop-color="#00ff44"/><stop offset="0.2917" stop-color="#00ff5c"/><stop offset="0.3333" stop-color="#00ff72"/><stop offset="0.375" stop-color="#00ff85"/><stop offset="0.4167" stop-color="#00ff95"/><stop offset="0.4583" stop-color="#00ffa3"/><stop offset="0.5" stop-color="#00ffaf"/><stop offset="0.5417" stop-color="#00ffb8"/><stop offset="0.5833" stop-color="#00ffbe"/><stop offset="0.625" stop-color="#00ffc2"/><stop offset="0.6667" stop-color="#00ffc3"/><stop offset="0.7083" stop-color="#00ffc2"/><stop offset="0.75" stop-color="#00ffbf"/><stop offset="0.7917" stop-color="#00ffb8"/><stop offset="0.8333" stop-color="#00ffaf"/><stop offset="0.875" stop-color="#00ffa4"/><stop offset="0.9167" stop-color="#00ff96"/><stop offset="0.9583" stop-color="#00ff86"/><stop offset="1" stop-color="#00ff73"/></linearGradient><linearGradient id="g61"><stop offset="0" stop-color="#7aff00"/><stop offset="0.04167" stop-color="#53ff00"/><stop offset="0.08333" stop-color="#2eff00"/><stop offset="0.125" stop-color="#0cff00"/><stop offset="0.1667" stop-color="#00ff13"/><stop offset="0.2083" stop-color="#00ff30"/><stop offset="0.25" stop-color="#00ff4b"/><stop offset="0.2917" stop-color="#00ff63"/><stop offset="0.3333" stop-color="#00ff78"/><stop offset="0.375" stop-color="#00ff8b"/><stop offset="0.4167" stop-color="#00ff9b"/><stop offset="0.4583" stop-color="#00ffa9"/><stop offset="0.5" stop-color="#00ffb4"/><stop offset="0.5417" stop-color="#00ffbd"/><stop offset="0.5833" stop-color="#00ffc3"/><stop offset="0.625" stop-color="#00ffc6"/><stop offset="0.6667" stop-color="#00ffc7"/><stop offset="0.7083" stop-color="#00ffc6"/><stop offset="0.75" stop-color="#00ffc2"/><stop offset="0.7917" stop-color="#00ffbb"/><stop offset="0.8333" stop-color="#00ffb2"/><stop offset="0.875" stop-color="#00ffa7"/><stop offset="0.9167" stop-color="#00ff99"/><stop offset="0.9583" stop-color="#00ff88"/><stop offset="1" stop-color="#00ff75"/></linearGradient><linearGradient id="g62"><stop offset="0" stop-color="#71ff00"/><stop offset="0.04167" stop-color="#4bff00"/><stop offset="0.08333" stop-color="#26ff00"/><stop offset="0.125" stop-color="#05ff00"/><stop offset="0.1667" stop-color="#00ff1b"/><stop offset="0.2083" stop-color="#00ff37"/><stop offset="0.25" stop-color="#00ff51"/><stop offset="0.2917" stop-color="#00ff69"/><stop offset="0.3333" stop-color="#00ff7e"/><stop offset="0.375" stop-color="#00ff91"/><stop offset="0.4167" stop-color="#00ffa1"/><stop offset="0.4583" stop-color="#00ffae"/><stop offset="0.5" stop-color="#00ffb9"/><stop offset="0.5417" stop-color="#00ffc2"/><stop offset="0.5833" stop-color="#00ffc7"/><stop offset="0.625" stop-color="#00ffcb"/><stop offset="0.6667" stop-color="#00ffcc"/><stop offset="0.7083" stop-color="#00ffca"/><stop offset="0.75" stop-color="#00ffc6"/><stop offset="0.7917" stop-color="#00ffbf"/><stop offset="0.8333" stop-color="#00ffb6"/><stop offset="0.875" stop-color="#00ffaa"/><stop offset="0.9167" stop-color="#00ff9b"/><stop offset="0.9583" stop-color="#00ff8a"/><stop offset="1" stop-color="#00ff77"/></linearGradient><linearGradient id="g63"><stop offset="0" stop-color="#69ff00"/><stop offset="0.04167" stop-color="#42ff00"/><stop offset="0.08333" stop-color="#1eff00"/><stop offset="0.125" stop-color="#00ff03"/><stop offset="0.1667" stop-color="#00ff22"/><stop offset="0.2083" stop-color="#00ff3e"/><stop offset="0.25" stop-color="#00ff58"/><stop offset="0.2917" stop-color="#00ff70"/><stop offset="0.3333" stop-color="#00ff84"/><stop offset="0.375" stop-color="#00ff97"/><stop offset="0.4167" stop-color="#00ffa6"/><stop offset="0.4583" stop-color="#00ffb4"/><stop offset="0.5" stop-color="#00ffbe"/><stop offset="0.5417" stop-color="#00ffc7"/><stop offset="0.5833" stop-color="#00ffcc"/><stop offset="0.625" stop-color="#00ffcf"/><stop offset="0.6667" stop-color="#00ffd0"/><stop offset="0.7083" stop-color="#00ffce"/><stop offset="0.75" stop-color="#00ffc9"/><stop offset="0.7917" stop-color="#00ffc2"/><stop offset="0.8333" stop-color="#00ffb9"/><stop offset="0.875" stop-color="#00ffad"/><stop offset="0.9167" stop-color="#00ff9e"/><stop offset="0.9583" stop-color="#00ff8d"/><stop offset="1" stop-color="#00ff79"/></linearGradient><linearGradient id="g64"><stop offset="0" stop-color="#60ff00"/><stop offset="0.04167" stop-color="#3aff00"/><stop offset="0.08333" stop-color="#16ff00"/><stop offset="0.125" stop-color="#00ff0b"/><stop offset="0.1667" stop-color="#00ff2a"/><stop offset="0.2083" stop-color="#00ff46"/><stop offset="0.25" stop-color="#00ff5f"/><stop offset="0.2917" stop-color="#00ff76"/><stop offset="0.3333" stop-color="#00ff8b"/><stop offset="0.375" stop-color="#00ff9d"/><stop offset="0.4167" stop-color="#00ffac"/><stop offset="0.4583" stop-color="#00ffb9"/><stop offset="0.5" stop-color="#00ffc4"/><stop offset="0.5417" stop-color="#00ffcc"/><stop offset="0.5833" stop-color="#00ffd1"/><stop offset="0.625" stop-color="#00ffd4"/><stop offset="0.6667" stop-color="#00ffd4"/><stop offset="0.7083" stop-color="#00ffd2"/><stop offset="0.75" stop-color="#00ffcd"/><stop offset="0.7917" stop-color="#00ffc6"/><stop offset="0.8333" stop-color="#00ffbc"/><stop offset="0.875" stop-color="#00ffb0"/><stop offset="0.9167" stop-color="#00ffa1"/><stop offset="0.9583" stop-color="#00ff8f"/><stop offset="1" stop-color="#00ff7b"/></linearGradient><linearGradient id="g65"><stop offset="0" stop-color="#58ff00"/><stop offset="0.04167" stop-color="#32ff00"/><stop offset="0.08333" stop-color="#0eff00"/><stop offset="0.125" stop-color="#00ff13"/><stop offset="0.1667" stop-color="#00ff31"/><stop offset="0.2083" stop-color="#00ff4d"/><stop offset="0.25" stop-color="#00ff66"/><stop offset="0.2917" stop-color="#00ff7d"/><stop offset="0.3333" stop-color="#00ff92"/><stop offset="0.375" stop-color="#00ffa3"/><stop offset="0.4167" stop-color="#00ffb3"/><stop offset="0.4583" stop-color="#00ffbf"/><stop offset="0.5" stop-color="#00ffc9"/><stop offset="0.5417" stop-color="#00ffd1"/><stop offset="0.5833" stop-color="#00ffd6"/><stop offset="0.625" stop-color="#00ffd9"/><stop offset="0.6667" stop-color="#00ffd9"/><stop offset="0.7083" stop-color="#00ffd6"/><stop offset="0.75" stop-color="#00ffd1"/><stop offset="0.7917" stop-color="#00ffca"/><stop offset="0.8333" stop-color="#00ffbf"/><stop offset="0.875" stop-color="#00ffb3"/><stop offset="0.9167" stop-color="#00ffa4"/><stop offset="0.9583" stop-color="#00ff92"/><stop offset="1" stop-color="#00ff7e"/></linearGradient><linearGradient id="g66"><stop offset="0" stop-color="#4fff00"/><stop offset="0.04167" stop-color="#29ff00"/><stop offset="0.08333" stop-color="#06ff00"/><stop offset="0.125" stop-color="#00ff1b"/><stop offset="0.1667" stop-color="#00ff39"/><stop offset="0.2083" stop-color="#00ff55"/><stop offset="0.25" stop-color="#00ff6e"/><stop offset="0.2917" stop-color="#00ff84"/><stop offset="0.3333" stop-color="#00ff98"/><stop offset="0.375" stop-color="#00ffaa"/><stop offset="0.4167" stop-color="#00ffb9"/><stop offset="0.4583" stop-color="#00ffc5"/><stop offset="0.5" stop-color="#00ffcf"/><stop offset="0.5417" stop-color="#00ffd6"/><stop offset="0.5833" stop-color="#00ffdb"/><stop offset="0.625" stop-color="#00ffde"/><stop offset="0.6667" stop-color="#00ffdd"/><stop offset="0.7083" stop-color="#00ffda"/><stop offset="0.75" stop-color="#00ffd5"/><stop offset="0.7917" stop-color="#00ffcd"/><stop offset="0.8333" stop-color="#00ffc3"/><stop offset="0.875" stop-color="#00ffb6"/><stop offset="0.9167" stop-color="#00ffa7"/><stop offset="0.9583" stop-color="#00ff95"/><stop offset="1" stop-color="#00ff80"/></linearGradient><linearGradient id="g67"><stop offset="0" stop-color="#46ff00"/><stop offset="0.04167" stop-color="#20ff00"/><stop offset="0.08333" stop-color="#00ff03"/><stop offset="0.125" stop-color="#00ff23"/><stop offset="0.1667" stop-color="#00ff41"/><stop offset="0.2083" stop-color="#00ff5c"/><stop offset="0.25" stop-color="#00ff75"/><stop offset="0.2917" stop-color="#00ff8b"/><stop offset="0.3333" stop-color="#00ff9f"/><stop offset="0.375" stop-color="#00ffb0"/><stop offset="0.4167" stop-color="#00ffbf"/><stop offset="0.4583" stop-color="#00ffcb"/><stop offset="0.5" stop-color="#00ffd5"/><stop offset="0.5417" stop-color="#00ffdc"/><stop offset="0.5833" stop-color="#00ffe0"/><stop offset="0.625" stop-color="#00ffe2"/><stop offset="0.6667" stop-color="#00ffe2"/><stop offset="0.7083" stop-color="#00ffdf"/><stop offset="0.75" stop-color="#00ffd9"/><stop offset="0.7917" stop-color="#00ffd1"/><stop offset="0.8333" stop-color="#00ffc7"/><stop offset="0.875" stop-color="#00ffb9"/><stop offset="0.9167" stop-color="#00ffaa"/><stop offset="0.9583" stop-color="#00ff98"/><stop offset="1" stop-color="#00ff83"/></linearGradient><linearGradient id="g68"><stop offset="0" stop-color="#3dff00"/><stop offset="0.04167" stop-color="#18ff00"/><stop offset="0.08333" stop-color="#00ff0b"/><stop offset="0.125" stop-color="#00ff2b"/><stop offset="0.1667" stop-color="#00ff49"/><stop offset="0.2083" stop-color="#00ff64"/><stop offset="0.25" stop-color="#00ff7d"/><stop offset="0.2917" stop-color="#00ff93"/><stop offset="0.3333" stop-color="#00ffa6"/><stop offset="0.375" stop-color="#00ffb7"/><stop offset="0.4167" stop-color="#00ffc5"/><stop offset="0.4583" stop-color="#00ffd1"/><stop offset="0.5" stop-color="#00ffdb"/><stop offset="0.5417" stop-color="#00ffe2"/><stop offset="0.5833" stop-color="#00ffe6"/><stop offset="0.625" stop-color="#00ffe8"/><stop offset="0.6667" stop-color="#00ffe7"/><stop offset="0.7083" stop-color="#00ffe4"/><stop offset="0.75" stop-color="#00ffde"/><stop offset="0.7917" stop-color="#00ffd5"/><stop offset="0.8333" stop-color="#00ffca"/><stop offset="0.875" stop-color="#00ffbd"/><stop offset="0.9167" stop-color="#00ffad"/><stop offset="0.9583" stop-color="#00ff9b"/><stop offset="1" stop-color="#00ff86"/></linearGradient><linearGradient id="g69"><stop offset="0" stop-color="#34ff00"/><stop offset="0.04167" stop-color="#0fff00"/><stop offset="0.08333" stop-color="#00ff14"/><stop offset="0.125" stop-color="#00ff34"/><stop offset="0.1667" stop-color="#00ff51"/><stop offset="0.2083" stop-color="#00ff6c"/><stop offset="0.25" stop-color="#00ff84"/><stop offset="0.2917" stop-color="#00ff9a"/><stop offset="0.3333" stop-color="#00ffad"/><stop offset="0.375" stop-color="#00ffbe"/><stop offset="0.4167" stop-color="#00ffcc"/><stop offset="0.4583" stop-color="#00ffd8"/><stop offset="0.5" stop-color="#00ffe1"/><stop offset="0.5417" stop-color="#00ffe7"/><stop offset="0.5833" stop-color="#00ffeb"/><stop offset="0.625" stop-color="#00ffed"/><stop offset="0.6667" stop-color="#00ffec"/><stop offset="0.7083" stop-color="#00ffe8"/><stop offset="0.75" stop-color="#00ffe2"/><stop offset="0.7917" stop-color="#00ffd9"/><stop offset="0.8333" stop-color="#00ffce"/><stop offset="0.875" stop-color="#00ffc1"/><stop offset="0.9167" stop-color="#00ffb0"/><stop offset="0.9583" stop-color="#00ff9e"/><stop offset="1" stop-color="#00ff88"/></linearGradient><linearGradient id="g70"><stop offset="0" stop-color="#2aff00"/><stop offset="0.04167" stop-color="#06ff00"/><stop offset="0.08333" stop-color="#00ff1d"/><stop offset="0.125" stop-color="#00ff3c"/><stop offset="0.1667" stop-color="#00ff59"/><stop offset="0.2083" stop-color="#00ff74"/><stop offset="0.25" stop-color="#00ff8c"/><stop offset="0.2917" stop-color="#00ffa1"/><stop offset="0.3333" stop-color="#00ffb4"/><stop offset="0.375" stop-color="#00ffc5"/><stop offset="0.4167" stop-color="#00ffd3"/><stop offset="0.4583" stop-color="#00ffde"/><stop offset="0.5" stop-color="#00ffe7"/><stop offset="0.5417" stop-color="#00ffed"/><stop offset="0.5833" stop-color="#00fff1"/><stop offset="0.625" stop-color="#00fff2"/><stop offset="0.6667" stop-color="#00fff1"/><stop offset="0.7083" stop-color="#00ffed"/><stop offset="0.75" stop-color="#00ffe7"/><stop offset="0.7917" stop-color="#00ffde"/><stop offset="0.8333" stop-color="#00ffd2"/><stop offset="0.875" stop-color="#00ffc4"/><stop offset="0.9167" stop-color="#00ffb4"/><stop offset="0.9583" stop-color="#00ffa1"/><stop offset="1" stop-color="#00ff8b"/></linearGradient><linearGradient id="g71"><stop offset="0" stop-color="#21ff00"/><stop offset="0.04167" stop-color="#00ff04"/><stop offset="0.08333" stop-color="#00ff25"/><stop offset="0.125" stop-color="#00ff45"/><stop offset="0.1667" stop-color="#00ff62"/><stop offset="0.2083" stop-color="#00ff7c"/><stop offset="0.25" stop-color="#00ff94"/><stop offset="0.2917" stop-color="#00ffa9"/><stop offset="0.3333" stop-color="#00ffbc"/><stop offset="0.375" stop-color="#00ffcc"/><stop offset="0.4167" stop-color="#00ffd9"/><stop offset="0.4583" stop-color="#00ffe5"/><stop offset="0.5" stop-color="#00ffed"/><stop offset="0.5417" stop-color="#00fff3"/><stop offset="0.5833" stop-color="#00fff7"/><stop offset="0.625" stop-color="#00fff8"/><stop offset="0.6667" stop-color="#00fff6"/><stop offset="0.7083" stop-color="#00fff2"/><stop offset="0.75" stop-color="#00ffeb"/><stop offset="0.7917" stop-color="#00ffe2"/><stop offset="0.8333" stop-color="#00ffd6"/><stop offset="0.875" stop-color="#00ffc8"/><stop offset="0.9167" stop-color="#00ffb7"/><stop offset="0.9583" stop-color="#00ffa4"/><stop offset="1" stop-color="#00ff8e"/></linearGradient><linearGradient id="g72"><stop offset="0" stop-color="#17ff00"/><stop offset="0.04167" stop-color="#00ff0d"/><stop offset="0.08333" stop-color="#00ff2e"/><stop offset="0.125" stop-color="#00ff4e"/><stop offset="0.1667" stop-color="#00ff6a"/><stop offset="0.2083" stop-color="#00ff84"/><stop offset="0.25" stop-color="#00ff9c"/><stop offset="0.2917" stop-color="#00ffb1"/><stop offset="0.3333" stop-color="#00ffc3"/><stop offset="0.375" stop-color="#00ffd3"/><stop offset="0.4167" stop-color="#00ffe0"/><stop offset="0.4583" stop-color="#00ffeb"/><stop offset="0.5" stop-color="#00fff3"/><stop offset="0.5417" stop-color="#00fff9"/><stop offset="0.5833" stop-color="#00fffc"/><stop offset="0.625" stop-color="#00fffd"/><stop offset="0.6667" stop-color="#00fffb"/><stop offset="0.7083" stop-color="#00fff7"/><stop offset="0.75" stop-color="#00fff0"/><stop offset="0.7917" stop-color="#00ffe7"/><stop offset="0.8333" stop-color="#00ffdb"/><stop offset="0.875" stop-color="#00ffcc"/><stop offset="0.9167" stop-color="#00ffbb"/><stop offset="0.9583" stop-color="#00ffa8"/><stop offset="1" stop-color="#00ff92"/></linearGradient><linearGradient id="g73"><stop offset="0" stop-color="#0eff00"/><stop offset="0.04167" stop-color="#00ff16"/><stop offset="0.08333" stop-color="#00ff38"/><stop offset="0.125" stop-color="#00ff56"/><stop offset="0.1667" stop-color="#00ff73"/><stop offset="0.2083" stop-color="#00ff8c"/><stop offset="0.25" stop-color="#00ffa4"/><stop offset="0.2917" stop-color="#00ffb8"/><stop offset="0.3333" stop-color="#00ffcb"/><stop offset="0.375" stop-color="#00ffda"/><stop offset="0.4167" stop-color="#00ffe7"/><stop offset="0.4583" stop-color="#00fff2"/><stop offset="0.5" stop-color="#00fffa"/><stop offset="0.5417" stop-color="#00ffff"/><stop offset="0.5833" stop-color="#00fcff"/><stop offset="0.625" stop-color="#00fbff"/><stop offset="0.6667" stop-color="#00fdff"/><stop offset="0.7083" stop-color="#00fffc"/><stop offset="0.75" stop-color="#00fff5"/><stop offset="0.7917" stop-color="#00ffeb"/><stop offset="0.8333" stop-color="#00ffdf"/><stop offset="0.875" stop-color="#00ffd0"/><stop offset="0.9167" stop-color="#00ffbf"/><stop offset="0.9583" stop-color="#00ffab"/><stop offset="1" stop-color="#00ff95"/></linearGradient><linearGradient id="g74"><stop offset="0" stop-color="#04ff00"/><stop offset="0.04167" stop-color="#00ff20"/><stop offset="0.08333" stop-color="#00ff41"/><stop offset="0.125" stop-color="#00ff5f"/><stop offset="0.1667" stop-color="#00ff7b"/><stop offset="0.2083" stop-color="#00ff95"/><stop offset="0.25" stop-color="#00ffac"/><stop offset="0.2917" stop-color="#00ffc0"/><stop offset="0.3333" stop-color="#00ffd2"/><stop offset="0.375" stop-color="#00ffe2"/><stop offset="0.4167" stop-color="#00ffee"/><stop offset="0.4583" stop-color="#00fff9"/><stop offset="0.5" stop-color="#00feff"/><stop offset="0.5417" stop-color="#00f8ff"/><stop offset="0.5833" stop-color="#00f6ff"/><stop offset="0.625" stop-color="#00f5ff"/><stop offset="0.6667" stop-color="#00f8ff"/><stop offset="0.7083" stop-color="#00fdff"/><stop offset="0.75" stop-color="#00fffa"/><stop offset="0.7917" stop-color="#00fff0"/><stop offset="0.8333" stop-color="#00ffe4"/><stop offset="0.875" stop-color="#00ffd5"/><stop offset="0.9167" stop-color="#00ffc3"/><stop offset="0.9583" stop-color="#00ffaf"/><stop offset="1" stop-color="#00ff98"/></linearGradient><linearGradient id="g75"><stop offset="0" stop-color="#00ff06"/><stop offset="0.04167" stop-color="#00ff29"/><stop offset="0.08333" stop-color="#00ff4a"/><stop offset="0.125" stop-color="#00ff68"/><stop offset="0.1667" stop-color="#00ff84"/><stop offset="0.2083" stop-color="#00ff9d"/><stop offset="0.25" stop-color="#00ffb4"/><stop offset="0.2917" stop-color="#00ffc8"/><stop offset="0.3333" stop-color="#00ffda"/><stop offset="0.375" stop-color="#00ffe9"/><stop offset="0.4167" stop-color="#00fff6"/><stop offset="0.4583" stop-color="#00feff"/><stop offset="0.5" stop-color="#00f7ff"/><stop offset="0.5417" stop-color="#00f2ff"/><stop offset="0.5833" stop-color="#00efff"/><stop offset="0.625" stop-color="#00efff"/><stop offset="0.6667" stop-color="#00f2ff"/><stop offset="0.7083" stop-color="#00f7ff"/><stop offset="0.75" stop-color="#00ffff"/><stop offset="0.7917" stop-color="#00fff5"/><stop offset="0.8333" stop-color="#00ffe8"/><stop offset="0.875" stop-color="#00ffd9"/><stop offset="0.9167" stop-color="#00ffc7"/><stop offset="0.9583" stop-color="#00ffb3"/><stop offset="1" stop-color="#00ff9c"/></linearGradient><linearGradient id="g76"><stop offset="0" stop-color="#00ff10"/><stop offset="0.04167" stop-color="#00ff33"/><stop offset="0.08333" stop-color="#00ff54"/><stop offset="0.125" stop-color="#00ff72"/><stop offset="0.1667" stop-color="#00ff8d"/><stop offset="0.2083" stop-color="#00ffa6"/><stop offset="0.25" stop-color="#00ffbd"/><stop offset="0.2917" stop-color="#00ffd0"/><stop offset="0.3333" stop-color="#00ffe2"/><stop offset="0.375" stop-color="#00fff1"/><stop offset="0.4167" stop-color="#00fffd"/><stop offset="0.4583" stop-color="#00f7ff"/><stop offset="0.5" stop-color="#00f0ff"/><stop offset="0.5417" stop-color="#00ebff"/><stop offset="0.5833" stop-color="#00e9ff"/><stop offset="0.625" stop-color="#00e9ff"/><stop offset="0.6667" stop-color="#00ecff"/><stop offset="0.7083" stop-color="#00f2ff"/><stop offset="0.75" stop-color="#00faff"/><stop offset="0.7917" stop-color="#00fffa"/><stop offset="0.8333" stop-color="#00ffed"/><stop offset="0.875" stop-color="#00ffdd"/><stop offset="0.9167" stop-color="#00ffcb"/><stop offset="0.9583" stop-color="#00ffb7"/><stop offset="1" stop-color="#00ff9f"/></linearGradient><linearGradient id="g77"><stop offset="0" stop-color="#00ff1a"/><stop offset="0.04167" stop-color="#00ff3d"/><stop offset="0.08333" stop-color="#00ff5d"/><stop offset="0.125" stop-color="#00ff7b"/><stop offset="0.1667" stop-color="#00ff96"/><stop offset="0.2083" stop-color="#00ffaf"/><stop offset="0.25" stop-color="#00ffc5"/><stop offset="0.2917" stop-color="#00ffd9"/><stop offset="0.3333" stop-color="#00ffea"/><stop offset="0.375" stop-color="#00fff8"/><stop offset="0.4167" stop-color="#00faff"/><stop offset="0.4583" stop-color="#00f0ff"/><stop offset="0.5" stop-color="#00e9ff"/><stop offset="0.5417" stop-color="#00e5ff"/><stop offset="0.5833" stop-color="#00e3ff"/><stop offset="0.625" stop-color="#00e3ff"/><stop offset="0.6667" stop-color="#00e6ff"/><stop offset="0.7083" stop-color="#00ecff"/><stop offset="0.75" stop-color="#00f4ff"/><stop offset="0.7917" stop-color="#00ffff"/><stop offset="0.8333" stop-color="#00fff2"/><stop offset="0.875" stop-color="#00ffe2"/><stop offset="0.9167" stop-color="#00ffd0"/><stop offset="0.9583" stop-color="#00ffbb"/><stop offset="1" stop-color="#00ffa3"/></linearGradient><linearGradient id="g78"><stop offset="0" stop-color="#00ff24"/><stop offset="0.04167" stop-color="#00ff47"/><stop offset="0.08333" stop-color="#00ff67"/><stop offset="0.125" stop-color="#00ff84"/><stop offset="0.1667" stop-color="#00ff9f"/><stop offset="0.2083" stop-color="#00ffb8"/><stop offset="0.25" stop-color="#00ffce"/><stop offset="0.2917" stop-color="#00ffe1"/><stop offset="0.3333" stop-color="#00fff2"/><stop offset="0.375" stop-color="#00feff"/><stop offset="0.4167" stop-color="#00f2ff"/><stop offset="0.4583" stop-color="#00e9ff"/><stop offset="0.5" stop-color="#00e2ff"/><stop offset="0.5417" stop-color="#00deff"/><stop offset="0.5833" stop-color="#00dcff"/><stop offset="0.625" stop-color="#00ddff"/><stop offset="0.6667" stop-color="#00e0ff"/><stop offset="0.7083" stop-color="#00e6ff"/><stop offset="0.75" stop-color="#00efff"/><stop offset="0.7917" stop-color="#00faff"/><stop offset="0.8333" stop-color="#00fff7"/><stop offset="0.875" stop-color="#00ffe7"/><stop offset="0.9167" stop-color="#00ffd4"/><stop offset="0.9583" stop-color="#00ffbf"/><stop offset="1" stop-color="#00ffa7"/></linearGradient><linearGradient id="g79"><stop offset="0" stop-color="#00ff2f"/><stop offset="0.04167" stop-color="#00ff51"/><stop offset="0.08333" stop-color="#00ff71"/><stop offset="0.125" stop-color="#00ff8e"/><stop offset="0.1667" stop-color="#00ffa9"/><stop offset="0.2083" stop-color="#00ffc1"/><stop offset="0.25" stop-color="#00ffd7"/><stop offset="0.2917" stop-color="#00ffea"/><stop offset="0.3333" stop-color="#00fffa"/><stop offset="0.375" stop-color="#00f6ff"/><stop offset="0.4167" stop-color="#00eaff"/><stop offset="0.4583" stop-color="#00e1ff"/><stop offset="0.5" stop-color="#00dbff"/><stop offset="0.5417" stop-color="#00d7ff"/><stop offset="0.5833" stop-color="#00d6ff"/><stop offset="0.625" stop-color="#00d7ff"/><stop offset="0.6667" stop-color="#00daff"/><stop offset="0.7083" stop-color="#00e1ff"/><stop offset="0.75" stop-color="#00e9ff"/><stop offset="0.7917" stop-color="#00f5ff"/><stop offset="0.8333" stop-color="#00fffc"/><stop offset="0.875" stop-color="#00ffeb"/><stop offset="0.9167" stop-color="#00ffd8"/><stop offset="0.9583" stop-color="#00ffc3"/><stop offset="1" stop-color="#00ffab"/></linearGradient><linearGradient id="g80"><stop offset="0" stop-color="#00ff39"/><stop offset="0.04167" stop-color="#00ff5b"/><stop offset="0.08333" stop-color="#00ff7b"/><stop offset="0.125" stop-color="#00ff98"/><stop offset="0.1667" stop-color="#00ffb2"/><stop offset="0.2083" stop-color="#00ffca"/><stop offset="0.25" stop-color="#00ffdf"/><stop offset="0.2917" stop-color="#00fff2"/><stop offset="0.3333" stop-color="#00fbff"/><stop offset="0.375" stop-color="#00eeff"/><stop offset="0.4167" stop-color="#00e2ff"/><stop offset="0.4583" stop-color="#00daff"/><stop offset="0.5" stop-color="#00d4ff"/><stop offset="0.5417" stop-color="#00d0ff"/><stop offset="0.5833" stop-color="#00cfff"/><stop offset="0.625" stop-color="#00d0ff"/><stop offset="0.6667" stop-color="#00d4ff"/><stop offset="0.7083" stop-color="#00dbff"/><stop offset="0.75" stop-color="#00e4ff"/><stop offset="0.7917" stop-color="#00efff"/><stop offset="0.8333" stop-color="#00fdff"/><stop offset="0.875" stop-color="#00fff0"/><stop offset="0.9167" stop-color="#00ffdd"/><stop offset="0.9583" stop-color="#00ffc7"/><stop offset="1" stop-color="#00ffaf"/></linearGradient><linearGradient id="g81"><stop offset="0" stop-color="#00ff44"/><stop offset="0.04167" stop-color="#00ff66"/><stop offset="0.08333" stop-color="#00ff85"/><stop offset="0.125" stop-color="#00ffa1"/><stop offset="0.1667" stop-color="#00ffbc"/><stop offset="0.2083" stop-color="#00ffd3"/><stop offset="0.25" stop-color="#00ffe8"/><stop offset="0.2917" stop-color="#00fffb"/><stop offset="0.3333" stop-color="#00f3ff"/><stop offset="0.375" stop-color="#00e5ff"/><stop offset="0.4167" stop-color="#00daff"/><stop offset="0.4583" stop-color="#00d2ff"/><stop offset="0.5" stop-color="#00ccff"/><stop offset="0.5417" stop-color="#00c9ff"/><stop offset="0.5833" stop-color="#00c8ff"/><stop offset="0.625" stop-color="#00caff"/><stop offset="0.6667" stop-color="#00ceff"/><stop offset="0.7083" stop-color="#00d4ff"/><stop offset="0.75" stop-color="#00deff"/><stop offset="0.7917" stop-color="#00eaff"/><stop offset="0.8333" stop-color="#00f8ff"/><stop offset="0.875" stop-color="#00fff5"/><stop offset="0.9167" stop-color="#00ffe2"/><stop offset="0.9583" stop-color="#00ffcc"/><stop offset="1" stop-color="#00ffb3"/></linearGradient><linearGradient id="g82"><stop offset="0" stop-color="#00ff4e"/><stop offset="0.04167" stop-color="#00ff70"/><stop offset="0.08333" stop-color="#00ff8f"/><stop offset="0.125" stop-color="#00ffab"/><stop offset="0.1667" stop-color="#00ffc5"/><stop offset="0.2083" stop-color="#00ffdd"/><stop offset="0.25" stop-color="#00fff1"/><stop offset="0.2917" stop-color="#00faff"/><stop offset="0.3333" stop-color="#00eaff"/><stop offset="0.375" stop-color="#00ddff"/><stop offset="0.4167" stop-color="#00d2ff"/><stop offset="0.4583" stop-color="#00caff"/><stop offset="0.5" stop-color="#00c5ff"/><stop offset="0.5417" stop-color="#00c1ff"/><stop offset="0.5833" stop-color="#00c1ff"/><stop offset="0.625" stop-color="#00c3ff"/><stop offset="0.6667" stop-color="#00c7ff"/><stop offset="0.7083" stop-color="#00ceff"/><stop offset="0.75" stop-color="#00d8ff"/><stop offset="0.7917" stop-color="#00e4ff"/><stop offset="0.8333" stop-color="#00f2ff"/><stop offset="0.875" stop-color="#00fffa"/><stop offset="0.9167" stop-color="#00ffe7"/><stop offset="0.9583" stop-color="#00ffd1"/><stop offset="1" stop-color="#00ffb8"/></linearGradient><linearGradient id="g83"><stop offset="0" stop-color="#00ff59"/><stop offset="0.04167" stop-color="#00ff7a"/><stop offset="0.08333" stop-color="#00ff99"/><stop offset="0.125" stop-color="#00ffb5"/><stop offset="0.1667" stop-color="#00ffcf"/><stop offset="0.2083" stop-color="#00ffe6"/><stop offset="0.25" stop-color="#00fffb"/><stop offset="0.2917" stop-color="#00f1ff"/><stop offset="0.3333" stop-color="#00e2ff"/><stop offset="0.375" stop-color="#00d5ff"/><stop offset="0.4167" stop-color="#00caff"/><stop offset="0.4583" stop-color="#00c2ff"/><stop offset="0.5" stop-color="#00bdff"/><stop offset="0.5417" stop-color="#00baff"/><stop offset="0.5833" stop-color="#00baff"/><stop offset="0.625" stop-color="#00bcff"/><stop offset="0.6667" stop-color="#00c1ff"/><stop offset="0.7083" stop-color="#00c8ff"/><stop offset="0.75" stop-color="#00d2ff"/><stop offset="0.7917" stop-color="#00deff"/><stop offset="0.8333" stop-color="#00edff"/><stop offset="0.875" stop-color="#00feff"/><stop offset="0.9167" stop-color="#00ffec"/><stop offset="0.9583" stop-color="#00ffd5"/><stop offset="1" stop-color="#00ffbc"/></linearGradient><linearGradient id="g84"><stop offset="0" stop-color="#00ff64"/><stop offset="0.04167" stop-color="#00ff85"/><stop offset="0.08333" stop-color="#00ffa4"/><stop offset="0.125" stop-color="#00ffc0"/><stop offset="0.1667" stop-color="#00ffd9"/><stop offset="0.2083" stop-color="#00fff0"/><stop offset="0.25" stop-color="#00faff"/><stop offset="0.2917" stop-color="#00e8ff"/><stop offset="0.3333" stop-color="#00d9ff"/><stop offset="0.375" stop-color="#00ccff"/><stop offset="0.4167" stop-color="#00c2ff"/><stop offset="0.4583" stop-color="#00baff"/><stop offset="0.5" stop-color="#00b5ff"/><stop offset="0.5417" stop-color="#00b3ff"/><stop offset="0.5833" stop-color="#00b3ff"/><stop offset="0.625" stop-color="#00b5ff"/><stop offset="0.6667" stop-color="#00baff"/><stop offset="0.7083" stop-color="#00c2ff"/><stop offset="0.75" stop-color="#00ccff"/><stop offset="0.7917" stop-color="#00d8ff"/><stop offset="0.8333" stop-color="#00e7ff"/><stop offset="0.875" stop-color="#00f9ff"/><stop offset="0.9167" stop-color="#00fff1"/><stop offset="0.9583" stop-color="#00ffda"/><stop offset="1" stop-color="#00ffc1"/></linearGradient><linearGradient id="g85"><stop offset="0" stop-color="#00ff6f"/><stop offset="0.04167" stop-color="#00ff90"/><stop offset="0.08333" stop-color="#00ffae"/><stop offset="0.125" stop-color="#00ffca"/><stop offset="0.1667" stop-color="#00ffe3"/><stop offset="0.2083" stop-color="#00fff9"/><stop offset="0.25" stop-color="#00f0ff"/><stop offset="0.2917" stop-color="#00dfff"/><stop offset="0.3333" stop-color="#00d0ff"/><stop offset="0.375" stop-color="#00c4ff"/><stop offset="0.4167" stop-color="#00baff"/><stop offset="0.4583" stop-color="#00b2ff"/><stop offset="0.5" stop-color="#00adff"/><stop offset="0.5417" stop-color="#00abff"/><stop offset="0.5833" stop-color="#00abff"/><stop offset="0.625" stop-color="#00aeff"/><stop offset="0.6667" stop-color="#00b3ff"/><stop offset="0.7083" stop-color="#00bbff"/><stop offset="0.75" stop-color="#00c5ff"/><stop offset="0.7917" stop-color="#00d2ff"/><stop offset="0.8333" stop-color="#00e2ff"/><stop offset="0.875" stop-color="#00f3ff"/><stop offset="0.9167" stop-color="#00fff6"/><stop offset="0.9583" stop-color="#00ffdf"/><stop offset="1" stop-color="#00ffc6"/></linearGradient><linearGradient id="g86"><stop offset="0" stop-color="#00ff7a"/><stop offset="0.04167" stop-color="#00ff9b"/><stop offset="0.08333" stop-color="#00ffb9"/><stop offset="0.125" stop-color="#00ffd4"/><stop offset="0.1667" stop-color="#00ffed"/><stop offset="0.2083" stop-color="#00fbff"/><stop offset="0.25" stop-color="#00e7ff"/><stop offset="0.2917" stop-color="#00d6ff"/><stop offset="0.3333" stop-color="#00c7ff"/><stop offset="0.375" stop-color="#00bbff"/><stop offset="0.4167" stop-color="#00b1ff"/><stop offset="0.4583" stop-color="#00aaff"/><stop offset="0.5" stop-color="#00a5ff"/><stop offset="0.5417" stop-color="#00a3ff"/><stop offset="0.5833" stop-color="#00a4ff"/><stop offset="0.625" stop-color="#00a7ff"/><stop offset="0.6667" stop-color="#00acff"/><stop offset="0.7083" stop-color="#00b4ff"/><stop offset="0.75" stop-color="#00bfff"/><stop offset="0.7917" stop-color="#00ccff"/><stop offset="0.8333" stop-color="#00dcff"/><stop offset="0.875" stop-color="#00eeff"/><stop offset="0.9167" stop-color="#00fffb"/><stop offset="0.9583" stop-color="#00ffe4"/><stop offset="1" stop-color="#00ffca"/></linearGradient><linearGradient id="g87"><stop offset="0" stop-color="#00ff86"/><stop offset="0.04167" stop-color="#00ffa6"/><stop offset="0.08333" stop-color="#00ffc3"/><stop offset="0.125" stop-color="#00ffdf"/><stop offset="0.1667" stop-color="#00fff7"/><stop offset="0.2083" stop-color="#00f1ff"/><stop offset="0.25" stop-color="#00ddff"/><stop offset="0.2917" stop-color="#00ccff"/><stop offset="0.3333" stop-color="#00beff"/><stop offset="0.375" stop-color="#00b2ff"/><stop offset="0.4167" stop-color="#00a8ff"/><stop offset="0.4583" stop-color="#00a2ff"/><stop offset="0.5" stop-color="#009dff"/><stop offset="0.5417" stop-color="#009bff"/><stop offset="0.5833" stop-color="#009cff"/><stop offset="0.625" stop-color="#009fff"/><stop offset="0.6667" stop-color="#00a5ff"/><stop offset="0.7083" stop-color="#00aeff"/><stop offset="0.75" stop-color="#00b8ff"/><stop offset="0.7917" stop-color="#00c6ff"/><stop offset="0.8333" stop-color="#00d6ff"/><stop offset="0.875" stop-color="#00e8ff"/><stop offset="0.9167" stop-color="#00fdff"/><stop offset="0.9583" stop-color="#00ffe9"/><stop offset="1" stop-color="#00ffcf"/></linearGradient><linearGradient id="g88"><stop offset="0" stop-color="#00ff91"/><stop offset="0.04167" stop-color="#00ffb1"/><stop offset="0.08333" stop-color="#00ffce"/><stop offset="0.125" stop-color="#00ffe9"/><stop offset="0.1667" stop-color="#00fcff"/><stop offset="0.2083" stop-color="#00e7ff"/><stop offset="0.25" stop-color="#00d3ff"/><stop offset="0.2917" stop-color="#00c3ff"/><stop offset="0.3333" stop-color="#00b4ff"/><stop offset="0.375" stop-color="#00a9ff"/><stop offset="0.4167" stop-color="#00a0ff"/><stop offset="0.4583" stop-color="#0099ff"/><stop offset="0.5" stop-color="#0095ff"/><stop offset="0.5417" stop-color="#0093ff"/><stop offset="0.5833" stop-color="#0094ff"/><stop offset="0.625" stop-color="#0098ff"/><stop offset="0.6667" stop-color="#009eff"/><stop offset="0.7083" stop-color="#00a7ff"/><stop offset="0.75" stop-color="#00b2ff"/><stop offset="0.7917" stop-color="#00bfff"/><stop offset="0.8333" stop-color="#00d0ff"/><stop offset="0.875" stop-color="#00e2ff"/><stop offset="0.9167" stop-color="#00f8ff"/><stop offset="0.9583" stop-color="#00ffef"/><stop offset="1" stop-color="#00ffd4"/></linearGradient><linearGradient id="g89"><stop offset="0" stop-color="#00ff9d"/><stop offset="0.04167" stop-color="#00ffbc"/><stop offset="0.08333" stop-color="#00ffd9"/><stop offset="0.125" stop-color="#00fff4"/><stop offset="0.1667" stop-color="#00f2ff"/><stop offset="0.2083" stop-color="#00dcff"/><stop offset="0.25" stop-color="#00c9ff"/><stop offset="0.2917" stop-color="#00b9ff"/><stop offset="0.3333" stop-color="#00abff"/><stop offset="0.375" stop-color="#00a0ff"/><stop offset="0.4167" stop-color="#0097ff"/><stop offset="0.4583" stop-color="#0090ff"/><stop offset="0.5" stop-color="#008dff"/><stop offset="0.5417" stop-color="#008bff"/><stop offset="0.5833" stop-color="#008dff"/><stop offset="0.625" stop-color="#0090ff"/><stop offset="0.6667" stop-color="#0097ff"/><stop offset="0.7083" stop-color="#00a0ff"/><stop offset="0.75" stop-color="#00abff"/><stop offset="0.7917" stop-color="#00b9ff"/><stop offset="0.8333" stop-color="#00c9ff"/><stop offset="0.875" stop-color="#00dcff"/><stop offset="0.9167" stop-color="#00f2ff"/><stop offset="0.9583" stop-color="#00fff4"/><stop offset="1" stop-color="#00ffd9"/></linearGradient><linearGradient id="g90"><stop offset="0" stop-color="#00ffa8"/><stop offset="0.04167" stop-color="#00ffc8"/><stop offset="0.08333" stop-color="#00ffe4"/><stop offset="0.125" stop-color="#00ffff"/><stop offset="0.1667" stop-color="#00e7ff"/><stop offset="0.2083" stop-color="#00d2ff"/><stop offset="0.25" stop-color="#00bfff"/><stop offset="0.2917" stop-color="#00afff"/><stop offset="0.3333" stop-color="#00a2ff"/><stop offset="0.375" stop-color="#0096ff"/><stop offset="0.4167" stop-color="#008eff"/><stop offset="0.4583" stop-color="#0088ff"/><stop offset="0.5" stop-color="#0084ff"/><stop offset="0.5417" stop-color="#0083ff"/><stop offset="0.5833" stop-color="#0085ff"/><stop offset="0.625" stop-color="#0089ff"/><stop offset="0.6667" stop-color="#008fff"/><stop offset="0.7083" stop-color="#0099ff"/><stop offset="0.75" stop-color="#00a4ff"/><stop offset="0.7917" stop-color="#00b2ff"/><stop offset="0.8333" stop-color="#00c3ff"/><stop offset="0.875" stop-color="#00d6ff"/><stop offset="0.9167" stop-color="#00ecff"/><stop offset="0.9583" stop-color="#00fffa"/><stop offset="1" stop-color="#00ffdf"/></linearGradient><linearGradient id="g91"><stop offset="0" stop-color="#00ffb4"/><stop offset="0.04167" stop-color="#00ffd3"/><stop offset="0.08333" stop-color="#00fff0"/><stop offset="0.125" stop-color="#00f4ff"/><stop offset="0.1667" stop-color="#00ddff"/><stop offset="0.2083" stop-color="#00c8ff"/><stop offset="0.25" stop-color="#00b5ff"/><stop offset="0.2917" stop-color="#00a5ff"/><stop offset="0.3333" stop-color="#0098ff"/><stop offset="0.375" stop-color="#008dff"/><stop offset="0.4167" stop-color="#0085ff"/><stop offset="0.4583" stop-color="#007fff"/><stop offset="0.5" stop-color="#007cff"/><stop offset="0.5417" stop-color="#007bff"/><stop offset="0.5833" stop-color="#007dff"/><stop offset="0.625" stop-color="#0081ff"/><stop offset="0.6667" stop-color="#0088ff"/><stop offset="0.7083" stop-color="#0091ff"/><stop offset="0.75" stop-color="#009dff"/><stop offset="0.7917" stop-color="#00acff"/><stop offset="0.8333" stop-color="#00bdff"/><stop offset="0.875" stop-color="#00d0ff"/><stop offset="0.9167" stop-color="#00e6ff"/><stop offset="0.9583" stop-color="#00ffff"/><stop offset="1" stop-color="#00ffe4"/></linearGradient><linearGradient id="g92"><stop offset="0" stop-color="#00ffc0"/><stop offset="0.04167" stop-color="#00ffdf"/><stop offset="0.08333" stop-color="#00fffb"/><stop offset="0.125" stop-color="#00e9ff"/><stop offset="0.1667" stop-color="#00d2ff"/><stop offset="0.2083" stop-color="#00bdff"/><stop offset="0.25" stop-color="#00abff"/><stop offset="0.2917" stop-color="#009bff"/><stop offset="0.3333" stop-color="#008eff"/><stop offset="0.375" stop-color="#0084ff"/><stop offset="0.4167" stop-color="#007cff"/><stop offset="0.4583" stop-color="#0076ff"/><stop offset="0.5" stop-color="#0073ff"/><stop offset="0.5417" stop-color="#0072ff"/><stop offset="0.5833" stop-color="#0075ff"/><stop offset="0.625" stop-color="#0079ff"/><stop offset="0.6667" stop-color="#0080ff"/><stop offset="0.7083" stop-color="#008aff"/><stop offset="0.75" stop-color="#0096ff"/><stop offset="0.7917" stop-color="#00a5ff"/><stop offset="0.8333" stop-color="#00b6ff"/><stop offset="0.875" stop-color="#00caff"/><stop offset="0.9167" stop-color="#00e0ff"/><stop offset="0.9583" stop-color="#00f9ff"/><stop offset="1" stop-color="#00ffea"/></linearGradient><linearGradient id="g93"><stop offset="0" stop-color="#00ffcc"/><stop offset="0.04167" stop-color="#00ffea"/><stop offset="0.08333" stop-color="#00f8ff"/><stop offset="0.125" stop-color="#00deff"/><stop offset="0.1667" stop-color="#00c7ff"/><stop offset="0.2083" stop-color="#00b3ff"/><stop offset="0.25" stop-color="#00a1ff"/><stop offset="0.2917" stop-color="#0091ff"/><stop offset="0.3333" stop-color="#0084ff"/><stop offset="0.375" stop-color="#007aff"/><stop offset="0.4167" stop-color="#0072ff"/><stop offset="0.4583" stop-color="#006dff"/><stop offset="0.5" stop-color="#006aff"/><stop offset="0.5417" stop-color="#006aff"/><stop offset="0.5833" stop-color="#006cff"/><stop offset="0.625" stop-color="#0071ff"/><stop offset="0.6667" stop-color="#0079ff"/><stop offset="0.7083" stop-color="#0082ff"/><stop offset="0.75" stop-color="#008fff"/><stop offset="0.7917" stop-color="#009eff"/><stop offset="0.8333" stop-color="#00afff"/><stop offset="0.875" stop-color="#00c3ff"/><stop offset="0.9167" stop-color="#00daff"/><stop offset="0.9583" stop-color="#00f3ff"/><stop offset="1" stop-color="#00ffef"/></linearGradient><linearGradient id="g94"><stop offset="0" stop-color="#00ffd8"/><stop offset="0.04167" stop-color="#00fff6"/><stop offset="0.08333" stop-color="#00ecff"/><stop offset="0.125" stop-color="#00d3ff"/><stop offset="0.1667" stop-color="#00bcff"/><stop offset="0.2083" stop-color="#00a8ff"/><stop offset="0.25" stop-color="#0096ff"/><stop offset="0.2917" stop-color="#0087ff"/><stop offset="0.3333" stop-color="#007aff"/><stop offset="0.375" stop-color="#0070ff"/><stop offset="0.4167" stop-color="#0069ff"/><stop offset="0.4583" stop-color="#0064ff"/><stop offset="0.5" stop-color="#0061ff"/><stop offset="0.5417" stop-color="#0061ff"/><stop offset="0.5833" stop-color="#0064ff"/><stop offset="0.625" stop-color="#0069ff"/><stop offset="0.6667" stop-color="#0071ff"/><stop offset="0.7083" stop-color="#007bff"/><stop offset="0.75" stop-color="#0088ff"/><stop offset="0.7917" stop-color="#0097ff"/><stop offset="0.8333" stop-color="#00a9ff"/><stop offset="0.875" stop-color="#00bdff"/><stop offset="0.9167" stop-color="#00d4ff"/><stop offset="0.9583" stop-color="#00edff"/><stop offset="1" stop-color="#00fff5"/></linearGradient><linearGradient id="g95"><stop offset="0" stop-color="#00ffe4"/><stop offset="0.04167" stop-color="#00fcff"/><stop offset="0.08333" stop-color="#00e0ff"/><stop offset="0.125" stop-color="#00c7ff"/><stop offset="0.1667" stop-color="#00b1ff"/><stop offset="0.2083" stop-color="#009dff"/><stop offset="0.25" stop-color="#008bff"/><stop offset="0.2917" stop-color="#007dff"/><stop offset="0.3333" stop-color="#0070ff"/><stop offset="0.375" stop-color="#0066ff"/><stop offset="0.4167" stop-color="#005fff"/><stop offset="0.4583" stop-color="#005aff"/><stop offset="0.5" stop-color="#0058ff"/><stop offset="0.5417" stop-color="#0059ff"/><stop offset="0.5833" stop-color="#005bff"/><stop offset="0.625" stop-color="#0061ff"/><stop offset="0.6667" stop-color="#0069ff"/><stop offset="0.7083" stop-color="#0073ff"/><stop offset="0.75" stop-color="#0080ff"/><stop offset="0.7917" stop-color="#0090ff"/><stop offset="0.8333" stop-color="#00a2ff"/><stop offset="0.875" stop-color="#00b6ff"/><stop offset="0.9167" stop-color="#00cdff"/><stop offset="0.9583" stop-color="#00e7ff"/><stop offset="1" stop-color="#00fffb"/></linearGradient><linearGradient id="g96"><stop offset="0" stop-color="#00fff0"/><stop offset="0.04167" stop-color="#00f0ff"/><stop offset="0.08333" stop-color="#00d5ff"/><stop offset="0.125" stop-color="#00bcff"/><stop offset="0.1667" stop-color="#00a6ff"/><stop offset="0.2083" stop-color="#0092ff"/><stop offset="0.25" stop-color="#0081ff"/><stop offset="0.2917" stop-color="#0072ff"/><stop offset="0.3333" stop-color="#0066ff"/><stop offset="0.375" stop-color="#005dff"/><stop offset="0.4167" stop-color="#0055ff"/><stop offset="0.4583" stop-color="#0051ff"/><stop offset="0.5" stop-color="#004fff"/><stop offset="0.5417" stop-color="#0050ff"/><stop offset="0.5833" stop-color="#0053ff"/><stop offset="0.625" stop-color="#0058ff"/><stop offset="0.6667" stop-color="#0061ff"/><stop offset="0.7083" stop-color="#006bff"/><stop offset="0.75" stop-color="#0079ff"/><stop offset="0.7917" stop-color="#0088ff"/><stop offset="0.8333" stop-color="#009bff"/><stop offset="0.875" stop-color="#00afff"/><stop offset="0.9167" stop-color="#00c7ff"/><stop offset="0.9583" stop-color="#00e1ff"/><stop offset="1" stop-color="#00fdff"/></linearGradient><linearGradient id="g97"><stop offset="0" stop-color="#00fffd"/><stop offset="0.04167" stop-color="#00e4ff"/><stop offset="0.08333" stop-color="#00c9ff"/><stop offset="0.125" stop-color="#00b0ff"/><stop offset="0.1667" stop-color="#009aff"/><stop offset="0.2083" stop-color="#0087ff"/><stop offset="0.25" stop-color="#0076ff"/><stop offset="0.2917" stop-color="#0068ff"/><stop offset="0.3333" stop-color="#005cff"/><stop offset="0.375" stop-color="#0052ff"/><stop offset="0.4167" stop-color="#004cff"/><stop offset="0.4583" stop-color="#0047ff"/><stop offset="0.5" stop-color="#0046ff"/><stop offset="0.5417" stop-color="#0047ff"/><stop offset="0.5833" stop-color="#004aff"/><stop offset="0.625" stop-color="#0050ff"/><stop offset="0.6667" stop-color="#0058ff"/><stop offset="0.7083" stop-color="#0063ff"/><stop offset="0.75" stop-color="#0071ff"/><stop offset="0.7917" stop-color="#0081ff"/><stop offset="0.8333" stop-color="#0093ff"/><stop offset="0.875" stop-color="#00a9ff"/><stop offset="0.9167" stop-color="#00c0ff"/><stop offset="0.9583" stop-color="#00daff"/><stop offset="1" stop-color="#00f7ff"/></linearGradient><linearGradient id="g98"><stop offset="0" stop-color="#00f5ff"/><stop offset="0.04167" stop-color="#00d7ff"/><stop offset="0.08333" stop-color="#00bdff"/><stop offset="0.125" stop-color="#00a4ff"/><stop offset="0.1667" stop-color="#008fff"/><stop offset="0.2083" stop-color="#007cff"/><stop offset="0.25" stop-color="#006bff"/><stop offset="0.2917" stop-color="#005dff"/><stop offset="0.3333" stop-color="#0051ff"/><stop offset="0.375" stop-color="#0048ff"/><stop offset="0.4167" stop-color="#0042ff"/><stop offset="0.4583" stop-color="#003eff"/><stop offset="0.5" stop-color="#003cff"/><stop offset="0.5417" stop-color="#003eff"/><stop offset="0.5833" stop-color="#0041ff"/><stop offset="0.625" stop-color="#0047ff"/><stop offset="0.6667" stop-color="#0050ff"/><stop offset="0.7083" stop-color="#005bff"/><stop offset="0.75" stop-color="#0069ff"/><stop offset="0.7917" stop-color="#0079ff"/><stop offset="0.8333" stop-color="#008cff"/><stop offset="0.875" stop-color="#00a2ff"/><stop offset="0.9167" stop-color="#00b9ff"/><stop offset="0.9583" stop-color="#00d4ff"/><stop offset="1" stop-color="#00f1ff"/></linearGradient><linearGradient id="g99"><stop offset="0" stop-color="#00e8ff"/><stop offset="0.04167" stop-color="#00cbff"/><stop offset="0.08333" stop-color="#00b0ff"/><stop offset="0.125" stop-color="#0098ff"/><stop offset="0.1667" stop-color="#0083ff"/><stop offset="0.2083" stop-color="#0070ff"/><stop offset="0.25" stop-color="#0060ff"/><stop offset="0.2917" stop-color="#0052ff"/><stop offset="0.3333" stop-color="#0047ff"/><stop offset="0.375" stop-color="#003eff"/><stop offset="0.4167" stop-color="#0038ff"/><stop offset="0.4583" stop-color="#0034ff"/><stop offset="0.5" stop-color="#0033ff"/><stop offset="0.5417" stop-color="#0034ff"/><stop offset="0.5833" stop-color="#0038ff"/><stop offset="0.625" stop-color="#003fff"/><stop offset="0.6667" stop-color="#0048ff"/><stop offset="0.7083" stop-color="#0053ff"/><stop offset="0.75" stop-color="#0061ff"/><stop offset="0.7917" stop-color="#0072ff"/><stop offset="0.8333" stop-color="#0085ff"/><stop offset="0.875" stop-color="#009aff"/><stop offset="0.9167" stop-color="#00b3ff"/><stop offset="0.9583" stop-color="#00cdff"/><stop offset="1" stop-color="#00ebff"/></linearGradient><linearGradient id="g100"><stop offset="0" stop-color="#00e0ff"/><stop offset="0.04167" stop-color="#00c3ff"/><stop offset="0.08333" stop-color="#00a9ff"/><stop offset="0.125" stop-color="#0091ff"/><stop offset="0.1667" stop-color="#007cff"/><stop offset="0.2083" stop-color="#0069ff"/><stop offset="0.25" stop-color="#0059ff"/><stop offset="0.2917" stop-color="#004bff"/><stop offset="0.3333" stop-color="#0040ff"/><stop offset="0.375" stop-color="#0037ff"/><stop offset="0.4167" stop-color="#0031ff"/><stop offset="0.4583" stop-color="#002eff"/><stop offset="0.5" stop-color="#002dff"/><stop offset="0.5417" stop-color="#002eff"/><stop offset="0.5833" stop-color="#0033ff"/><stop offset="0.625" stop-color="#0039ff"/><stop offset="0.6667" stop-color="#0042ff"/><stop offset="0.7083" stop-color="#004eff"/><stop offset="0.75" stop-color="#005cff"/><stop offset="0.7917" stop-color="#006dff"/><stop offset="0.8333" stop-color="#0080ff"/><stop offset="0.875" stop-color="#0096ff"/><stop offset="0.9167" stop-color="#00aeff"/><stop offset="0.9583" stop-color="#00c9ff"/><stop offset="1" stop-color="#00e6ff"/></linearGradient><linearGradient id="lg"><stop offset="0" stop-color="#0000ff"/><stop offset="0.5" stop-color="#00e000"/><stop offset="1" stop-color="#ff0000"/></linearGradient></defs>
<rect x="109.5" y="302.50" width="233.0" height="2.60" fill="url(#g0)"/>
<rect x="109.5" y="304.50" width="233.0" height="2.60" fill="url(#g1)"/>
<rect x="109.5" y="306.50" width="233.0" height="2.60" fill="url(#g2)"/>
<rect x="109.5" y="308.50" width="233.0" height="2.60" fill="url(#g3)"/>
<rect x="109.5" y="310.50" width="233.0" height="2.60" fill="url(#g4)"/>
<rect x="109.5" y="312.50" width="233.0" height="2.60" fill="url(#g5)"/>
<rect x="109.5" y="314.50" width="233.0" height="2.60" fill="url(#g6)"/>
<rect x="109.5" y="316.50" width="233.0" height="2.60" fill="url(#g7)"/>
<rect x="109.5" y="318.50" width="233.0" height="2.60" fill="url(#g8)"/>
<rect x="109.5" y="320.50" width="233.0" height="2.60" fill="url(#g9)"/>
<rect x="109.5" y="322.50" width="233.0" height="2.60" fill="url(#g10)"/>
<rect x="109.5" y="324.50" width="233.0" height="2.60" fill="url(#g11)"/>
<rect x="109.5" y="326.50" width="233.0" height="2.60" fill="url(#g12)"/>
<rect x="109.5" y="328.50" width="233.0" height="2.60" fill="url(#g13)"/>
<rect x="109.5" y="330.50" width="233.0" height="2.60" fill="url(#g14)"/>
<rect x="109.5" y="332.50" width="233.0" height="2.60" fill="url(#g15)"/>
<rect x="109.5" y="334.50" width="233.0" height="2.60" fill="url(#g16)"/>
<rect x="109.5" y="336.50" width="233.0" height="2.60" fill="url(#g17)"/>
<rect x="109.5" y="338.50" width="233.0" height="2.60" fill="url(#g18)"/>
<rect x="109.5" y="340.50" width="233.0" height="2.60" fill="url(#g19)"/>
<rect x="109.5" y="342.50" width="233.0" height="2.60" fill="url(#g20)"/>
<rect x="109.5" y="344.50" width="233.0" height="2.60" fill="url(#g21)"/>
<rect x="109.5" y="346.50" width="233.0" height="2.60" fill="url(#g22)"/>
<rect x="109.5" y="348.50" width="233.0" height="2.60" fill="url(#g23)"/>
<rect x="109.5" y="350.50" width="233.0" height="2.60" fill="url(#g24)"/>
<rect x="109.5" y="352.50" width="233.0" height="2.60" fill="url(#g25)"/>
<rect x="109.5" y="354.50" width="233.0" height="2.60" fill="url(#g26)"/>
<rect x="109.5" y="356.50" width="233.0" height="2.60" fill="url(#g27)"/>
<rect x="109.5" y="358.50" width="233.0" height="2.60" fill="url(#g28)"/>
<rect x="109.5" y="360.50" width="233.0" height="2.60" fill="url(#g29)"/>
<rect x="109.5" y="362.50" width="233.0" height="2.60" fill="url(#g30)"/>
<rect x="109.5" y="364.50" width="233.0" height="2.60" fill="url(#g31)"/>
<rect x="109.5" y="366.50" width="233.0" height="2.60" fill="url(#g32)"/>
<rect x="109.5" y="368.50" width="233.0" height="2.60" fill="url(#g33)"/>
<rect x="109.5" y="370.50" width="233.0" height="2.60" fill="url(#g34)"/>
<rect x="109.5" y="372.50" width="233.0" height="2.60" fill="url(#g35)"/>
<rect x="109.5" y="374.50" width="233.0" height="2.60" fill="url(#g36)"/>
<rect x="109.5" y="376.50" width="233.0" height="2.60" fill="url(#g37)"/>
<rect x="109.5" y="378.50" width="233.0" height="2.60" fill="url(#g38)"/>
<rect x="109.5" y="380.50" width="233.0" height="2.60" fill="url(#g39)"/>
<rect x="109.5" y="382.50" width="233.0" height="2.60" fill="url(#g40)"/>
<rect x="109.5" y="384.50" width="233.0" height="2.60" fill="url(#g41)"/>
<rect x="109.5" y="386.50" width="233.0" height="2.60" fill="url(#g42)"/>
<rect x="109.5" y="388.50" width="233.0" height="2.60" fill="url(#g43)"/>
<rect x="109.5" y="390.50" width="233.0" height="2.60" fill="url(#g44)"/>
<rect x="109.5" y="392.50" width="233.0" height="2.60" fill="url(#g45)"/>
<rect x="109.5" y="394.50" width="233.0" height="2.60" fill="url(#g46)"/>
<rect x="109.5" y="396.50" width="233.0" height="2.60" fill="url(#g47)"/>
<rect x="109.5" y="398.50" width="233.0" height="2.60" fill="url(#g48)"/>
<rect x="109.5" y="400.50" width="233.0" height="2.60" fill="url(#g49)"/>
<rect x="109.5" y="402.50" width="233.0" height="2.60" fill="url(#g50)"/>
<rect x="109.5" y="404.50" width="233.0" height="2.60" fill="url(#g51)"/>
<rect x="109.5" y="406.50" width="233.0" height="2.60" fill="url(#g52)"/>
<rect x="109.5" y="408.50" width="233.0" height="2.60" fill="url(#g53)"/>
<rect x="109.5" y="410.50" width="233.0" height="2.60" fill="url(#g54)"/>
<rect x="109.5" y="412.50" width="233.0" height="2.60" fill="url(#g55)"/>
<rect x="109.5" y="414.50" width="233.0" height="2.60" fill="url(#g56)"/>
<rect x="109.5" y="416.50" width="233.0" height="2.60" fill="url(#g57)"/>
<rect x="109.5" y="418.50" width="233.0" height="2.60" fill="url(#g58)"/>
<rect x="109.5" y="420.50" width="233.0" height="2.60" fill="url(#g59)"/>
<rect x="109.5" y="422.50" width="233.0" height="2.60" fill="url(#g60)"/>
<rect x="109.5" y="424.50" width="233.0" height="2.60" fill="url(#g61)"/>
<rect x="109.5" y="426.50" width="233.0" height="2.60" fill="url(#g62)"/>
<rect x="109.5" y="428.50" width="233.0" height="2.60" fill="url(#g63)"/>
<rect x="109.5" y="430.50" width="233.0" height="2.60" fill="url(#g64)"/>
<rect x="109.5" y="432.50" width="233.0" height="2.60" fill="url(#g65)"/>
<rect x="109.5" y="434.50" width="233.0" height="2.60" fill="url(#g66)"/>
<rect x="109.5" y="436.50" width="233.0" height="2.60" fill="url(#g67)"/>
<rect x="109.5" y="438.50" width="233.0" height="2.60" fill="url(#g68)"/>
<rect x="109.5" y="440.50" width="233.0" height="2.60" fill="url(#g69)"/>
<rect x="109.5" y="442.50" width="233.0" height="2.60" fill="url(#g70)"/>
<rect x="109.5" y="444.50" width="233.0" height="2.60" fill="url(#g71)"/>
<rect x="109.5" y="446.50" width="233.0" height="2.60" fill="url(#g72)"/>
<rect x="109.5" y="448.50" width="233.0" height="2.60" fill="url(#g73)"/>
<rect x="109.5" y="450.50" width="233.0" height="2.60" fill="url(#g74)"/>
<rect x="109.5" y="452.50" width="233.0" height="2.60" fill="url(#g75)"/>
<rect x="109.5" y="454.50" width="233.0" height="2.60" fill="url(#g76)"/>
<rect x="109.5" y="456.50" width="233.0" height="2.60" fill="url(#g77)"/>
<rect x="109.5" y="458.50" width="233.0" height="2.60" fill="url(#g78)"/>
<rect x="109.5" y="460.50" width="233.0" height="2.60" fill="url(#g79)"/>
<rect x="109.5" y="462.50" width="233.0" height="2.60" fill="url(#g80)"/>
<rect x="109.5" y="464.50" width="233.0" height="2.60" fill="url(#g81)"/>
<rect x="109.5" y="466.50" width="233.0" height="2.60" fill="url(#g82)"/>
<rect x="109.5" y="468.50" width="233.0" height="2.60" fill="url(#g83)"/>
<rect x="109.5" y="470.50" width="233.0" height="2.60" fill="url(#g84)"/>
<rect x="109.5" y="472.50" width="233.0" height="2.60" fill="url(#g85)"/>
<rect x="109.5" y="474.50" width="233.0" height="2.60" fill="url(#g86)"/>
<rect x="109.5" y="476.50" width="233.0" height="2.60" fill="url(#g87)"/>
<rect x="109.5" y="478.50" width="233.0" height="2.60" fill="url(#g88)"/>
<rect x="109.5" y="480.50" width="233.0" height="2.60" fill="url(#g89)"/>
<rect x="109.5" y="482.50" width="233.0" height="2.60" fill="url(#g90)"/>
<rect x="109.5" y="484.50" width="233.0" height="2.60" fill="url(#g91)"/>
<rect x="109.5" y="486.50" width="233.0" height="2.60" fill="url(#g92)"/>
<rect x="109.5" y="488.50" width="233.0" height="2.60" fill="url(#g93)"/>
<rect x="109.5" y="490.50" width="233.0" height="2.60" fill="url(#g94)"/>
<rect x="109.5" y="492.50" width="233.0" height="2.60" fill="url(#g95)"/>
<rect x="109.5" y="494.50" width="233.0" height="2.60" fill="url(#g96)"/>
<rect x="109.5" y="496.50" width="233.0" height="2.60" fill="url(#g97)"/>
<rect x="109.5" y="498.50" width="233.0" height="2.60" fill="url(#g98)"/>
<rect x="109.5" y="500.50" width="233.0" height="2.60" fill="url(#g99)"/>
<rect x="109.5" y="502.50" width="233.0" height="1.10" fill="url(#g100)"/>
<rect x="108.5" y="503.0" width="235.0" height="1.2" fill="#fff"/>
<rect x="109.5" y="302.5" width="233.0" height="200.5" fill="none" stroke="#444" stroke-width="0.8"/>
<path d="M109.5 497.8 L111.2 497.0 L113.0 496.1 L114.2 495.5 L115.3 494.9 L117.2 494.0 L118.8 493.2 L120.0 492.6 L121.2 492.0 L123.3 491.0 L124.6 490.3 L125.8 489.7 L127.4 489.0 L129.3 488.0 L130.5 487.4 L131.6 486.9 L133.6 486.0 L135.1 485.2 L136.3 484.6 L137.8 484.0 L139.8 483.0 L141.0 482.4 L142.1 481.9 L144.2 480.9 L145.6 480.3 L146.8 479.7 L148.5 478.9 L150.3 478.1 L151.4 477.6 L152.9 476.9 L154.9 476.0 L156.1 475.5 L157.4 474.9 L159.6 473.9 L160.8 473.4 L161.9 472.9 L164.2 471.9 L165.4 471.4 L166.6 470.9 L168.9 469.9 L170.1 469.4 L171.3 468.9 L173.6 468.0 L174.7 467.5 L176.2 466.9 L178.2 466.1 L179.4 465.6 L181.3 464.9 L182.9 464.3 L184.1 463.8 L186.4 462.9 L187.6 462.5 L189.2 461.9 L191.1 461.2 L192.2 460.8 L194.5 460.0 L195.7 459.6 L197.7 458.9 L199.2 458.4 L200.7 457.9 L202.7 457.2 L203.9 456.9 L206.2 456.2 L207.4 455.8 L209.7 455.1 L210.9 454.8 L213.2 454.1 L214.4 453.8 L216.7 453.2 L218.0 452.9 L220.2 452.3 L222.2 451.9 L223.7 451.5 L226.0 451.0 L227.2 450.8 L229.5 450.4 L231.8 450.0 L233.0 449.8 L235.3 449.4 L237.7 449.1 L239.7 448.9 L241.1 448.7 L243.5 448.5 L245.8 448.3 L248.1 448.2 L250.5 448.1 L252.8 448.1 L255.1 448.2 L257.5 448.2 L259.8 448.4 L262.1 448.6 L264.4 448.8 L265.6 449.0 L267.9 449.3 L270.3 449.7 L271.4 449.9 L273.8 450.4 L275.6 450.9 L277.3 451.3 L279.3 451.9 L280.8 452.3 L282.5 452.9 L284.2 453.5 L285.4 453.9 L287.7 454.8 L288.9 455.3 L290.4 455.9 L292.4 456.8 L293.6 457.3 L294.7 457.9 L296.7 458.9 L298.2 459.7 L299.4 460.3 L300.6 461.0 L302.1 461.9 L303.8 462.9 L305.2 463.8 L306.4 464.5 L307.5 465.2 L308.7 466.0 L310.0 466.9 L311.5 467.9 L312.9 468.9 L314.3 469.9 L315.6 470.9 L316.9 471.9 L318.0 472.8 L319.2 473.7 L320.4 474.6 L321.5 475.5 L322.7 476.5 L323.9 477.5 L325.0 478.5 L326.2 479.5 L327.4 480.5 L328.5 481.5 L329.7 482.6 L330.9 483.6 L332.0 484.7 L333.2 485.8 L334.3 486.9 L335.5 488.0 L336.5 489.0 L337.6 490.0 L338.6 491.0 L339.6 492.0 L340.6 493.0 L341.6 494.0 L342.5 494.9" fill="none" stroke="#1a1a00" stroke-opacity="0.6" stroke-width="0.75"/>
<path d="M109.5 452.3 L110.7 451.4 L111.8 450.5 L113.0 449.6 L114.2 448.7 L115.3 447.8 L116.5 446.9 L117.8 445.9 L119.0 444.9 L120.3 443.9 L121.6 442.9 L122.8 441.8 L124.1 440.8 L125.3 439.8 L126.5 438.8 L127.8 437.8 L129.0 436.8 L130.2 435.8 L131.4 434.8 L132.6 433.8 L133.8 432.8 L135.0 431.8 L136.2 430.8 L137.3 429.8 L138.5 428.8 L139.6 427.8 L140.8 426.8 L141.9 425.8 L143.1 424.8 L144.2 423.8 L145.3 422.8 L146.4 421.8 L147.5 420.8 L148.6 419.8 L149.7 418.8 L150.8 417.8 L151.9 416.8 L152.9 415.8 L154.0 414.8 L155.0 413.8 L156.1 412.7 L157.3 411.6 L158.4 410.4 L159.6 409.2 L160.8 408.1 L161.9 406.9 L163.0 405.8 L163.9 404.8 L164.9 403.8 L165.8 402.8 L166.7 401.7 L167.8 400.6 L168.9 399.3 L170.1 398.0 L171.2 396.7 L172.0 395.7 L172.9 394.7 L173.7 393.7 L174.7 392.4 L175.9 391.0 L176.9 389.7 L177.7 388.7 L178.4 387.7 L179.4 386.4 L180.6 384.8 L181.3 383.7 L182.0 382.7 L182.9 381.4 L184.1 379.7 L184.7 378.7 L185.3 377.7 L186.4 376.0 L187.2 374.7 L187.7 373.7 L188.7 371.9 L189.4 370.7 L189.9 369.7 L191.0 367.7 L191.4 366.7 L192.2 365.0 L192.8 363.7 L193.4 362.4 L194.1 360.6 L194.5 359.5 L195.3 357.6 L195.7 356.4 L196.3 354.6 L196.9 352.8 L197.2 351.6 L197.8 349.6 L198.0 348.6 L198.5 346.6 L198.9 344.6 L199.2 343.3 L199.5 341.6 L199.8 339.6 L200.1 337.6 L200.3 335.6 L200.4 334.6 L200.6 332.6 L200.7 330.6 L200.8 328.6 L200.8 326.6 L200.8 324.6 L200.8 322.6 L200.7 320.5 L200.6 318.5 L200.5 316.5 L200.4 315.4 L200.2 313.5 L200.0 311.5 L199.7 309.5 L199.4 307.5 L199.2 306.1 L198.9 304.5 L198.6 302.5 L198.6 302.5" fill="none" stroke="#1a1a00" stroke-opacity="0.6" stroke-width="0.75"/>
<path d="M109.5 388.7 L110.7 386.9 L111.4 385.7 L112.1 384.7 L113.0 383.3 L114.0 381.7 L114.6 380.7 L115.3 379.4 L116.3 377.7 L116.9 376.7 L117.7 375.4 L118.6 373.7 L119.1 372.7 L120.0 371.1 L120.7 369.7 L121.2 368.7 L122.2 366.7 L122.7 365.7 L123.5 364.1 L124.1 362.6 L124.6 361.5 L125.5 359.6 L125.9 358.6 L126.8 356.6 L127.2 355.6 L128.0 353.6 L128.4 352.6 L129.1 350.6 L129.5 349.6 L130.2 347.6 L130.5 346.6 L131.2 344.6 L131.6 343.2 L132.1 341.6 L132.7 339.6 L133.0 338.6 L133.5 336.6 L134.0 334.9 L134.3 333.6 L134.8 331.6 L135.1 329.9 L135.4 328.6 L135.8 326.6 L136.2 324.6 L136.4 323.6 L136.7 321.5 L137.0 319.5 L137.3 317.5 L137.5 316.0 L137.6 314.5 L137.8 312.5 L138.0 310.5 L138.2 308.5 L138.3 306.5 L138.4 304.5 L138.5 302.5 L138.5 302.5" fill="none" stroke="#1a1a00" stroke-opacity="0.6" stroke-width="0.75"/>
<rect x="125.4" y="344.9" width="9.5" height="4.2" fill="#fff" stroke="#556" stroke-width="0.6"/>
<text x="130.2" y="348.3" font-size="3.6" text-anchor="middle" fill="#333">0.92</text>
<rect x="170.1" y="388.7" width="9.5" height="4.2" fill="#fff" stroke="#556" stroke-width="0.6"/>
<text x="174.8" y="392.1" font-size="3.6" text-anchor="middle" fill="#333">0.9</text>
<rect x="226.2" y="446.9" width="9.5" height="4.2" fill="#fff" stroke="#556" stroke-width="0.6"/>
<text x="231.0" y="450.3" font-size="3.6" text-anchor="middle" fill="#333">0.88</text>
<line x1="109.5" y1="503.0" x2="109.5" y2="507.2" stroke="#555" stroke-width="0.7"/>
<text x="109.5" y="514.8" font-size="5.4" text-anchor="middle" fill="#333">35</text>
<line x1="156.1" y1="503.0" x2="156.1" y2="507.2" stroke="#555" stroke-width="0.7"/>
<text x="156.1" y="514.8" font-size="5.4" text-anchor="middle" fill="#333">37</text>
<line x1="202.7" y1="503.0" x2="202.7" y2="507.2" stroke="#555" stroke-width="0.7"/>
<text x="202.7" y="514.8" font-size="5.4" text-anchor="middle" fill="#333">39</text>
<line x1="249.3" y1="503.0" x2="249.3" y2="507.2" stroke="#555" stroke-width="0.7"/>
<text x="249.3" y="514.8" font-size="5.4" text-anchor="middle" fill="#333">41</text>
<line x1="295.9" y1="503.0" x2="295.9" y2="507.2" stroke="#555" stroke-width="0.7"/>
<text x="295.9" y="514.8" font-size="5.4" text-anchor="middle" fill="#333">43</text>
<line x1="342.5" y1="503.0" x2="342.5" y2="507.2" stroke="#555" stroke-width="0.7"/>
<text x="341.0" y="514.8" font-size="5.4" text-anchor="middle" fill="#333">45</text>
<line x1="104.5" y1="302.5" x2="109.5" y2="302.5" stroke="#444" stroke-width="0.7"/>
<text x="101.5" y="304.4" font-size="5.4" text-anchor="end" fill="#333">1.2</text>
<line x1="104.5" y1="352.6" x2="109.5" y2="352.6" stroke="#444" stroke-width="0.7"/>
<text x="101.5" y="354.5" font-size="5.4" text-anchor="end" fill="#333">1.1</text>
<line x1="104.5" y1="402.8" x2="109.5" y2="402.8" stroke="#444" stroke-width="0.7"/>
<text x="101.5" y="404.6" font-size="5.4" text-anchor="end" fill="#333">1</text>
<line x1="104.5" y1="452.9" x2="109.5" y2="452.9" stroke="#444" stroke-width="0.7"/>
<text x="101.5" y="454.8" font-size="5.4" text-anchor="end" fill="#333">0.9</text>
<line x1="104.5" y1="503.0" x2="109.5" y2="503.0" stroke="#444" stroke-width="0.7"/>
<text x="101.5" y="504.9" font-size="5.4" text-anchor="end" fill="#333">0.8</text>
<circle cx="109.5" cy="302.5" r="2.0" fill="#b0000a" stroke="#6e0000" stroke-width="0.5"/>
<circle cx="342.5" cy="302.5" r="2.0" fill="#b0000a" stroke="#6e0000" stroke-width="0.5"/>
<circle cx="109.5" cy="503.0" r="2.0" fill="#b0000a" stroke="#6e0000" stroke-width="0.5"/>
<circle cx="226.0" cy="402.2" r="2.0" fill="#b0000a" stroke="#6e0000" stroke-width="0.5"/>
<text x="220.6" y="403.4" font-size="3.4" text-anchor="middle" fill="#222">5</text>
<text x="226.1" y="299.6" font-size="9.4" text-anchor="middle" fill="#222" textLength="72.2" lengthAdjust="spacingAndGlyphs">Tailing factor (%)</text>
<text x="225.5" y="530.2" font-size="8.2" text-anchor="middle" fill="#333" textLength="61.4" lengthAdjust="spacingAndGlyphs">A: Acetonitrile (%)</text>
<text transform="translate(75.3,401.7) rotate(-90)" font-size="8.2" text-anchor="middle" fill="#333" textLength="62" lengthAdjust="spacingAndGlyphs">B: Flow rate (ml/min)</text>
<line x1="105.7" y1="169.9" x2="101.3" y2="73.1" stroke="#2c2c2c" stroke-width="0.65"/>
<line x1="126.5" y1="163.4" x2="122.9" y2="68.5" stroke="#2c2c2c" stroke-width="0.65"/>
<line x1="147.2" y1="156.9" x2="144.5" y2="64.0" stroke="#2c2c2c" stroke-width="0.65"/>
<line x1="167.9" y1="150.4" x2="166.2" y2="59.4" stroke="#2c2c2c" stroke-width="0.65"/>
<line x1="188.7" y1="143.9" x2="187.8" y2="54.9" stroke="#2c2c2c" stroke-width="0.65"/>
<line x1="209.4" y1="137.5" x2="209.4" y2="50.3" stroke="#2c2c2c" stroke-width="0.65"/>
<line x1="313.3" y1="169.7" x2="318.5" y2="72.9" stroke="#2c2c2c" stroke-width="0.65"/>
<line x1="287.3" y1="161.7" x2="291.2" y2="67.2" stroke="#2c2c2c" stroke-width="0.65"/>
<line x1="261.4" y1="153.6" x2="263.9" y2="61.6" stroke="#2c2c2c" stroke-width="0.65"/>
<line x1="235.4" y1="145.5" x2="236.7" y2="55.9" stroke="#2c2c2c" stroke-width="0.65"/>
<line x1="209.4" y1="137.5" x2="209.4" y2="50.3" stroke="#2c2c2c" stroke-width="0.65"/>
<line x1="105.7" y1="169.9" x2="209.4" y2="137.5" stroke="#2c2c2c" stroke-width="0.65"/>
<line x1="209.4" y1="137.5" x2="313.3" y2="169.7" stroke="#2c2c2c" stroke-width="0.65"/>
<line x1="105.0" y1="153.7" x2="209.4" y2="122.9" stroke="#2c2c2c" stroke-width="0.65"/>
<line x1="209.4" y1="122.9" x2="314.2" y2="153.6" stroke="#2c2c2c" stroke-width="0.65"/>
<line x1="104.2" y1="137.6" x2="209.4" y2="108.4" stroke="#2c2c2c" stroke-width="0.65"/>
<line x1="209.4" y1="108.4" x2="315.1" y2="137.4" stroke="#2c2c2c" stroke-width="0.65"/>
<line x1="103.5" y1="121.5" x2="209.4" y2="93.9" stroke="#2c2c2c" stroke-width="0.65"/>
<line x1="209.4" y1="93.9" x2="315.9" y2="121.3" stroke="#2c2c2c" stroke-width="0.65"/>
<line x1="102.8" y1="105.3" x2="209.4" y2="79.3" stroke="#2c2c2c" stroke-width="0.65"/>
<line x1="209.4" y1="79.3" x2="316.8" y2="105.2" stroke="#2c2c2c" stroke-width="0.65"/>
<line x1="102.0" y1="89.2" x2="209.4" y2="64.8" stroke="#2c2c2c" stroke-width="0.65"/>
<line x1="209.4" y1="64.8" x2="317.6" y2="89.0" stroke="#2c2c2c" stroke-width="0.65"/>
<line x1="101.3" y1="73.1" x2="209.4" y2="50.3" stroke="#2c2c2c" stroke-width="0.65"/>
<line x1="209.4" y1="50.3" x2="318.5" y2="72.9" stroke="#2c2c2c" stroke-width="0.65"/>
<line x1="107.2" y1="202.1" x2="105.7" y2="169.9" stroke="#2c2c2c" stroke-width="0.65"/>
<line x1="311.6" y1="202.0" x2="313.3" y2="169.7" stroke="#2c2c2c" stroke-width="0.65"/>
<polygon points="107.2,202.1 209.4,246.5 311.6,202.0 209.4,166.5" fill="#5e5e5e" stroke="#222" stroke-width="0.7"/>
<path d="M146.0 219.0 L145.5 218.3 L144.9 217.6 L144.3 217.0 L143.7 216.3 L143.0 215.6 L142.4 215.0 L141.8 214.4 L141.2 213.8 L140.5 213.2 L139.8 212.6 L138.9 211.8 L138.2 211.2 L137.5 210.6 L136.7 210.0 L135.7 209.2 L135.0 208.7 L134.0 208.0 L133.1 207.4 L132.3 206.8 L131.1 206.1 L130.3 205.6 L129.0 204.8 L128.2 204.3 L126.9 203.6 L125.6 202.8 L124.7 202.3 L123.3 201.6 L122.0 200.9 L121.0 200.5 L119.6 199.8 L118.1 199.1 L117.2 198.6" fill="none" stroke="#e6d21e" stroke-width="1.1"/>
<path d="M166.1 227.7 L165.9 227.2 L165.7 226.5 L165.5 225.7 L165.3 225.2 L165.1 224.6 L164.8 223.9 L164.5 223.2 L164.3 222.7 L164.0 222.1 L163.7 221.3 L163.4 220.6 L163.1 220.1 L162.8 219.5 L162.4 218.9 L162.1 218.2 L161.6 217.6 L161.2 216.9 L160.8 216.2 L160.3 215.6 L159.9 215.0 L159.4 214.4 L159.0 213.8 L158.4 213.1 L157.9 212.5 L157.3 211.8 L156.7 211.2 L156.2 210.6 L155.6 210.0 L155.0 209.4 L154.3 208.8 L153.7 208.3 L152.8 207.5 L152.0 206.9 L151.3 206.3 L150.6 205.8 L149.5 205.0 L148.8 204.5 L147.8 203.8 L146.8 203.2 L146.0 202.6 L144.8 201.9 L143.8 201.3 L142.7 200.7 L141.4 200.0 L140.5 199.5 L139.1 198.8 L137.7 198.1 L136.3 197.4 L134.9 196.8 L133.8 196.3 L132.3 195.7 L130.8 195.1 L129.2 194.4 L129.2 194.4" fill="none" stroke="#96dc14" stroke-width="1.1"/>
<path d="M184.0 235.4 L184.0 234.9 L184.1 234.2 L184.2 233.5 L184.2 233.0 L184.3 232.2 L184.4 231.7 L184.4 230.9 L184.5 230.4 L184.5 229.7 L184.5 229.1 L184.6 228.4 L184.6 227.8 L184.6 227.2 L184.6 226.5 L184.6 225.9 L184.7 225.2 L184.6 224.6 L184.6 224.0 L184.6 223.3 L184.6 222.7 L184.6 222.1 L184.5 221.5 L184.5 220.8 L184.4 220.3 L184.3 219.5 L184.3 219.0 L184.2 218.3 L184.1 217.7 L184.0 217.1 L183.8 216.4 L183.7 215.9 L183.6 215.2 L183.4 214.5 L183.3 214.1 L183.1 213.4 L182.8 212.6 L182.7 212.2 L182.4 211.6 L182.2 210.9 L181.9 210.2 L181.6 209.7 L181.4 209.1 L181.0 208.5 L180.6 207.8 L180.2 207.1 L179.8 206.5 L179.4 206.0 L179.0 205.4 L178.6 204.8 L178.0 204.2 L177.5 203.6 L176.9 202.9 L176.2 202.3 L175.6 201.7 L175.0 201.1 L174.3 200.6 L173.6 200.0 L172.6 199.3 L171.8 198.7 L171.0 198.2 L169.9 197.5 L169.1 197.0 L167.8 196.3 L166.6 195.6 L165.6 195.1 L164.2 194.5 L162.8 193.8 L161.3 193.2 L159.8 192.6 L158.2 192.0 L156.6 191.4 L155.0 190.8 L153.3 190.2 L152.1 189.8 L150.5 189.3 L148.7 188.8 L147.5 188.4 L146.9 188.3" fill="none" stroke="#28d228" stroke-width="1.1"/>
<path d="M198.8 241.9 L199.1 241.2 L199.3 240.7 L199.6 240.1 L199.9 239.3 L200.2 238.6 L200.5 238.0 L200.7 237.5 L201.0 236.7 L201.4 236.0 L201.7 235.3 L201.9 234.8 L202.2 234.2 L202.5 233.5 L202.8 232.7 L203.1 232.1 L203.3 231.6 L203.6 230.9 L204.0 230.2 L204.3 229.5 L204.6 229.0 L204.8 228.4 L205.2 227.7 L205.5 227.0 L205.8 226.3 L206.1 225.8 L206.4 225.2 L206.7 224.6 L207.0 223.9 L207.4 223.2 L207.7 222.6 L207.9 222.1 L208.3 221.4 L208.6 220.7 L209.0 220.0 L209.3 219.4 L209.6 218.9 L209.9 218.3 L210.3 217.7 L210.7 217.0 L211.0 216.3 L211.4 215.7 L211.7 215.1 L212.1 214.6 L212.4 214.0 L212.8 213.3 L213.2 212.7 L213.6 212.0 L214.1 211.4 L214.5 210.7 L214.9 210.2 L215.2 209.6 L215.6 209.1 L216.0 208.5 L216.5 207.9 L217.0 207.2 L217.5 206.6 L218.0 206.0 L218.5 205.4 L219.0 204.8 L219.6 204.2 L220.1 203.6 L220.8 203.0 L221.5 202.3 L222.2 201.7 L222.9 201.1 L223.5 200.6 L224.4 200.0 L225.4 199.3 L226.2 198.8 L227.4 198.1 L228.4 197.6 L229.7 197.0 L231.3 196.4 L232.5 196.0 L234.1 195.5 L235.7 195.1 L237.4 194.8 L238.8 194.5 L240.3 194.3 L241.9 194.1 L243.5 193.9 L245.1 193.8 L246.3 193.7 L247.9 193.6 L249.7 193.5 L250.8 193.4 L252.7 193.4 L254.0 193.3 L255.8 193.3 L257.0 193.3 L259.0 193.3 L260.0 193.3 L261.9 193.3 L263.4 193.3 L264.7 193.3 L266.5 193.3 L267.9 193.4 L269.3 193.4 L271.1 193.4 L272.6 193.5 L273.8 193.5 L275.5 193.6 L277.3 193.6 L278.7 193.7 L279.9 193.7 L281.7 193.8 L283.4 193.8 L284.9 193.9 L286.1 193.9 L287.7 194.0 L288.7 194.0" fill="none" stroke="#00d796" stroke-width="1.1"/>
<path d="M216.8 169.1 L216.3 169.6 L215.7 170.1 L215.1 170.6 L214.4 171.2 L213.5 171.9 L212.8 172.4 L212.1 172.8 L210.9 173.5 L210.1 174.0 L208.8 174.6 L207.9 175.0 L206.5 175.6 L204.9 176.1 L203.8 176.4 L202.0 176.9 L200.7 177.2 L198.7 177.5 L197.2 177.7 L195.7 177.9 L194.1 178.1 L192.7 178.2 L191.5 178.2 L189.8 178.3 L188.0 178.4 L186.8 178.4 L185.1 178.4 L183.6 178.4 L182.1 178.4 L180.5 178.4 L178.9 178.4 L177.6 178.3 L175.7 178.3 L175.7 178.3" fill="none" stroke="#00d796" stroke-width="1.1"/>
<path d="M214.1 244.5 L214.5 243.8 L215.0 243.2 L215.5 242.5 L216.0 241.8 L216.5 241.1 L217.0 240.5 L217.5 239.8 L218.0 239.2 L218.5 238.5 L219.0 237.9 L219.5 237.2 L220.1 236.6 L220.6 235.9 L221.1 235.3 L221.7 234.6 L222.3 233.9 L223.0 233.2 L223.6 232.5 L224.2 231.8 L224.8 231.2 L225.4 230.6 L226.0 230.0 L226.6 229.4 L227.3 228.8 L228.0 228.0 L228.8 227.3 L229.5 226.7 L230.2 226.1 L230.8 225.6 L231.8 224.7 L232.6 224.1 L233.3 223.6 L234.2 222.9 L235.1 222.2 L235.9 221.7 L237.0 220.9 L237.8 220.4 L238.9 219.7 L239.8 219.1 L241.1 218.3 L242.0 217.8 L243.3 217.1 L244.6 216.4 L245.6 215.9 L247.0 215.3 L248.5 214.6 L250.0 213.9 L251.6 213.3 L253.2 212.7 L254.6 212.2 L256.1 211.7 L257.8 211.2 L259.0 210.8 L260.9 210.3 L262.1 210.0 L264.0 209.5 L265.4 209.2 L266.8 208.8 L268.2 208.6 L269.9 208.2 L271.7 207.9 L273.3 207.6 L274.8 207.3 L276.3 207.1 L277.9 206.9 L279.3 206.7 L280.7 206.5 L282.0 206.3 L283.6 206.1 L285.3 205.9 L287.0 205.7 L288.4 205.6 L289.7 205.5 L291.4 205.3 L293.2 205.1 L294.4 205.0 L296.0 204.9 L297.8 204.8 L298.9 204.7 L300.7 204.6 L302.2 204.5 L303.6 204.4 L305.4 204.3 L306.4 204.3" fill="none" stroke="#1ea5eb" stroke-width="1.1"/>
<g stroke="#000" stroke-width="0.45" stroke-opacity="0.85" stroke-linejoin="round">
<polygon points="209.4,110.3 214.2,109.0 209.4,109.1 204.6,110.3" fill="#42fffe"/>
<polygon points="204.6,111.5 209.4,110.3 204.6,110.3 199.8,111.4" fill="#3efffd"/>
<polygon points="214.2,110.5 219.0,109.0 214.2,109.0 209.4,110.3" fill="#3effed"/>
<polygon points="199.9,112.6 204.6,111.5 199.8,111.4 195.1,112.3" fill="#3cfff9"/>
<polygon points="209.4,111.8 214.2,110.5 209.4,110.3 204.6,111.5" fill="#3bffed"/>
<polygon points="219.0,110.8 223.8,109.2 219.0,109.0 214.2,110.5" fill="#3bffde"/>
<polygon points="195.1,113.4 199.9,112.6 195.1,112.3 190.3,113.1" fill="#39fff3"/>
<polygon points="204.7,112.9 209.4,111.8 204.6,111.5 199.9,112.6" fill="#38ffea"/>
<polygon points="214.3,112.2 219.0,110.8 214.2,110.5 209.4,111.8" fill="#38ffde"/>
<polygon points="223.9,111.2 228.7,109.5 223.8,109.2 219.0,110.8" fill="#38ffcf"/>
<polygon points="199.9,113.8 204.7,112.9 199.9,112.6 195.1,113.4" fill="#35ffe5"/>
<polygon points="219.1,112.7 223.9,111.2 219.0,110.8 214.3,112.2" fill="#34ffd0"/>
<polygon points="190.3,114.1 195.1,113.4 190.3,113.1 185.5,113.7" fill="#37ffeb"/>
<polygon points="209.5,113.4 214.3,112.2 209.4,111.8 204.7,112.9" fill="#34ffdc"/>
<polygon points="228.7,111.7 233.5,109.9 228.7,109.5 223.9,111.2" fill="#35ffc2"/>
<polygon points="185.5,114.6 190.3,114.1 185.5,113.7 180.7,114.1" fill="#35ffe0"/>
<polygon points="195.1,114.6 199.9,113.8 195.1,113.4 190.3,114.1" fill="#33ffdd"/>
<polygon points="204.7,114.4 209.5,113.4 204.7,112.9 199.9,113.8" fill="#31ffd7"/>
<polygon points="214.3,114.0 219.1,112.7 214.3,112.2 209.5,113.4" fill="#31ffcf"/>
<polygon points="223.9,113.3 228.7,111.7 223.9,111.2 219.1,112.7" fill="#31ffc4"/>
<polygon points="233.5,112.4 238.3,110.5 233.5,109.9 228.7,111.7" fill="#32ffb7"/>
<polygon points="180.7,114.9 185.5,114.6 180.7,114.1 175.9,114.3" fill="#33ffd3"/>
<polygon points="190.3,115.2 195.1,114.6 190.3,114.1 185.5,114.6" fill="#31ffd3"/>
<polygon points="209.5,115.1 214.3,114.0 209.5,113.4 204.7,114.4" fill="#2effcc"/>
<polygon points="228.7,114.1 233.5,112.4 228.7,111.7 223.9,113.3" fill="#2effba"/>
<polygon points="238.3,113.2 243.1,111.2 238.3,110.5 233.5,112.4" fill="#2fffae"/>
<polygon points="199.9,115.3 204.7,114.4 199.9,113.8 195.1,114.6" fill="#2fffd1"/>
<polygon points="219.1,114.7 223.9,113.3 219.1,112.7 214.3,114.0" fill="#2effc4"/>
<polygon points="185.5,115.6 190.3,115.2 185.5,114.6 180.7,114.9" fill="#2fffc7"/>
<polygon points="233.5,115.0 238.3,113.2 233.5,112.4 228.7,114.1" fill="#2bffb2"/>
<polygon points="175.9,115.1 180.7,114.9 175.9,114.3 171.1,114.4" fill="#32ffc3"/>
<polygon points="195.1,116.0 199.9,115.3 195.1,114.6 190.3,115.2" fill="#2dffc8"/>
<polygon points="204.7,116.1 209.5,115.1 204.7,114.4 199.9,115.3" fill="#2bffc6"/>
<polygon points="214.3,116.0 219.1,114.7 214.3,114.0 209.5,115.1" fill="#2affc2"/>
<polygon points="223.9,115.6 228.7,114.1 223.9,113.3 219.1,114.7" fill="#2affbb"/>
<polygon points="243.1,114.1 248.0,112.0 243.1,111.2 238.3,113.2" fill="#2dffa6"/>
<polygon points="171.1,115.0 175.9,115.1 171.1,114.4 166.3,114.2" fill="#31ffb1"/>
<polygon points="180.7,115.9 185.5,115.6 180.7,114.9 175.9,115.1" fill="#2dffb8"/>
<polygon points="190.3,116.5 195.1,116.0 190.3,115.2 185.5,115.6" fill="#2bffbc"/>
<polygon points="199.9,116.9 204.7,116.1 199.9,115.3 195.1,116.0" fill="#29ffbe"/>
<polygon points="209.5,117.0 214.3,116.0 209.5,115.1 204.7,116.1" fill="#27ffbd"/>
<polygon points="219.1,116.9 223.9,115.6 219.1,114.7 214.3,116.0" fill="#27ffb9"/>
<polygon points="228.7,116.6 233.5,115.0 228.7,114.1 223.9,115.6" fill="#27ffb3"/>
<polygon points="238.3,116.0 243.1,114.1 238.3,113.2 233.5,115.0" fill="#29ffab"/>
<polygon points="248.0,115.2 252.8,113.0 248.0,112.0 243.1,114.1" fill="#2bffa0"/>
<polygon points="166.2,114.8 171.1,115.0 166.3,114.2 161.4,113.9" fill="#30ff9d"/>
<polygon points="175.9,116.0 180.7,115.9 175.9,115.1 171.1,115.0" fill="#2cffa6"/>
<polygon points="185.5,116.9 190.3,116.5 185.5,115.6 180.7,115.9" fill="#29ffae"/>
<polygon points="195.1,117.5 199.9,116.9 195.1,116.0 190.3,116.5" fill="#27ffb3"/>
<polygon points="204.7,117.9 209.5,117.0 204.7,116.1 199.9,116.9" fill="#25ffb6"/>
<polygon points="214.3,118.1 219.1,116.9 214.3,116.0 209.5,117.0" fill="#24ffb6"/>
<polygon points="223.9,118.0 228.7,116.6 223.9,115.6 219.1,116.9" fill="#24ffb3"/>
<polygon points="233.5,117.7 238.3,116.0 233.5,115.0 228.7,116.6" fill="#25ffae"/>
<polygon points="243.2,117.2 248.0,115.2 243.1,114.1 238.3,116.0" fill="#26ffa6"/>
<polygon points="252.8,116.4 257.6,114.1 252.8,113.0 248.0,115.2" fill="#29ff9c"/>
<polygon points="161.4,114.4 166.2,114.8 161.4,113.9 156.6,113.4" fill="#30ff86"/>
<polygon points="171.0,115.8 175.9,116.0 171.1,115.0 166.2,114.8" fill="#2cff93"/>
<polygon points="180.7,117.0 185.5,116.9 180.7,115.9 175.9,116.0" fill="#28ff9d"/>
<polygon points="190.3,118.0 195.1,117.5 190.3,116.5 185.5,116.9" fill="#25ffa6"/>
<polygon points="199.9,118.7 204.7,117.9 199.9,116.9 195.1,117.5" fill="#22ffac"/>
<polygon points="209.5,119.1 214.3,118.1 209.5,117.0 204.7,117.9" fill="#21ffaf"/>
<polygon points="219.1,119.3 223.9,118.0 219.1,116.9 214.3,118.1" fill="#20ffb0"/>
<polygon points="228.7,119.3 233.5,117.7 228.7,116.6 223.9,118.0" fill="#21ffaf"/>
<polygon points="238.3,119.0 243.2,117.2 238.3,116.0 233.5,117.7" fill="#22ffaa"/>
<polygon points="248.0,118.5 252.8,116.4 248.0,115.2 243.2,117.2" fill="#24ffa3"/>
<polygon points="257.6,117.7 262.4,115.3 257.6,114.1 252.8,116.4" fill="#27ff9a"/>
<polygon points="156.5,113.8 161.4,114.4 156.6,113.4 151.7,112.7" fill="#30ff6d"/>
<polygon points="166.2,115.5 171.0,115.8 166.2,114.8 161.4,114.4" fill="#2cff7d"/>
<polygon points="175.8,117.0 180.7,117.0 175.9,116.0 171.0,115.8" fill="#27ff8a"/>
<polygon points="185.5,118.2 190.3,118.0 185.5,116.9 180.7,117.0" fill="#24ff96"/>
<polygon points="195.1,119.2 199.9,118.7 195.1,117.5 190.3,118.0" fill="#21ffa0"/>
<polygon points="204.7,119.9 209.5,119.1 204.7,117.9 199.9,118.7" fill="#1effa7"/>
<polygon points="214.3,120.4 219.1,119.3 214.3,118.1 209.5,119.1" fill="#1dffab"/>
<polygon points="223.9,120.7 228.7,119.3 223.9,118.0 219.1,119.3" fill="#1dffad"/>
<polygon points="233.5,120.7 238.3,119.0 233.5,117.7 228.7,119.3" fill="#1effac"/>
<polygon points="243.2,120.4 248.0,118.5 243.2,117.2 238.3,119.0" fill="#20ffa9"/>
<polygon points="252.8,119.9 257.6,117.7 252.8,116.4 248.0,118.5" fill="#22ffa3"/>
<polygon points="262.4,119.2 267.3,116.7 262.4,115.3 257.6,117.7" fill="#26ff9b"/>
<polygon points="151.7,113.0 156.5,113.8 151.7,112.7 146.9,111.8" fill="#31ff53"/>
<polygon points="161.4,115.0 166.2,115.5 161.4,114.4 156.5,113.8" fill="#2cff65"/>
<polygon points="171.0,116.8 175.8,117.0 171.0,115.8 166.2,115.5" fill="#27ff75"/>
<polygon points="180.7,118.3 185.5,118.2 180.7,117.0 175.8,117.0" fill="#23ff84"/>
<polygon points="190.3,119.6 195.1,119.2 190.3,118.0 185.5,118.2" fill="#1fff91"/>
<polygon points="199.9,120.6 204.7,119.9 199.9,118.7 195.1,119.2" fill="#1cff9b"/>
<polygon points="209.5,121.4 214.3,120.4 209.5,119.1 204.7,119.9" fill="#1bffa3"/>
<polygon points="219.1,121.9 223.9,120.7 219.1,119.3 214.3,120.4" fill="#1affa9"/>
<polygon points="228.7,122.2 233.5,120.7 228.7,119.3 223.9,120.7" fill="#1affac"/>
<polygon points="238.4,122.2 243.2,120.4 238.3,119.0 233.5,120.7" fill="#1bffac"/>
<polygon points="248.0,122.0 252.8,119.9 248.0,118.5 243.2,120.4" fill="#1effaa"/>
<polygon points="257.6,121.5 262.4,119.2 257.6,117.7 252.8,119.9" fill="#21ffa5"/>
<polygon points="267.2,120.8 272.1,118.2 267.3,116.7 262.4,119.2" fill="#25ff9d"/>
<polygon points="146.8,112.0 151.7,113.0 146.9,111.8 142.0,110.8" fill="#32ff37"/>
<polygon points="156.5,114.3 161.4,115.0 156.5,113.8 151.7,113.0" fill="#2cff4b"/>
<polygon points="166.2,116.4 171.0,116.8 166.2,115.5 161.4,115.0" fill="#27ff5e"/>
<polygon points="175.8,118.2 180.7,118.3 175.8,117.0 171.0,116.8" fill="#22ff70"/>
<polygon points="195.1,121.1 199.9,120.6 195.1,119.2 190.3,119.6" fill="#1bff8d"/>
<polygon points="204.7,122.1 209.5,121.4 204.7,119.9 199.9,120.6" fill="#18ff99"/>
<polygon points="214.3,122.9 219.1,121.9 214.3,120.4 209.5,121.4" fill="#17ffa2"/>
<polygon points="223.9,123.5 228.7,122.2 223.9,120.7 219.1,121.9" fill="#16ffa9"/>
<polygon points="243.2,123.9 248.0,122.0 243.2,120.4 238.4,122.2" fill="#19ffae"/>
<polygon points="252.8,123.7 257.6,121.5 252.8,119.9 248.0,122.0" fill="#1cffac"/>
<polygon points="262.4,123.3 267.2,120.8 262.4,119.2 257.6,121.5" fill="#20ffa8"/>
<polygon points="272.0,122.6 276.9,119.9 272.1,118.2 267.2,120.8" fill="#24ffa2"/>
<polygon points="185.5,119.7 190.3,119.6 185.5,118.2 180.7,118.3" fill="#1eff80"/>
<polygon points="233.5,123.8 238.4,122.2 233.5,120.7 228.7,122.2" fill="#17ffad"/>
<polygon points="141.9,110.9 146.8,112.0 142.0,110.8 137.1,109.5" fill="#4eff33"/>
<polygon points="151.6,113.4 156.5,114.3 151.7,113.0 146.8,112.0" fill="#2dff2f"/>
<polygon points="171.0,117.9 175.8,118.2 171.0,116.8 166.2,116.4" fill="#23ff59"/>
<polygon points="199.9,122.7 204.7,122.1 199.9,120.6 195.1,121.1" fill="#17ff8c"/>
<polygon points="219.1,124.7 223.9,123.5 219.1,121.9 214.3,122.9" fill="#13ffa3"/>
<polygon points="248.0,125.7 252.8,123.7 248.0,122.0 243.2,123.9" fill="#17ffb2"/>
<polygon points="267.2,125.2 272.0,122.6 267.2,120.8 262.4,123.3" fill="#1fffaf"/>
<polygon points="276.8,124.6 281.7,121.7 276.9,119.9 272.0,122.6" fill="#24ffa9"/>
<polygon points="161.3,115.8 166.2,116.4 161.4,115.0 156.5,114.3" fill="#28ff45"/>
<polygon points="180.6,119.7 185.5,119.7 180.7,118.3 175.8,118.2" fill="#1eff6c"/>
<polygon points="190.3,121.3 195.1,121.1 190.3,119.6 185.5,119.7" fill="#1aff7d"/>
<polygon points="209.5,123.8 214.3,122.9 209.5,121.4 204.7,122.1" fill="#14ff99"/>
<polygon points="228.7,125.3 233.5,123.8 228.7,122.2 223.9,123.5" fill="#13ffab"/>
<polygon points="238.4,125.6 243.2,123.9 238.4,122.2 233.5,123.8" fill="#15ffb0"/>
<polygon points="257.6,125.6 262.4,123.3 257.6,121.5 252.8,123.7" fill="#1bffb2"/>
<polygon points="146.8,112.4 151.6,113.4 146.8,112.0 141.9,110.9" fill="#4cff2f"/>
<polygon points="272.0,127.2 276.8,124.6 272.0,122.6 267.2,125.2" fill="#1fffb7"/>
<polygon points="137.0,109.5 141.9,110.9 137.1,109.5 132.2,108.0" fill="#71ff35"/>
<polygon points="156.5,115.0 161.3,115.8 156.5,114.3 151.6,113.4" fill="#29ff2a"/>
<polygon points="166.2,117.4 171.0,117.9 166.2,116.4 161.3,115.8" fill="#23ff41"/>
<polygon points="175.8,119.5 180.6,119.7 175.8,118.2 171.0,117.9" fill="#1eff56"/>
<polygon points="185.5,121.4 190.3,121.3 185.5,119.7 180.6,119.7" fill="#19ff6a"/>
<polygon points="195.1,123.1 199.9,122.7 195.1,121.1 190.3,121.3" fill="#15ff7d"/>
<polygon points="204.7,124.5 209.5,123.8 204.7,122.1 199.9,122.7" fill="#12ff8d"/>
<polygon points="214.3,125.6 219.1,124.7 214.3,122.9 209.5,123.8" fill="#10ff9b"/>
<polygon points="223.9,126.5 228.7,125.3 223.9,123.5 219.1,124.7" fill="#10ffa7"/>
<polygon points="233.5,127.2 238.4,125.6 233.5,123.8 228.7,125.3" fill="#11ffb0"/>
<polygon points="243.1,127.6 248.0,125.7 243.2,123.9 238.4,125.6" fill="#13ffb6"/>
<polygon points="252.8,127.7 257.6,125.6 252.8,123.7 248.0,125.7" fill="#16ffb9"/>
<polygon points="262.4,127.6 267.2,125.2 262.4,123.3 257.6,125.6" fill="#1affb9"/>
<polygon points="281.6,126.6 286.5,123.7 281.7,121.7 276.8,124.6" fill="#24ffb2"/>
<polygon points="132.1,107.9 137.0,109.5 132.2,108.0 127.3,106.3" fill="#95ff37"/>
<polygon points="141.9,111.1 146.8,112.4 141.9,110.9 137.0,109.5" fill="#6eff31"/>
<polygon points="151.6,114.0 156.5,115.0 151.6,113.4 146.8,112.4" fill="#48ff2a"/>
<polygon points="161.3,116.7 166.2,117.4 161.3,115.8 156.5,115.0" fill="#24ff26"/>
<polygon points="171.0,119.2 175.8,119.5 171.0,117.9 166.2,117.4" fill="#1fff3f"/>
<polygon points="180.6,121.3 185.5,121.4 180.6,119.7 175.8,119.5" fill="#19ff56"/>
<polygon points="190.3,123.3 195.1,123.1 190.3,121.3 185.5,121.4" fill="#15ff6b"/>
<polygon points="209.5,126.4 214.3,125.6 209.5,123.8 204.7,124.5" fill="#0eff91"/>
<polygon points="228.7,128.5 233.5,127.2 228.7,125.3 223.9,126.5" fill="#0dffad"/>
<polygon points="238.3,129.2 243.1,127.6 238.4,125.6 233.5,127.2" fill="#0effb7"/>
<polygon points="247.9,129.6 252.8,127.7 248.0,125.7 243.1,127.6" fill="#11ffbe"/>
<polygon points="257.5,129.8 262.4,127.6 257.6,125.6 252.8,127.7" fill="#15ffc2"/>
<polygon points="267.1,129.8 272.0,127.2 267.2,125.2 262.4,127.6" fill="#19ffc3"/>
<polygon points="276.8,129.5 281.6,126.6 276.8,124.6 272.0,127.2" fill="#1fffc1"/>
<polygon points="286.4,128.9 291.3,125.8 286.5,123.7 281.6,126.6" fill="#24ffbd"/>
<polygon points="199.9,125.0 204.7,124.5 199.9,122.7 195.1,123.1" fill="#11ff7f"/>
<polygon points="219.1,127.6 223.9,126.5 219.1,124.7 214.3,125.6" fill="#0dffa0"/>
<polygon points="127.2,106.1 132.1,107.9 127.3,106.3 122.3,104.4" fill="#bcff39"/>
<polygon points="136.9,109.6 141.9,111.1 137.0,109.5 132.1,107.9" fill="#92ff33"/>
<polygon points="156.4,115.8 161.3,116.7 156.5,115.0 151.6,114.0" fill="#42ff26"/>
<polygon points="175.8,121.1 180.6,121.3 175.8,119.5 171.0,119.2" fill="#1aff3f"/>
<polygon points="185.5,123.3 190.3,123.3 185.5,121.4 180.6,121.3" fill="#15ff57"/>
<polygon points="233.5,130.7 238.3,129.2 233.5,127.2 228.7,128.5" fill="#0affb5"/>
<polygon points="243.1,131.4 247.9,129.6 243.1,127.6 238.3,129.2" fill="#0cffc0"/>
<polygon points="262.3,132.1 267.1,129.8 262.4,127.6 257.5,129.8" fill="#14ffcd"/>
<polygon points="281.5,131.8 286.4,128.9 281.6,126.6 276.8,129.5" fill="#1fffce"/>
<polygon points="291.2,131.3 296.0,128.1 291.3,125.8 286.4,128.9" fill="#25ffca"/>
<polygon points="146.7,112.8 151.6,114.0 146.8,112.4 141.9,111.1" fill="#6aff2c"/>
<polygon points="166.1,118.6 171.0,119.2 166.2,117.4 161.3,116.7" fill="#20ff25"/>
<polygon points="195.1,125.3 199.9,125.0 195.1,123.1 190.3,123.3" fill="#10ff6e"/>
<polygon points="204.7,127.0 209.5,126.4 204.7,124.5 199.9,125.0" fill="#0dff83"/>
<polygon points="214.3,128.5 219.1,127.6 214.3,125.6 209.5,126.4" fill="#0aff96"/>
<polygon points="223.9,129.7 228.7,128.5 223.9,126.5 219.1,127.6" fill="#09ffa7"/>
<polygon points="252.7,131.9 257.5,129.8 252.8,127.7 247.9,129.6" fill="#10ffc9"/>
<polygon points="271.9,132.1 276.8,129.5 272.0,127.2 267.1,129.8" fill="#19ffcf"/>
<polygon points="122.2,104.1 127.2,106.1 122.3,104.4 117.3,102.4" fill="#e3ff3c"/>
<polygon points="132.0,107.9 136.9,109.6 132.1,107.9 127.2,106.1" fill="#b8ff35"/>
<polygon points="180.6,123.1 185.5,123.3 180.6,121.3 175.8,121.1" fill="#16ff41"/>
<polygon points="238.3,133.0 243.1,131.4 238.3,129.2 233.5,130.7" fill="#08ffc0"/>
<polygon points="286.3,134.3 291.2,131.3 286.4,128.9 281.5,131.8" fill="#20ffdd"/>
<polygon points="295.9,133.8 300.8,130.5 296.0,128.1 291.2,131.3" fill="#26ffda"/>
<polygon points="141.8,111.5 146.7,112.8 141.9,111.1 136.9,109.6" fill="#8eff2f"/>
<polygon points="151.5,114.8 156.4,115.8 151.6,114.0 146.7,112.8" fill="#63ff28"/>
<polygon points="161.3,117.8 166.1,118.6 161.3,116.7 156.4,115.8" fill="#3aff22"/>
<polygon points="171.0,120.6 175.8,121.1 171.0,119.2 166.1,118.6" fill="#1bff26"/>
<polygon points="190.3,125.4 195.1,125.3 190.3,123.3 185.5,123.3" fill="#10ff5b"/>
<polygon points="199.9,127.4 204.7,127.0 199.9,125.0 195.1,125.3" fill="#0cff74"/>
<polygon points="209.5,129.2 214.3,128.5 209.5,126.4 204.7,127.0" fill="#08ff8a"/>
<polygon points="219.1,130.7 223.9,129.7 219.1,127.6 214.3,128.5" fill="#06ff9f"/>
<polygon points="228.7,132.0 233.5,130.7 228.7,128.5 223.9,129.7" fill="#06ffb1"/>
<polygon points="247.9,133.8 252.7,131.9 247.9,129.6 243.1,131.4" fill="#0bffcd"/>
<polygon points="257.5,134.3 262.3,132.1 257.5,129.8 252.7,131.9" fill="#0fffd6"/>
<polygon points="267.1,134.6 271.9,132.1 267.1,129.8 262.3,132.1" fill="#14ffdb"/>
<polygon points="276.7,134.6 281.5,131.8 276.8,129.5 271.9,132.1" fill="#1affde"/>
<polygon points="127.1,106.0 132.0,107.9 127.2,106.1 122.2,104.1" fill="#e0ff38"/>
<polygon points="291.0,137.0 295.9,133.8 291.2,131.3 286.3,134.3" fill="#21ffee"/>
<polygon points="117.2,101.9 122.2,104.1 117.3,102.4 112.3,100.1" fill="#fff23f"/>
<polygon points="136.9,109.9 141.8,111.5 136.9,109.6 132.0,107.9" fill="#b3ff31"/>
<polygon points="146.6,113.5 151.5,114.8 146.7,112.8 141.8,111.5" fill="#87ff2a"/>
<polygon points="156.4,116.8 161.3,117.8 156.4,115.8 151.5,114.8" fill="#5bff24"/>
<polygon points="166.1,119.9 171.0,120.6 166.1,118.6 161.3,117.8" fill="#2fff1d"/>
<polygon points="175.8,122.7 180.6,123.1 175.8,121.1 171.0,120.6" fill="#17ff29"/>
<polygon points="185.5,125.3 190.3,125.4 185.5,123.3 180.6,123.1" fill="#11ff46"/>
<polygon points="195.1,127.6 199.9,127.4 195.1,125.3 190.3,125.4" fill="#0cff61"/>
<polygon points="204.7,129.7 209.5,129.2 204.7,127.0 199.9,127.4" fill="#07ff7c"/>
<polygon points="214.3,131.5 219.1,130.7 214.3,128.5 209.5,129.2" fill="#04ff94"/>
<polygon points="223.9,133.1 228.7,132.0 223.9,129.7 219.1,130.7" fill="#03ffaa"/>
<polygon points="233.5,134.4 238.3,133.0 233.5,130.7 228.7,132.0" fill="#03ffbe"/>
<polygon points="243.1,135.5 247.9,133.8 243.1,131.4 238.3,133.0" fill="#06ffce"/>
<polygon points="252.7,136.3 257.5,134.3 252.7,131.9 247.9,133.8" fill="#0affdb"/>
<polygon points="262.3,136.8 267.1,134.6 262.3,132.1 257.5,134.3" fill="#0fffe5"/>
<polygon points="271.9,137.2 276.7,134.6 271.9,132.1 267.1,134.6" fill="#15ffeb"/>
<polygon points="281.4,137.2 286.3,134.3 281.5,131.8 276.7,134.6" fill="#1bffee"/>
<polygon points="300.6,136.5 305.5,133.1 300.8,130.5 295.9,133.8" fill="#28ffeb"/>
<polygon points="112.2,99.5 117.2,101.9 112.3,100.1 107.3,97.6" fill="#ffc942"/>
<polygon points="122.1,103.9 127.1,106.0 122.2,104.1 117.2,101.9" fill="#fff63b"/>
<polygon points="131.9,108.1 136.9,109.9 132.0,107.9 127.1,106.0" fill="#daff34"/>
<polygon points="141.7,112.0 146.6,113.5 141.8,111.5 136.9,109.9" fill="#acff2d"/>
<polygon points="151.5,115.6 156.4,116.8 151.5,114.8 146.6,113.5" fill="#7eff26"/>
<polygon points="161.2,119.0 166.1,119.9 161.3,117.8 156.4,116.8" fill="#50ff20"/>
<polygon points="170.9,122.2 175.8,122.7 171.0,120.6 166.1,119.9" fill="#22ff19"/>
<polygon points="180.6,125.1 185.5,125.3 180.6,123.1 175.8,122.7" fill="#13ff2f"/>
<polygon points="190.3,127.7 195.1,127.6 190.3,125.4 185.5,125.3" fill="#0dff4d"/>
<polygon points="199.9,130.1 204.7,129.7 199.9,127.4 195.1,127.6" fill="#07ff6b"/>
<polygon points="209.5,132.2 214.3,131.5 209.5,129.2 204.7,129.7" fill="#03ff86"/>
<polygon points="219.1,134.0 223.9,133.1 219.1,130.7 214.3,131.5" fill="#00ffa0"/>
<polygon points="228.7,135.7 233.5,134.4 228.7,132.0 223.9,133.1" fill="#00ffb8"/>
<polygon points="238.3,137.0 243.1,135.5 238.3,133.0 233.5,134.4" fill="#01ffcd"/>
<polygon points="247.9,138.1 252.7,136.3 247.9,133.8 243.1,135.5" fill="#05ffdf"/>
<polygon points="257.5,139.0 262.3,136.8 257.5,134.3 252.7,136.3" fill="#0affec"/>
<polygon points="267.0,139.6 271.9,137.2 267.1,134.6 262.3,136.8" fill="#0ffff7"/>
<polygon points="276.6,139.9 281.4,137.2 276.7,134.6 271.9,137.2" fill="#15fffd"/>
<polygon points="286.2,140.0 291.0,137.0 286.3,134.3 281.4,137.2" fill="#1cfeff"/>
<polygon points="295.8,139.8 300.6,136.5 295.9,133.8 291.0,137.0" fill="#23feff"/>
<polygon points="305.4,139.4 310.3,135.8 305.5,133.1 300.6,136.5" fill="#29fffe"/>
<polygon points="107.2,96.9 112.2,99.5 107.3,97.6 102.3,94.8" fill="#ff9f45"/>
<polygon points="117.1,101.6 122.1,103.9 117.2,101.9 112.2,99.5" fill="#ffcd3e"/>
<polygon points="127.0,106.1 131.9,108.1 127.1,106.0 122.1,103.9" fill="#fffc37"/>
<polygon points="136.8,110.3 141.7,112.0 136.9,109.9 131.9,108.1" fill="#d3ff30"/>
<polygon points="146.6,114.3 151.5,115.6 146.6,113.5 141.7,112.0" fill="#a2ff29"/>
<polygon points="156.3,118.0 161.2,119.0 156.4,116.8 151.5,115.6" fill="#72ff22"/>
<polygon points="166.1,121.4 170.9,122.2 166.1,119.9 161.2,119.0" fill="#42ff1b"/>
<polygon points="175.8,124.6 180.6,125.1 175.8,122.7 170.9,122.2" fill="#15ff16"/>
<polygon points="185.4,127.5 190.3,127.7 185.5,125.3 180.6,125.1" fill="#0eff37"/>
<polygon points="195.1,130.2 199.9,130.1 195.1,127.6 190.3,127.7" fill="#08ff57"/>
<polygon points="204.7,132.6 209.5,132.2 204.7,129.7 199.9,130.1" fill="#03ff76"/>
<polygon points="214.3,134.8 219.1,134.0 214.3,131.5 209.5,132.2" fill="#00ff95"/>
<polygon points="223.9,136.7 228.7,135.7 223.9,133.1 219.1,134.0" fill="#00ffb1"/>
<polygon points="233.5,138.4 238.3,137.0 233.5,134.4 228.7,135.7" fill="#00ffca"/>
<polygon points="243.1,139.8 247.9,138.1 243.1,135.5 238.3,137.0" fill="#00ffdf"/>
<polygon points="252.7,140.9 257.5,139.0 252.7,136.3 247.9,138.1" fill="#04fff2"/>
<polygon points="262.2,141.8 267.0,139.6 262.3,136.8 257.5,139.0" fill="#0afeff"/>
<polygon points="271.8,142.4 276.6,139.9 271.9,137.2 267.0,139.6" fill="#10f4ff"/>
<polygon points="281.4,142.8 286.2,140.0 281.4,137.2 276.6,139.9" fill="#17edff"/>
<polygon points="290.9,143.0 295.8,139.8 291.0,137.0 286.2,140.0" fill="#1ee9ff"/>
<polygon points="300.5,142.8 305.4,139.4 300.6,136.5 295.8,139.8" fill="#24e9ff"/>
<polygon points="310.1,142.5 315.0,138.7 310.3,135.8 305.4,139.4" fill="#2becff"/>
<polygon points="112.1,99.1 117.1,101.6 112.2,99.5 107.2,96.9" fill="#ffa342"/>
<polygon points="122.0,103.9 127.0,106.1 122.1,103.9 117.1,101.6" fill="#ffd33b"/>
<polygon points="131.8,108.4 136.8,110.3 131.9,108.1 127.0,106.1" fill="#faff33"/>
<polygon points="151.4,116.7 156.3,118.0 151.5,115.6 146.6,114.3" fill="#97ff25"/>
<polygon points="161.2,120.4 166.1,121.4 161.2,119.0 156.3,118.0" fill="#65ff1e"/>
<polygon points="180.6,127.2 185.4,127.5 180.6,125.1 175.8,124.6" fill="#10ff1f"/>
<polygon points="199.9,132.9 204.7,132.6 199.9,130.1 195.1,130.2" fill="#04ff64"/>
<polygon points="209.5,135.3 214.3,134.8 209.5,132.2 204.7,132.6" fill="#00ff86"/>
<polygon points="219.1,137.6 223.9,136.7 219.1,134.0 214.3,134.8" fill="#00ffa7"/>
<polygon points="238.3,141.2 243.1,139.8 238.3,137.0 233.5,138.4" fill="#00ffde"/>
<polygon points="257.4,143.9 262.2,141.8 257.5,139.0 252.7,140.9" fill="#05f7ff"/>
<polygon points="267.0,144.8 271.8,142.4 267.0,139.6 262.2,141.8" fill="#0be9ff"/>
<polygon points="286.1,145.9 290.9,143.0 286.2,140.0 281.4,142.8" fill="#19d7ff"/>
<polygon points="295.6,146.1 300.5,142.8 295.8,139.8 290.9,143.0" fill="#1fd4ff"/>
<polygon points="305.2,146.0 310.1,142.5 305.4,139.4 300.5,142.8" fill="#26d3ff"/>
<polygon points="141.7,112.7 146.6,114.3 141.7,112.0 136.8,110.3" fill="#c9ff2c"/>
<polygon points="170.9,123.9 175.8,124.6 170.9,122.2 166.1,121.4" fill="#33ff17"/>
<polygon points="190.3,130.1 195.1,130.2 190.3,127.7 185.4,127.5" fill="#0aff42"/>
<polygon points="228.7,139.5 233.5,138.4 228.7,135.7 223.9,136.7" fill="#00ffc4"/>
<polygon points="247.9,142.7 252.7,140.9 247.9,138.1 243.1,139.8" fill="#00fff4"/>
<polygon points="276.5,145.5 281.4,142.8 276.6,139.9 271.8,142.4" fill="#12deff"/>
<polygon points="126.9,106.3 131.8,108.4 127.0,106.1 122.0,103.9" fill="#ffdb37"/>
<polygon points="156.3,119.3 161.2,120.4 156.3,118.0 151.4,116.7" fill="#89ff21"/>
<polygon points="204.7,135.7 209.5,135.3 204.7,132.6 199.9,132.9" fill="#00ff75"/>
<polygon points="214.3,138.2 219.1,137.6 214.3,134.8 209.5,135.3" fill="#00ff9a"/>
<polygon points="262.2,147.0 267.0,144.8 262.2,141.8 257.4,143.9" fill="#06e0ff"/>
<polygon points="290.8,149.2 295.6,146.1 290.9,143.0 286.1,145.9" fill="#1bbfff"/>
<polygon points="117.0,101.4 122.0,103.9 117.1,101.6 112.1,99.1" fill="#ffa93e"/>
<polygon points="136.7,110.9 141.7,112.7 136.8,110.3 131.8,108.4" fill="#f0ff30"/>
<polygon points="146.5,115.2 151.4,116.7 146.6,114.3 141.7,112.7" fill="#bdff29"/>
<polygon points="166.0,123.1 170.9,123.9 166.1,121.4 161.2,120.4" fill="#55ff1a"/>
<polygon points="175.8,126.6 180.6,127.2 175.8,124.6 170.9,123.9" fill="#21ff13"/>
<polygon points="185.4,129.9 190.3,130.1 185.4,127.5 180.6,127.2" fill="#0cff2b"/>
<polygon points="195.1,132.9 199.9,132.9 195.1,130.2 190.3,130.1" fill="#06ff50"/>
<polygon points="223.9,140.5 228.7,139.5 223.9,136.7 219.1,137.6" fill="#00ffbb"/>
<polygon points="233.5,142.5 238.3,141.2 233.5,138.4 228.7,139.5" fill="#00ffd9"/>
<polygon points="243.1,144.3 247.9,142.7 243.1,139.8 238.3,141.2" fill="#00fff4"/>
<polygon points="252.6,145.7 257.4,143.9 252.7,140.9 247.9,142.7" fill="#00f3ff"/>
<polygon points="271.7,148.0 276.5,145.5 271.8,142.4 267.0,144.8" fill="#0dd1ff"/>
<polygon points="281.3,148.7 286.1,145.9 281.4,142.8 276.5,145.5" fill="#14c6ff"/>
<polygon points="300.3,149.4 305.2,146.0 300.5,142.8 295.6,146.1" fill="#22bcff"/>
<polygon points="121.9,104.0 126.9,106.3 122.0,103.9 117.0,101.4" fill="#ffb13b"/>
<polygon points="141.6,113.5 146.5,115.2 141.7,112.7 136.7,110.9" fill="#e4ff2c"/>
<polygon points="151.4,117.9 156.3,119.3 151.4,116.7 146.5,115.2" fill="#aeff25"/>
<polygon points="170.9,125.9 175.8,126.6 170.9,123.9 166.0,123.1" fill="#42ff17"/>
<polygon points="190.3,132.8 195.1,132.9 190.3,130.1 185.4,129.9" fill="#08ff3a"/>
<polygon points="199.9,135.9 204.7,135.7 199.9,132.9 195.1,132.9" fill="#01ff61"/>
<polygon points="209.5,138.7 214.3,138.2 209.5,135.3 204.7,135.7" fill="#00ff8a"/>
<polygon points="219.1,141.3 223.9,140.5 219.1,137.6 214.3,138.2" fill="#00ffaf"/>
<polygon points="228.7,143.6 233.5,142.5 228.7,139.5 223.9,140.5" fill="#00ffd2"/>
<polygon points="247.8,147.4 252.6,145.7 247.9,142.7 243.1,144.3" fill="#00f2ff"/>
<polygon points="266.9,150.3 271.7,148.0 267.0,144.8 262.2,147.0" fill="#08c7ff"/>
<polygon points="276.4,151.3 281.3,148.7 276.5,145.5 271.7,148.0" fill="#0fb8ff"/>
<polygon points="295.5,152.6 300.3,149.4 295.6,146.1 290.8,149.2" fill="#1da6ff"/>
<polygon points="131.8,108.9 136.7,110.9 131.8,108.4 126.9,106.3" fill="#ffe533"/>
<polygon points="161.2,122.0 166.0,123.1 161.2,120.4 156.3,119.3" fill="#78ff1e"/>
<polygon points="180.6,129.5 185.4,129.9 180.6,127.2 175.8,126.6" fill="#0fff13"/>
<polygon points="238.3,145.7 243.1,144.3 238.3,141.2 233.5,142.5" fill="#00fff1"/>
<polygon points="257.4,149.0 262.2,147.0 257.4,143.9 252.6,145.7" fill="#01daff"/>
<polygon points="286.0,152.1 290.8,149.2 286.1,145.9 281.3,148.7" fill="#16adff"/>
<polygon points="146.5,116.3 151.4,117.9 146.5,115.2 141.6,113.5" fill="#d5ff29"/>
<polygon points="195.1,135.9 199.9,135.9 195.1,132.9 190.3,132.8" fill="#05ff4d"/>
<polygon points="223.9,144.5 228.7,143.6 223.9,140.5 219.1,141.3" fill="#00ffc8"/>
<polygon points="271.6,153.7 276.4,151.3 271.7,148.0 266.9,150.3" fill="#0aacff"/>
<polygon points="126.8,106.6 131.8,108.9 126.9,106.3 121.9,104.0" fill="#ffbc37"/>
<polygon points="136.6,111.6 141.6,113.5 136.7,110.9 131.8,108.9" fill="#fff230"/>
<polygon points="156.3,120.7 161.2,122.0 156.3,119.3 151.4,117.9" fill="#9eff21"/>
<polygon points="166.0,124.9 170.9,125.9 166.0,123.1 161.2,122.0" fill="#65ff1a"/>
<polygon points="175.7,128.8 180.6,129.5 175.8,126.6 170.9,125.9" fill="#2dff13"/>
<polygon points="185.4,132.5 190.3,132.8 185.4,129.9 180.6,129.5" fill="#0cff23"/>
<polygon points="204.7,139.0 209.5,138.7 204.7,135.7 199.9,135.9" fill="#00ff77"/>
<polygon points="214.3,141.9 219.1,141.3 214.3,138.2 209.5,138.7" fill="#00ffa1"/>
<polygon points="233.5,146.9 238.3,145.7 233.5,142.5 228.7,143.6" fill="#00ffeb"/>
<polygon points="243.0,149.0 247.8,147.4 243.1,144.3 238.3,145.7" fill="#00f3ff"/>
<polygon points="252.6,150.8 257.4,149.0 252.6,145.7 247.8,147.4" fill="#00d7ff"/>
<polygon points="262.1,152.4 266.9,150.3 262.2,147.0 257.4,149.0" fill="#03beff"/>
<polygon points="281.1,154.8 286.0,152.1 281.3,148.7 276.4,151.3" fill="#119dff"/>
<polygon points="290.7,155.6 295.5,152.6 290.8,149.2 286.0,152.1" fill="#1993ff"/>
<polygon points="131.7,109.5 136.6,111.6 131.8,108.9 126.8,106.6" fill="#ffc934"/>
<polygon points="141.5,114.5 146.5,116.3 141.6,113.5 136.6,111.6" fill="#fdff2d"/>
<polygon points="151.4,119.2 156.3,120.7 151.4,117.9 146.5,116.3" fill="#c4ff25"/>
<polygon points="161.1,123.7 166.0,124.9 161.2,122.0 156.3,120.7" fill="#8aff1e"/>
<polygon points="170.9,128.0 175.7,128.8 170.9,125.9 166.0,124.9" fill="#50ff17"/>
<polygon points="180.6,131.9 185.4,132.5 180.6,129.5 175.7,128.8" fill="#15ff10"/>
<polygon points="190.3,135.6 195.1,135.9 190.3,132.8 185.4,132.5" fill="#08ff36"/>
<polygon points="199.9,139.1 204.7,139.0 199.9,135.9 195.1,135.9" fill="#01ff62"/>
<polygon points="209.5,142.3 214.3,141.9 209.5,138.7 204.7,139.0" fill="#00ff90"/>
<polygon points="219.1,145.2 223.9,144.5 219.1,141.3 214.3,141.9" fill="#00ffbb"/>
<polygon points="228.7,147.9 233.5,146.9 228.7,143.6 223.9,144.5" fill="#00ffe2"/>
<polygon points="238.3,150.3 243.0,149.0 238.3,145.7 233.5,146.9" fill="#00f8ff"/>
<polygon points="247.8,152.4 252.6,150.8 247.8,147.4 243.0,149.0" fill="#00d7ff"/>
<polygon points="257.3,154.3 262.1,152.4 257.4,149.0 252.6,150.8" fill="#00baff"/>
<polygon points="266.8,156.0 271.6,153.7 266.9,150.3 262.1,152.4" fill="#06a2ff"/>
<polygon points="276.3,157.3 281.1,154.8 276.4,151.3 271.6,153.7" fill="#0d8fff"/>
<polygon points="285.8,158.5 290.7,155.6 286.0,152.1 281.1,154.8" fill="#1481ff"/>
<polygon points="136.6,112.5 141.5,114.5 136.6,111.6 131.7,109.5" fill="#ffd831"/>
<polygon points="146.4,117.6 151.4,119.2 146.5,116.3 141.5,114.5" fill="#ecff29"/>
<polygon points="156.2,122.4 161.1,123.7 156.3,120.7 151.4,119.2" fill="#b1ff22"/>
<polygon points="175.7,131.2 180.6,131.9 175.7,128.8 170.9,128.0" fill="#38ff14"/>
<polygon points="185.4,135.2 190.3,135.6 185.4,132.5 180.6,131.9" fill="#0cff1e"/>
<polygon points="195.1,139.0 199.9,139.1 195.1,135.9 190.3,135.6" fill="#05ff4c"/>
<polygon points="204.7,142.5 209.5,142.3 204.7,139.0 199.9,139.1" fill="#00ff7b"/>
<polygon points="214.3,145.7 219.1,145.2 214.3,141.9 209.5,142.3" fill="#00ffab"/>
<polygon points="223.9,148.7 228.7,147.9 223.9,144.5 219.1,145.2" fill="#00ffd7"/>
<polygon points="233.5,151.4 238.3,150.3 233.5,146.9 228.7,147.9" fill="#00ffff"/>
<polygon points="243.0,153.9 247.8,152.4 243.0,149.0 238.3,150.3" fill="#00daff"/>
<polygon points="262.0,158.0 266.8,156.0 262.1,152.4 257.3,154.3" fill="#029bff"/>
<polygon points="271.5,159.7 276.3,157.3 271.6,153.7 266.8,156.0" fill="#0983ff"/>
<polygon points="281.0,161.1 285.8,158.5 281.1,154.8 276.3,157.3" fill="#1071ff"/>
<polygon points="166.0,126.9 170.9,128.0 166.0,124.9 161.1,123.7" fill="#74ff1b"/>
<polygon points="252.5,156.1 257.3,154.3 252.6,150.8 247.8,152.4" fill="#00b8ff"/>
<polygon points="151.3,120.8 156.2,122.4 151.4,119.2 146.4,117.6" fill="#d8ff27"/>
<polygon points="180.6,134.6 185.4,135.2 180.6,131.9 175.7,131.2" fill="#1dff11"/>
<polygon points="190.3,138.7 195.1,139.0 190.3,135.6 185.4,135.2" fill="#0aff35"/>
<polygon points="209.5,146.1 214.3,145.7 209.5,142.3 204.7,142.5" fill="#00ff98"/>
<polygon points="228.7,152.4 233.5,151.4 228.7,147.9 223.9,148.7" fill="#00fff5"/>
<polygon points="238.2,155.2 243.0,153.9 238.3,150.3 233.5,151.4" fill="#00e0ff"/>
<polygon points="266.7,161.9 271.5,159.7 266.8,156.0 262.0,158.0" fill="#057bff"/>
<polygon points="141.5,115.7 146.4,117.6 141.5,114.5 136.6,112.5" fill="#ffea2e"/>
<polygon points="161.1,125.7 166.0,126.9 161.1,123.7 156.2,122.4" fill="#9aff1f"/>
<polygon points="170.9,130.3 175.7,131.2 170.9,128.0 166.0,126.9" fill="#5cff18"/>
<polygon points="199.9,142.5 204.7,142.5 199.9,139.1 195.1,139.0" fill="#03ff66"/>
<polygon points="219.1,149.3 223.9,148.7 219.1,145.2 214.3,145.7" fill="#00ffc8"/>
<polygon points="247.7,157.7 252.5,156.1 247.8,152.4 243.0,153.9" fill="#00baff"/>
<polygon points="257.3,159.9 262.0,158.0 257.3,154.3 252.5,156.1" fill="#0097ff"/>
<polygon points="276.2,163.6 281.0,161.1 276.3,157.3 271.5,159.7" fill="#0c64ff"/>
<polygon points="146.4,119.0 151.3,120.8 146.4,117.6 141.5,115.7" fill="#fffe2b"/>
<polygon points="166.0,129.1 170.9,130.3 166.0,126.9 161.1,125.7" fill="#82ff1d"/>
<polygon points="175.7,133.8 180.6,134.6 175.7,131.2 170.9,130.3" fill="#41ff15"/>
<polygon points="185.4,138.2 190.3,138.7 185.4,135.2 180.6,134.6" fill="#0eff1c"/>
<polygon points="195.1,142.3 199.9,142.5 195.1,139.0 190.3,138.7" fill="#07ff4f"/>
<polygon points="204.7,146.2 209.5,146.1 204.7,142.5 199.9,142.5" fill="#00ff82"/>
<polygon points="214.3,149.8 219.1,149.3 214.3,145.7 209.5,146.1" fill="#00ffb7"/>
<polygon points="223.9,153.1 228.7,152.4 223.9,148.7 219.1,149.3" fill="#00ffe8"/>
<polygon points="233.4,156.2 238.2,155.2 233.5,151.4 228.7,152.4" fill="#00e8ff"/>
<polygon points="243.0,159.0 247.7,157.7 243.0,153.9 238.2,155.2" fill="#00beff"/>
<polygon points="252.5,161.6 257.3,159.9 252.5,156.1 247.7,157.7" fill="#0097ff"/>
<polygon points="271.4,166.0 276.2,163.6 271.5,159.7 266.7,161.9" fill="#095aff"/>
<polygon points="156.2,124.2 161.1,125.7 156.2,122.4 151.3,120.8" fill="#c2ff24"/>
<polygon points="262.0,163.9 266.7,161.9 262.0,158.0 257.3,159.9" fill="#0275ff"/>
<polygon points="170.8,132.7 175.7,133.8 170.9,130.3 166.0,129.1" fill="#67ff1a"/>
<polygon points="180.6,137.5 185.4,138.2 180.6,134.6 175.7,133.8" fill="#24ff13"/>
<polygon points="199.9,146.1 204.7,146.2 199.9,142.5 195.1,142.3" fill="#06ff6d"/>
<polygon points="219.1,153.7 223.9,153.1 219.1,149.3 214.3,149.8" fill="#00ffd8"/>
<polygon points="238.2,160.2 243.0,159.0 238.2,155.2 233.4,156.2" fill="#00c5ff"/>
<polygon points="247.7,163.1 252.5,161.6 247.7,157.7 243.0,159.0" fill="#009aff"/>
<polygon points="151.3,122.5 156.2,124.2 151.3,120.8 146.4,119.0" fill="#eaff28"/>
<polygon points="161.1,127.7 166.0,129.1 161.1,125.7 156.2,124.2" fill="#a9ff21"/>
<polygon points="190.2,141.9 195.1,142.3 190.3,138.7 185.4,138.2" fill="#0cff38"/>
<polygon points="209.5,150.0 214.3,149.8 209.5,146.1 204.7,146.2" fill="#00ffa3"/>
<polygon points="228.7,157.1 233.4,156.2 228.7,152.4 223.9,153.1" fill="#00f4ff"/>
<polygon points="257.2,165.7 262.0,163.9 257.3,159.9 252.5,161.6" fill="#0072ff"/>
<polygon points="266.7,168.1 271.4,166.0 266.7,161.9 262.0,163.9" fill="#0652ff"/>
<polygon points="156.2,126.2 161.1,127.7 156.2,124.2 151.3,122.5" fill="#d0ff26"/>
<polygon points="165.9,131.5 170.8,132.7 166.0,129.1 161.1,127.7" fill="#8dff1f"/>
<polygon points="175.7,136.5 180.6,137.5 175.7,133.8 170.8,132.7" fill="#49ff18"/>
<polygon points="185.4,141.3 190.2,141.9 185.4,138.2 180.6,137.5" fill="#11ff1e"/>
<polygon points="195.1,145.8 199.9,146.1 195.1,142.3 190.2,141.9" fill="#0bff56"/>
<polygon points="204.7,150.1 209.5,150.0 204.7,146.2 199.9,146.1" fill="#05ff8e"/>
<polygon points="214.3,154.1 219.1,153.7 214.3,149.8 209.5,150.0" fill="#00ffc5"/>
<polygon points="223.9,157.8 228.7,157.1 223.9,153.1 219.1,153.7" fill="#00fffc"/>
<polygon points="233.4,161.2 238.2,160.2 233.4,156.2 228.7,157.1" fill="#00cfff"/>
<polygon points="242.9,164.4 247.7,163.1 243.0,159.0 238.2,160.2" fill="#00a0ff"/>
<polygon points="252.4,167.4 257.2,165.7 252.5,161.6 247.7,163.1" fill="#0074ff"/>
<polygon points="261.9,170.0 266.7,168.1 262.0,163.9 257.2,165.7" fill="#044eff"/>
<polygon points="161.0,130.0 165.9,131.5 161.1,127.7 156.2,126.2" fill="#b5ff24"/>
<polygon points="170.8,135.4 175.7,136.5 170.8,132.7 165.9,131.5" fill="#70ff1d"/>
<polygon points="180.5,140.5 185.4,141.3 180.6,137.5 175.7,136.5" fill="#29ff16"/>
<polygon points="190.2,145.3 195.1,145.8 190.2,141.9 185.4,141.3" fill="#10ff3d"/>
<polygon points="209.5,154.2 214.3,154.1 209.5,150.0 204.7,150.1" fill="#04ffb1"/>
<polygon points="228.6,162.0 233.4,161.2 228.7,157.1 223.9,157.8" fill="#00dcff"/>
<polygon points="238.1,165.6 242.9,164.4 238.2,160.2 233.4,161.2" fill="#00a9ff"/>
<polygon points="247.6,168.8 252.4,167.4 247.7,163.1 242.9,164.4" fill="#0078ff"/>
<polygon points="257.1,171.8 261.9,170.0 257.2,165.7 252.4,167.4" fill="#034eff"/>
<polygon points="199.9,149.9 204.7,150.1 199.9,146.1 195.1,145.8" fill="#0aff77"/>
<polygon points="219.1,158.3 223.9,157.8 219.1,153.7 214.3,154.1" fill="#00ffea"/>
<polygon points="185.4,144.6 190.2,145.3 185.4,141.3 180.5,140.5" fill="#15ff23"/>
<polygon points="233.4,166.5 238.1,165.6 233.4,161.2 228.6,162.0" fill="#00b4ff"/>
<polygon points="165.9,134.0 170.8,135.4 165.9,131.5 161.0,130.0" fill="#97ff22"/>
<polygon points="175.7,139.5 180.5,140.5 175.7,136.5 170.8,135.4" fill="#4fff1c"/>
<polygon points="204.7,154.2 209.5,154.2 204.7,150.1 199.9,149.9" fill="#09ff9b"/>
<polygon points="214.3,158.5 219.1,158.3 214.3,154.1 209.5,154.2" fill="#05ffd7"/>
<polygon points="242.9,170.1 247.6,168.8 242.9,164.4 238.1,165.6" fill="#0080ff"/>
<polygon points="252.3,173.4 257.1,171.8 252.4,167.4 247.6,168.8" fill="#0350ff"/>
<polygon points="195.1,149.5 199.9,149.9 195.1,145.8 190.2,145.3" fill="#0fff5f"/>
<polygon points="223.8,162.6 228.6,162.0 223.9,157.8 219.1,158.3" fill="#01ecff"/>
<polygon points="180.5,143.7 185.4,144.6 180.5,140.5 175.7,139.5" fill="#2dff1a"/>
<polygon points="238.1,171.1 242.9,170.1 238.1,165.6 233.4,166.5" fill="#038bff"/>
<polygon points="170.8,138.3 175.7,139.5 170.8,135.4 165.9,134.0" fill="#76ff21"/>
<polygon points="190.2,149.0 195.1,149.5 190.2,145.3 185.4,144.6" fill="#14ff45"/>
<polygon points="199.9,153.9 204.7,154.2 199.9,149.9 195.1,149.5" fill="#0fff84"/>
<polygon points="209.5,158.6 214.3,158.5 209.5,154.2 204.7,154.2" fill="#0affc2"/>
<polygon points="219.1,163.1 223.8,162.6 219.1,158.3 214.3,158.5" fill="#06ffff"/>
<polygon points="228.6,167.2 233.4,166.5 228.6,162.0 223.8,162.6" fill="#03c3ff"/>
<polygon points="247.6,174.7 252.3,173.4 247.6,168.8 242.9,170.1" fill="#0557ff"/>
<polygon points="175.7,142.6 180.5,143.7 175.7,139.5 170.8,138.3" fill="#54ff20"/>
<polygon points="195.0,153.5 199.9,153.9 195.1,149.5 190.2,149.0" fill="#14ff6a"/>
<polygon points="204.7,158.5 209.5,158.6 204.7,154.2 199.9,153.9" fill="#0fffab"/>
<polygon points="214.3,163.3 219.1,163.1 214.3,158.5 209.5,158.6" fill="#0bffea"/>
<polygon points="223.8,167.7 228.6,167.2 223.8,162.6 219.1,163.1" fill="#08d5ff"/>
<polygon points="242.8,175.9 247.6,174.7 242.9,170.1 238.1,171.1" fill="#0761ff"/>
<polygon points="185.4,148.2 190.2,149.0 185.4,144.6 180.5,143.7" fill="#1aff2b"/>
<polygon points="233.3,172.0 238.1,171.1 233.4,166.5 228.6,167.2" fill="#0699ff"/>
<polygon points="190.2,152.8 195.0,153.5 190.2,149.0 185.4,148.2" fill="#19ff50"/>
<polygon points="199.9,158.2 204.7,158.5 199.9,153.9 195.0,153.5" fill="#14ff92"/>
<polygon points="209.5,163.2 214.3,163.3 209.5,158.6 204.7,158.5" fill="#10ffd4"/>
<polygon points="219.0,168.1 223.8,167.7 219.1,163.1 214.3,163.3" fill="#0ce9ff"/>
<polygon points="228.6,172.6 233.3,172.0 228.6,167.2 223.8,167.7" fill="#0aaaff"/>
<polygon points="180.5,147.2 185.4,148.2 180.5,143.7 175.7,142.6" fill="#2fff1f"/>
<polygon points="238.1,176.9 242.8,175.9 238.1,171.1 233.3,172.0" fill="#0a6eff"/>
<polygon points="185.4,151.9 190.2,152.8 185.4,148.2 180.5,147.2" fill="#1fff34"/>
<polygon points="195.0,157.6 199.9,158.2 195.0,153.5 190.2,152.8" fill="#19ff78"/>
<polygon points="204.7,163.0 209.5,163.2 204.7,158.5 199.9,158.2" fill="#15ffbc"/>
<polygon points="214.2,168.2 219.0,168.1 214.3,163.3 209.5,163.2" fill="#11ffff"/>
<polygon points="223.8,173.1 228.6,172.6 223.8,167.7 219.0,168.1" fill="#0ebdff"/>
<polygon points="233.3,177.7 238.1,176.9 233.3,172.0 228.6,172.6" fill="#0d7dff"/>
<polygon points="190.2,156.9 195.0,157.6 190.2,152.8 185.4,151.9" fill="#1fff5d"/>
<polygon points="199.8,162.6 204.7,163.0 199.9,158.2 195.0,157.6" fill="#1affa2"/>
<polygon points="209.4,168.1 214.2,168.2 209.5,163.2 204.7,163.0" fill="#16ffe8"/>
<polygon points="219.0,173.3 223.8,173.1 219.0,168.1 214.2,168.2" fill="#13d2ff"/>
<polygon points="228.5,178.2 233.3,177.7 228.6,172.6 223.8,173.1" fill="#118fff"/>
<polygon points="195.0,162.0 199.8,162.6 195.0,157.6 190.2,156.9" fill="#1fff87"/>
<polygon points="204.6,167.8 209.4,168.1 204.7,163.0 199.8,162.6" fill="#1bffce"/>
<polygon points="214.2,173.3 219.0,173.3 214.2,168.2 209.4,168.1" fill="#17e9ff"/>
<polygon points="223.8,178.6 228.5,178.2 223.8,173.1 219.0,173.3" fill="#15a4ff"/>
<polygon points="199.8,167.3 204.6,167.8 199.8,162.6 195.0,162.0" fill="#20ffb4"/>
<polygon points="209.4,173.2 214.2,173.3 209.4,168.1 204.6,167.8" fill="#1cfffc"/>
<polygon points="219.0,178.8 223.8,178.6 219.0,173.3 214.2,173.3" fill="#19baff"/>
<polygon points="204.6,172.8 209.4,173.2 204.6,167.8 199.8,167.3" fill="#21ffe2"/>
<polygon points="214.2,178.7 219.0,178.8 214.2,173.3 209.4,173.2" fill="#1ed2ff"/>
<polygon points="209.4,178.5 214.2,178.7 209.4,173.2 204.6,172.8" fill="#23ecff"/>
</g>
<rect x="104.9" y="169.1" width="1.6" height="1.6" fill="#111"/>
<text x="102.4" y="168.9" font-size="5.4" text-anchor="end" fill="#333">0.84</text>
<rect x="104.2" y="152.9" width="1.6" height="1.6" fill="#111"/>
<text x="101.7" y="152.7" font-size="5.4" text-anchor="end" fill="#333">0.86</text>
<rect x="103.5" y="136.8" width="1.6" height="1.6" fill="#111"/>
<text x="101.0" y="136.6" font-size="5.4" text-anchor="end" fill="#333">0.88</text>
<rect x="102.7" y="120.7" width="1.6" height="1.6" fill="#111"/>
<text x="100.2" y="120.5" font-size="5.4" text-anchor="end" fill="#333">0.9</text>
<rect x="102.0" y="104.5" width="1.6" height="1.6" fill="#111"/>
<text x="99.5" y="104.3" font-size="5.4" text-anchor="end" fill="#333">0.92</text>
<rect x="101.2" y="88.4" width="1.6" height="1.6" fill="#111"/>
<text x="98.7" y="88.2" font-size="5.4" text-anchor="end" fill="#333">0.94</text>
<rect x="100.5" y="72.3" width="1.6" height="1.6" fill="#111"/>
<text x="98.0" y="72.1" font-size="5.4" text-anchor="end" fill="#333">0.96</text>
<rect x="208.6" y="245.7" width="1.6" height="1.6" fill="#111"/>
<text x="207.2" y="252.1" font-size="5.8" text-anchor="end" fill="#333">0.8</text>
<rect x="183.1" y="234.6" width="1.6" height="1.6" fill="#111"/>
<text x="181.7" y="241.0" font-size="5.8" text-anchor="end" fill="#333">0.9</text>
<rect x="157.5" y="223.5" width="1.6" height="1.6" fill="#111"/>
<text x="156.1" y="229.9" font-size="5.8" text-anchor="end" fill="#333">1</text>
<rect x="131.9" y="212.4" width="1.6" height="1.6" fill="#111"/>
<text x="130.6" y="218.8" font-size="5.8" text-anchor="end" fill="#333">1.1</text>
<rect x="106.4" y="201.3" width="1.6" height="1.6" fill="#111"/>
<text x="105.0" y="207.7" font-size="5.8" text-anchor="end" fill="#333">1.2</text>
<rect x="208.6" y="245.7" width="1.6" height="1.6" fill="#111"/>
<text x="211.8" y="252.3" font-size="5.8" text-anchor="start" fill="#333">35</text>
<rect x="229.0" y="236.8" width="1.6" height="1.6" fill="#111"/>
<text x="232.2" y="243.4" font-size="5.8" text-anchor="start" fill="#333">37</text>
<rect x="249.5" y="227.9" width="1.6" height="1.6" fill="#111"/>
<text x="252.7" y="234.5" font-size="5.8" text-anchor="start" fill="#333">39</text>
<rect x="269.9" y="219.0" width="1.6" height="1.6" fill="#111"/>
<text x="273.1" y="225.6" font-size="5.8" text-anchor="start" fill="#333">41</text>
<rect x="290.4" y="210.1" width="1.6" height="1.6" fill="#111"/>
<text x="293.6" y="216.7" font-size="5.8" text-anchor="start" fill="#333">43</text>
<rect x="310.8" y="201.2" width="1.6" height="1.6" fill="#111"/>
<text x="314.0" y="207.8" font-size="5.8" text-anchor="start" fill="#333">45</text>
<circle cx="102.5" cy="98.7" r="2.4" fill="#ffd6d6" stroke="#8a2020" stroke-width="0.6"/>
<circle cx="209.7" cy="131.3" r="2.0" fill="#b0000a" stroke="#6e0000" stroke-width="0.5"/>
<circle cx="208.6" cy="177.9" r="2.2" fill="#b0000a" stroke="#6e0000" stroke-width="0.5"/>
<text x="119.2" y="243.1" font-size="6.7" text-anchor="middle" fill="#333" textLength="57" lengthAdjust="spacingAndGlyphs">B: Flow rate (ml/min)</text>
<text x="299.6" y="243.1" font-size="6.7" text-anchor="middle" fill="#333" textLength="48.4" lengthAdjust="spacingAndGlyphs">A: Acetonitrile (%)</text>
<text transform="translate(69.2,139) rotate(-90)" font-size="6.3" text-anchor="middle" fill="#333" textLength="42" lengthAdjust="spacingAndGlyphs">Tailing factor (%)</text>
<text x="227.1" y="15.2" font-size="10.2" text-anchor="middle" fill="#222" textLength="47.4" lengthAdjust="spacingAndGlyphs">3D Surface</text>
<text x="5" y="11.0" font-size="7.1" fill="#333" textLength="62.6" lengthAdjust="spacingAndGlyphs">Factor Coding: Actual</text>
<text x="5" y="30.8" font-size="7.3" fill="#111" font-weight="bold" textLength="53.5" lengthAdjust="spacingAndGlyphs">Tailing factor (%)</text>
<text x="5" y="39.9" font-size="7.1" fill="#444" textLength="40.8" lengthAdjust="spacingAndGlyphs">Design Points:</text>
<circle cx="11.9" cy="48" r="3.1" fill="#b0000a" stroke="#6e0000" stroke-width="0.5"/>
<text x="19.5" y="50.4" font-size="7.1" fill="#a01820" textLength="41.2" lengthAdjust="spacingAndGlyphs">Above Surface</text>
<circle cx="11.9" cy="57.4" r="3.1" fill="#ffd0d0" stroke="#8a2020" stroke-width="0.5"/>
<text x="19.5" y="59.8" font-size="7.1" fill="#a01820" textLength="40.5" lengthAdjust="spacingAndGlyphs">Below Surface</text>
<rect x="19.5" y="63.5" width="24" height="8.1" fill="url(#lg)"/>
<text x="5" y="70.1" font-size="6.9" fill="#1414c8" textLength="11.5" lengthAdjust="spacingAndGlyphs">0.86</text>
<text x="46.5" y="70.1" font-size="6.9" fill="#c81414" textLength="12" lengthAdjust="spacingAndGlyphs">0.94</text>
<text x="5" y="88.9" font-size="7.1" fill="#333" textLength="19" lengthAdjust="spacingAndGlyphs">X1 = A</text>
<text x="5" y="99.2" font-size="7.1" fill="#333" textLength="19" lengthAdjust="spacingAndGlyphs">X2 = B</text>
<text x="5" y="118.7" font-size="7.3" fill="#111" font-weight="bold" textLength="40.8" lengthAdjust="spacingAndGlyphs">Actual Factor</text>
<text x="5" y="127.8" font-size="7.1" fill="#333" textLength="23" lengthAdjust="spacingAndGlyphs">C = 260</text>
<text x="11" y="294.8" font-size="6.9" fill="#333" textLength="60" lengthAdjust="spacingAndGlyphs">Factor Coding: Actual</text>
<text x="11" y="312.0" font-size="7.1" fill="#111" font-weight="bold" textLength="51.3" lengthAdjust="spacingAndGlyphs">Tailing factor (%)</text>
<ellipse cx="17.2" cy="319.7" rx="3.6" ry="2.8" fill="#b0000a" stroke="#6e0000" stroke-width="0.5"/>
<text x="24.8" y="321.9" font-size="6.9" fill="#a01820" textLength="37.5" lengthAdjust="spacingAndGlyphs">Design Points</text>
<rect x="24.8" y="333.7" width="23.3" height="7.3" fill="url(#lg)" stroke="#333" stroke-width="0.4"/>
<text x="11" y="339.8" font-size="6.7" fill="#1414c8" textLength="10.8" lengthAdjust="spacingAndGlyphs">0.86</text>
<text x="50.9" y="339.8" font-size="6.7" fill="#c81414" textLength="11.4" lengthAdjust="spacingAndGlyphs">0.94</text>
<text x="11" y="349.0" font-size="6.9" fill="#333" textLength="18.8" lengthAdjust="spacingAndGlyphs">X1 = A</text>
<text x="11" y="357.7" font-size="6.9" fill="#333" textLength="18.8" lengthAdjust="spacingAndGlyphs">X2 = B</text>
<text x="11" y="375.3" font-size="7.1" fill="#111" font-weight="bold" textLength="39.4" lengthAdjust="spacingAndGlyphs">Actual Factor</text>
<text x="11" y="383.8" font-size="6.9" fill="#333" textLength="21.5" lengthAdjust="spacingAndGlyphs">C = 260</text>
</svg>
<div class="cap" style="left:197px;top:277.8px">(<b>a</b>)</div>
<div class="cap" style="left:196.3px;top:539px">(<b>b</b>)</div>
</body></html>
